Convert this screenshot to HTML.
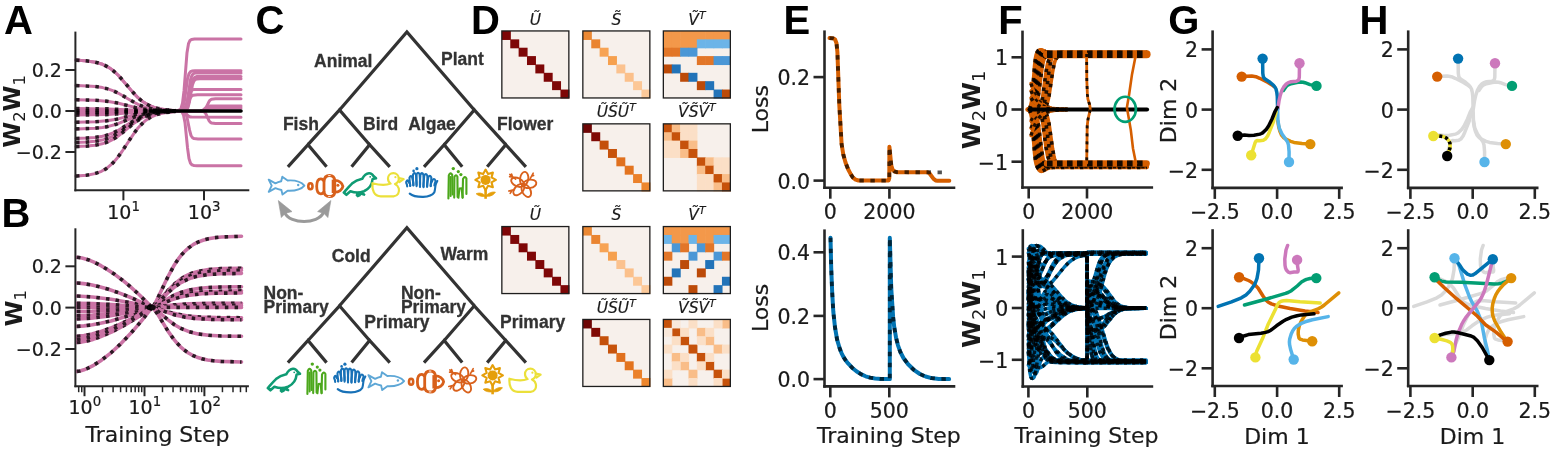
<!DOCTYPE html>
<html><head><meta charset="utf-8"><title>Figure</title>
<style>html,body{margin:0;padding:0;background:#fff;} svg{display:block;}</style></head>
<body><svg width="1551" height="451" viewBox="0 0 1551 451">
<rect width="1551" height="451" fill="#fff"/>
<path d="M76.0,60.1 87.0,60.9 95.5,62.2 102.5,64.3 108.5,67.3 113.5,70.8 118.5,75.5 132.5,91.9 138.0,97.7 143.0,101.8 148.5,105.1 154.5,107.5 161.0,109.1 170.0,110.2 178.0,110.4 180.0,109.6 181.0,108.3 182.5,103.3 184.0,90.9 187.0,52.7 188.5,43.7 190.0,40.4 191.5,39.4 194.5,39.0 241.0,39.0" fill="none" stroke="#ca73a5" stroke-width="3.0" stroke-linecap="round" stroke-linejoin="round" />
<path d="M76.0,85.6 87.0,85.9 95.5,86.6 102.5,87.6 108.5,89.1 113.5,90.9 118.5,93.3 132.5,101.5 138.0,104.3 143.0,106.4 148.5,108.1 154.5,109.3 161.0,110.0 170.5,110.6 178.5,110.7 180.5,110.3 181.5,109.6 183.0,107.0 184.5,100.4 187.5,78.9 189.0,73.6 190.5,71.7 192.0,71.0 195.0,70.8 241.0,70.8" fill="none" stroke="#ca73a5" stroke-width="3.0" stroke-linecap="round" stroke-linejoin="round" />
<path d="M76.0,99.8 95.5,100.3 108.5,101.4 118.5,103.2 138.0,108.1 149.0,109.8 164.0,110.7 182.0,110.7 183.5,110.3 184.5,109.6 186.0,106.7 187.5,99.8 190.5,79.7 192.0,75.2 193.5,73.6 195.0,73.1 198.0,72.9 241.0,72.9" fill="none" stroke="#ca73a5" stroke-width="3.0" stroke-linecap="round" stroke-linejoin="round" />
<path d="M76.0,108.6 108.5,108.9 150.5,110.8 178.5,111.0 184.0,110.7 185.5,110.2 186.5,109.3 188.0,105.9 189.0,101.4 192.0,83.0 193.5,78.7 195.0,77.1 196.5,76.6 199.5,76.4 241.0,76.4" fill="none" stroke="#ca73a5" stroke-width="3.0" stroke-linecap="round" stroke-linejoin="round" />
<path d="M76.0,111.0 179.0,111.0 184.5,110.8 186.5,109.8 188.0,107.4 189.5,101.6 192.5,84.6 194.0,80.8 195.5,79.4 197.0,79.0 200.0,78.8 241.0,78.8" fill="none" stroke="#ca73a5" stroke-width="3.0" stroke-linecap="round" stroke-linejoin="round" />
<path d="M76.0,112.6 106.5,112.4 144.0,111.3 181.5,110.8 183.5,110.1 185.0,108.3 186.5,104.0 189.0,94.2 190.5,91.1 192.0,90.0 193.5,89.6 196.5,89.5 241.0,89.5" fill="none" stroke="#ca73a5" stroke-width="3.0" stroke-linecap="round" stroke-linejoin="round" />
<path d="M76.0,115.1 108.5,114.5 138.0,112.1 148.5,111.5 182.5,110.9 184.5,110.3 186.0,108.9 187.5,105.7 190.0,98.3 191.5,96.1 193.0,95.2 197.5,94.8 241.0,94.8" fill="none" stroke="#ca73a5" stroke-width="3.0" stroke-linecap="round" stroke-linejoin="round" />
<path d="M76.0,122.2 95.5,121.7 108.5,120.6 118.0,118.9 138.5,113.8 151.0,112.0 167.0,111.2 202.0,110.9 204.0,110.3 205.5,108.9 209.0,101.6 210.0,100.2 211.5,99.2 215.5,98.7 241.0,98.7" fill="none" stroke="#ca73a5" stroke-width="3.0" stroke-linecap="round" stroke-linejoin="round" />
<path d="M76.0,128.9 95.5,128.2 102.5,127.4 108.5,126.4 118.0,123.7 133.0,117.5 138.5,115.5 145.0,113.8 151.5,112.6 158.5,111.9 167.5,111.4 200.5,110.9 203.0,110.2 207.0,106.7 210.0,106.0 241.0,105.9" fill="none" stroke="#ca73a5" stroke-width="3.0" stroke-linecap="round" stroke-linejoin="round" />
<path d="M76.0,138.5 87.0,138.1 95.5,137.4 102.5,136.2 108.5,134.6 113.0,132.9 118.0,130.4 133.0,121.0 139.0,117.7 145.5,115.1 153.0,113.1 160.0,112.1 169.0,111.5 202.0,110.9 204.5,110.3 208.0,108.5 210.5,108.0 241.0,107.9" fill="none" stroke="#ca73a5" stroke-width="3.0" stroke-linecap="round" stroke-linejoin="round" />
<path d="M76.0,142.5 87.0,142.1 95.0,141.3 102.0,140.1 108.0,138.3 113.0,136.1 118.0,133.3 133.5,122.1 140.0,118.1 144.0,116.3 148.0,114.8 157.0,112.7 167.5,111.7 181.0,111.3 184.0,111.9 185.5,113.0 188.5,116.2 190.0,116.9 191.5,117.1 241.0,117.2" fill="none" stroke="#ca73a5" stroke-width="3.0" stroke-linecap="round" stroke-linejoin="round" />
<path d="M76.0,146.6 87.0,146.1 95.0,145.2 102.0,143.8 108.0,141.8 113.0,139.4 117.5,136.5 122.0,133.1 134.0,123.2 141.0,118.5 145.0,116.5 149.5,114.8 154.0,113.5 159.5,112.6 166.5,111.8 175.5,111.4 202.0,111.2 204.0,111.7 205.5,113.1 209.0,120.6 210.0,122.0 211.5,123.0 215.5,123.5 241.0,123.5" fill="none" stroke="#ca73a5" stroke-width="3.0" stroke-linecap="round" stroke-linejoin="round" />
<path d="M76.0,176.1 87.0,175.2 95.0,173.6 101.5,171.3 107.5,167.7 112.5,163.4 117.5,157.7 122.0,151.5 134.0,133.3 138.0,128.0 141.5,124.2 146.0,120.2 150.5,117.3 155.5,115.1 161.0,113.5 168.0,112.3 177.0,111.6 182.0,111.5 183.5,111.8 184.5,112.3 186.0,114.3 187.0,117.3 189.5,129.9 191.0,135.5 192.5,137.8 194.0,138.6 198.0,138.9 241.0,138.9" fill="none" stroke="#ca73a5" stroke-width="3.0" stroke-linecap="round" stroke-linejoin="round" />
<path d="M76.0,60.1 87.0,60.9 95.5,62.2 102.5,64.3 108.5,67.3 113.5,70.8 118.5,75.5 132.5,91.9 138.0,97.7 143.0,101.8 148.5,105.1 153.5,107.2 159.0,108.7 167.0,109.9 179.0,110.8 181.0,111.3 182.0,112.1 183.5,115.0 185.0,122.7 187.5,147.7 189.0,158.6 190.5,163.3 192.0,164.9 194.0,165.5 197.0,165.7 241.0,165.7" fill="none" stroke="#ca73a5" stroke-width="3.0" stroke-linecap="round" stroke-linejoin="round" />
<path d="M76.0,60.1 86.0,60.8 94.0,61.9 100.5,63.6 106.0,65.9 111.5,69.3 116.5,73.5 121.5,78.8 135.5,95.2 140.0,99.5 144.5,102.9 150.5,106.1 157.0,108.2 165.0,109.7 175.5,110.5" fill="none" stroke="#000" stroke-width="3.6" stroke-linecap="butt" stroke-linejoin="round" stroke-dasharray="3.5 6.2" stroke-opacity="0.78"/>
<path d="M76.0,85.6 94.0,86.4 100.5,87.3 106.0,88.4 111.5,90.1 116.5,92.3 121.5,94.9 135.5,103.1 140.0,105.2 144.5,106.9 150.5,108.5 157.0,109.6 165.0,110.3 175.5,110.7" fill="none" stroke="#000" stroke-width="3.6" stroke-linecap="butt" stroke-linejoin="round" stroke-dasharray="3.5 6.2" stroke-opacity="0.78"/>
<path d="M76.0,99.8 94.0,100.2 106.0,101.1 116.5,102.8 135.5,107.5 144.5,109.2 157.0,110.4 175.5,110.9" fill="none" stroke="#000" stroke-width="3.6" stroke-linecap="butt" stroke-linejoin="round" stroke-dasharray="3.5 6.2" stroke-opacity="0.78"/>
<path d="M76.0,108.6 106.0,108.8 144.5,110.6 175.5,111.0" fill="none" stroke="#000" stroke-width="3.6" stroke-linecap="butt" stroke-linejoin="round" stroke-dasharray="3.5 6.2" stroke-opacity="0.78"/>
<path d="M76.0,111.0 175.5,111.0" fill="none" stroke="#000" stroke-width="3.6" stroke-linecap="butt" stroke-linejoin="round" stroke-dasharray="3.5 6.2" stroke-opacity="0.78"/>
<path d="M76.0,112.6 106.0,112.4 144.5,111.3 175.5,111.0" fill="none" stroke="#000" stroke-width="3.6" stroke-linecap="butt" stroke-linejoin="round" stroke-dasharray="3.5 6.2" stroke-opacity="0.78"/>
<path d="M76.0,115.1 106.0,114.6 116.5,114.0 144.5,111.7 157.0,111.2 175.5,111.0" fill="none" stroke="#000" stroke-width="3.6" stroke-linecap="butt" stroke-linejoin="round" stroke-dasharray="3.5 6.2" stroke-opacity="0.78"/>
<path d="M76.0,122.2 94.0,121.8 106.0,120.9 116.5,119.2 135.5,114.5 144.5,112.8 157.0,111.6 175.5,111.1" fill="none" stroke="#000" stroke-width="3.6" stroke-linecap="butt" stroke-linejoin="round" stroke-dasharray="3.5 6.2" stroke-opacity="0.78"/>
<path d="M76.0,128.9 94.0,128.3 106.0,126.9 111.5,125.7 116.5,124.2 135.5,116.6 144.5,113.9 150.5,112.7 157.0,112.0 175.5,111.2" fill="none" stroke="#000" stroke-width="3.6" stroke-linecap="butt" stroke-linejoin="round" stroke-dasharray="3.5 6.2" stroke-opacity="0.78"/>
<path d="M76.0,138.5 86.0,138.1 94.0,137.5 100.5,136.6 106.0,135.4 111.5,133.5 116.5,131.2 121.5,128.4 135.5,119.5 140.0,117.2 144.5,115.4 150.5,113.7 157.0,112.5 165.0,111.7 175.5,111.3" fill="none" stroke="#000" stroke-width="3.6" stroke-linecap="butt" stroke-linejoin="round" stroke-dasharray="3.5 6.2" stroke-opacity="0.78"/>
<path d="M76.0,142.5 86.0,142.1 94.0,141.5 100.5,140.4 106.0,139.0 111.5,136.9 116.5,134.2 121.5,131.0 135.5,120.8 140.0,118.1 144.5,116.0 150.5,114.1 157.0,112.7 165.0,111.8 175.5,111.3" fill="none" stroke="#000" stroke-width="3.6" stroke-linecap="butt" stroke-linejoin="round" stroke-dasharray="3.5 6.2" stroke-opacity="0.78"/>
<path d="M76.0,146.6 86.0,146.2 94.0,145.4 100.5,144.2 106.0,142.6 111.5,140.2 116.5,137.2 121.5,133.5 135.5,122.0 140.0,119.1 144.5,116.7 150.5,114.5 157.0,112.9 165.0,111.9 175.5,111.4" fill="none" stroke="#000" stroke-width="3.6" stroke-linecap="butt" stroke-linejoin="round" stroke-dasharray="3.5 6.2" stroke-opacity="0.78"/>
<path d="M76.0,176.1 86.0,175.3 94.0,173.9 100.5,171.7 106.0,168.8 111.5,164.4 116.5,159.0 121.5,152.2 131.0,137.6 135.5,131.2 140.0,125.7 144.5,121.4 147.5,119.2 150.5,117.3 157.0,114.6 165.0,112.7 175.5,111.6" fill="none" stroke="#000" stroke-width="3.6" stroke-linecap="butt" stroke-linejoin="round" stroke-dasharray="3.5 6.2" stroke-opacity="0.78"/>
<path d="M150.0,111.0 241.0,111.0" fill="none" stroke="#000" stroke-width="3.6" stroke-linecap="round" stroke-linejoin="round" />
<path d="M77.0,315.7 92.5,315.0 111.0,313.3 131.0,310.7 152.0,307.4 153.5,305.9 156.0,301.8 168.0,276.6 174.5,264.7 178.0,259.4 181.5,254.9 185.0,251.1 189.0,247.6 193.5,244.4 198.0,242.1 203.0,240.2 208.5,238.7 214.5,237.7 221.5,237.0 241.5,236.3" fill="none" stroke="#ca73a5" stroke-width="3.6" stroke-linecap="round" stroke-linejoin="round" />
<path d="M77.0,315.7 92.5,315.0 111.0,313.3 131.0,310.7 152.0,307.4 153.5,305.9 156.0,301.8 168.0,276.6 174.5,264.7 178.0,259.4 181.5,254.9 185.0,251.1 189.0,247.6 193.5,244.4 198.0,242.1 203.0,240.2 208.5,238.7 214.5,237.7 221.5,237.0 241.5,236.3" fill="none" stroke="#000" stroke-width="3.6" stroke-linecap="butt" stroke-linejoin="round" stroke-dasharray="3.5 6.2" stroke-opacity="0.78"/>
<path d="M77.0,307.4 152.0,307.4 153.5,306.6 156.0,304.3 168.0,290.4 174.5,283.9 181.5,278.5 185.0,276.4 189.0,274.4 193.5,272.7 198.0,271.4 208.5,269.6 221.5,268.6 241.5,268.2" fill="none" stroke="#ca73a5" stroke-width="3.6" stroke-linecap="round" stroke-linejoin="round" />
<path d="M77.0,307.4 152.0,307.4 153.5,306.6 156.0,304.3 168.0,290.4 174.5,283.9 181.5,278.5 185.0,276.4 189.0,274.4 193.5,272.7 198.0,271.4 208.5,269.6 221.5,268.6 241.5,268.2" fill="none" stroke="#000" stroke-width="3.6" stroke-linecap="butt" stroke-linejoin="round" stroke-dasharray="3.5 6.2" stroke-opacity="0.78"/>
<path d="M77.0,326.4 84.0,325.9 92.5,324.8 101.5,323.1 111.0,320.9 131.0,315.0 152.5,307.2 154.0,306.3 156.5,304.0 168.5,290.8 175.5,284.3 179.5,281.3 183.5,278.8 187.5,276.8 192.0,275.0 200.5,272.8 210.5,271.4 223.0,270.6 241.5,270.3" fill="none" stroke="#ca73a5" stroke-width="3.6" stroke-linecap="round" stroke-linejoin="round" />
<path d="M77.0,326.4 84.0,325.9 92.5,324.8 101.5,323.1 111.0,320.9 131.0,315.0 152.5,307.2 154.0,306.3 156.5,304.0 168.5,290.8 175.5,284.3 179.5,281.3 183.5,278.8 187.5,276.8 192.0,275.0 200.5,272.8 210.5,271.4 223.0,270.6 241.5,270.3" fill="none" stroke="#000" stroke-width="3.6" stroke-linecap="butt" stroke-linejoin="round" stroke-dasharray="3.5 6.2" stroke-opacity="0.78"/>
<path d="M77.0,342.5 81.5,342.1 87.0,341.0 93.0,339.4 99.0,337.3 112.0,331.8 125.5,324.7 137.0,317.7 152.0,307.4 154.0,306.4 157.5,303.3 168.0,292.7 173.5,287.8 180.0,283.2 187.0,279.6 191.5,277.9 196.0,276.6 207.0,274.7 220.5,273.8 241.5,273.4" fill="none" stroke="#ca73a5" stroke-width="3.6" stroke-linecap="round" stroke-linejoin="round" />
<path d="M77.0,342.5 81.5,342.1 87.0,341.0 93.0,339.4 99.0,337.3 112.0,331.8 125.5,324.7 137.0,317.7 152.0,307.4 154.0,306.4 157.5,303.3 168.0,292.7 173.5,287.8 180.0,283.2 187.0,279.6 191.5,277.9 196.0,276.6 207.0,274.7 220.5,273.8 241.5,273.4" fill="none" stroke="#000" stroke-width="3.6" stroke-linecap="butt" stroke-linejoin="round" stroke-dasharray="3.5 6.2" stroke-opacity="0.78"/>
<path d="M77.0,305.3 111.0,305.9 152.0,307.4 156.0,305.8 168.0,298.5 174.5,295.0 181.5,292.2 189.0,290.1 198.0,288.5 208.5,287.5 221.5,287.0 241.5,286.8" fill="none" stroke="#ca73a5" stroke-width="3.6" stroke-linecap="round" stroke-linejoin="round" />
<path d="M77.0,305.3 111.0,305.9 152.0,307.4 156.0,305.8 168.0,298.5 174.5,295.0 181.5,292.2 189.0,290.1 198.0,288.5 208.5,287.5 221.5,287.0 241.5,286.8" fill="none" stroke="#000" stroke-width="3.6" stroke-linecap="butt" stroke-linejoin="round" stroke-dasharray="3.5 6.2" stroke-opacity="0.78"/>
<path d="M77.0,319.0 91.0,318.1 107.5,316.1 125.5,313.1 144.5,309.2 155.0,306.5 169.0,299.8 176.5,296.8 183.0,294.8 190.0,293.3 198.5,292.2 209.0,291.5 241.5,290.9" fill="none" stroke="#ca73a5" stroke-width="3.6" stroke-linecap="round" stroke-linejoin="round" />
<path d="M77.0,319.0 91.0,318.1 107.5,316.1 125.5,313.1 144.5,309.2 155.0,306.5 169.0,299.8 176.5,296.8 183.0,294.8 190.0,293.3 198.5,292.2 209.0,291.5 241.5,290.9" fill="none" stroke="#000" stroke-width="3.6" stroke-linecap="butt" stroke-linejoin="round" stroke-dasharray="3.5 6.2" stroke-opacity="0.78"/>
<path d="M77.0,336.3 84.0,335.6 92.0,334.0 100.5,331.6 110.0,328.3 120.0,324.2 130.5,319.2 141.0,313.7 152.0,307.4 156.5,306.1 171.5,299.8 179.5,297.3 190.0,295.1 202.0,293.8 217.5,293.2 241.5,293.0" fill="none" stroke="#ca73a5" stroke-width="3.6" stroke-linecap="round" stroke-linejoin="round" />
<path d="M77.0,336.3 84.0,335.6 92.0,334.0 100.5,331.6 110.0,328.3 120.0,324.2 130.5,319.2 141.0,313.7 152.0,307.4 156.5,306.1 171.5,299.8 179.5,297.3 190.0,295.1 202.0,293.8 217.5,293.2 241.5,293.0" fill="none" stroke="#000" stroke-width="3.6" stroke-linecap="butt" stroke-linejoin="round" stroke-dasharray="3.5 6.2" stroke-opacity="0.78"/>
<path d="M77.0,296.0 92.5,297.0 111.0,299.3 131.0,302.8 152.0,307.4 174.5,304.9 189.0,303.9 208.5,303.4 241.5,303.3" fill="none" stroke="#ca73a5" stroke-width="3.6" stroke-linecap="round" stroke-linejoin="round" />
<path d="M77.0,296.0 92.5,297.0 111.0,299.3 131.0,302.8 152.0,307.4 174.5,304.9 189.0,303.9 208.5,303.4 241.5,303.3" fill="none" stroke="#000" stroke-width="3.6" stroke-linecap="butt" stroke-linejoin="round" stroke-dasharray="3.5 6.2" stroke-opacity="0.78"/>
<path d="M77.0,311.5 92.0,311.2 110.0,310.4 152.0,307.4 179.5,306.0 202.0,305.5 241.5,305.3" fill="none" stroke="#ca73a5" stroke-width="3.6" stroke-linecap="round" stroke-linejoin="round" />
<path d="M77.0,311.5 92.0,311.2 110.0,310.4 152.0,307.4 179.5,306.0 202.0,305.5 241.5,305.3" fill="none" stroke="#000" stroke-width="3.6" stroke-linecap="butt" stroke-linejoin="round" stroke-dasharray="3.5 6.2" stroke-opacity="0.78"/>
<path d="M77.0,339.4 84.0,338.6 92.5,336.7 101.5,333.8 111.0,330.1 121.0,325.5 131.0,320.2 141.5,314.1 152.0,307.4 241.5,307.4" fill="none" stroke="#ca73a5" stroke-width="3.6" stroke-linecap="round" stroke-linejoin="round" />
<path d="M77.0,339.4 84.0,338.6 92.5,336.7 101.5,333.8 111.0,330.1 121.0,325.5 131.0,320.2 141.5,314.1 152.0,307.4 241.5,307.4" fill="none" stroke="#000" stroke-width="3.6" stroke-linecap="butt" stroke-linejoin="round" stroke-dasharray="3.5 6.2" stroke-opacity="0.78"/>
<path d="M77.0,283.0 83.5,283.6 91.0,284.8 99.5,286.8 108.5,289.3 119.0,292.9 129.5,297.0 140.5,301.8 152.0,307.4 156.0,308.2 169.0,312.2 177.0,314.1 188.0,316.0 200.5,317.0 216.5,317.5 241.5,317.7" fill="none" stroke="#ca73a5" stroke-width="3.6" stroke-linecap="round" stroke-linejoin="round" />
<path d="M77.0,283.0 83.5,283.6 91.0,284.8 99.5,286.8 108.5,289.3 119.0,292.9 129.5,297.0 140.5,301.8 152.0,307.4 156.0,308.2 169.0,312.2 177.0,314.1 188.0,316.0 200.5,317.0 216.5,317.5 241.5,317.7" fill="none" stroke="#000" stroke-width="3.6" stroke-linecap="butt" stroke-linejoin="round" stroke-dasharray="3.5 6.2" stroke-opacity="0.78"/>
<path d="M77.0,303.3 92.5,303.6 111.5,304.5 152.5,307.5 156.5,308.5 168.5,312.9 176.0,315.2 184.5,317.1 194.0,318.4 212.0,319.5 241.5,319.8" fill="none" stroke="#ca73a5" stroke-width="3.6" stroke-linecap="round" stroke-linejoin="round" />
<path d="M77.0,303.3 92.5,303.6 111.5,304.5 152.5,307.5 156.5,308.5 168.5,312.9 176.0,315.2 184.5,317.1 194.0,318.4 212.0,319.5 241.5,319.8" fill="none" stroke="#000" stroke-width="3.6" stroke-linecap="butt" stroke-linejoin="round" stroke-dasharray="3.5 6.2" stroke-opacity="0.78"/>
<path d="M77.0,371.4 80.0,371.0 84.0,369.8 88.0,368.2 92.5,365.9 101.5,360.2 111.0,352.8 121.0,343.6 131.0,333.1 141.5,320.8 152.0,307.4 153.5,308.0 156.0,309.7 168.0,319.9 174.5,324.7 181.5,328.7 189.0,331.7 198.0,333.9 208.5,335.3 221.5,336.0 241.5,336.3" fill="none" stroke="#ca73a5" stroke-width="3.6" stroke-linecap="round" stroke-linejoin="round" />
<path d="M77.0,371.4 80.0,371.0 84.0,369.8 88.0,368.2 92.5,365.9 101.5,360.2 111.0,352.8 121.0,343.6 131.0,333.1 141.5,320.8 152.0,307.4 153.5,308.0 156.0,309.7 168.0,319.9 174.5,324.7 181.5,328.7 189.0,331.7 198.0,333.9 208.5,335.3 221.5,336.0 241.5,336.3" fill="none" stroke="#000" stroke-width="3.6" stroke-linecap="butt" stroke-linejoin="round" stroke-dasharray="3.5 6.2" stroke-opacity="0.78"/>
<path d="M77.0,257.2 82.0,258.0 88.0,259.7 94.5,262.4 101.0,265.7 108.0,269.9 115.0,274.6 122.5,280.2 130.0,286.4 139.5,295.0 152.0,307.4 154.0,309.1 157.5,313.9 168.0,331.1 173.5,338.9 177.0,343.1 180.5,346.8 184.0,349.9 188.0,352.7 192.5,355.3 197.0,357.2 202.0,358.8 207.5,360.0 213.5,360.8 221.0,361.4 241.5,362.0" fill="none" stroke="#ca73a5" stroke-width="3.6" stroke-linecap="round" stroke-linejoin="round" />
<path d="M77.0,257.2 82.0,258.0 88.0,259.7 94.5,262.4 101.0,265.7 108.0,269.9 115.0,274.6 122.5,280.2 130.0,286.4 139.5,295.0 152.0,307.4 154.0,309.1 157.5,313.9 168.0,331.1 173.5,338.9 177.0,343.1 180.5,346.8 184.0,349.9 188.0,352.7 192.5,355.3 197.0,357.2 202.0,358.8 207.5,360.0 213.5,360.8 221.0,361.4 241.5,362.0" fill="none" stroke="#000" stroke-width="3.6" stroke-linecap="butt" stroke-linejoin="round" stroke-dasharray="3.5 6.2" stroke-opacity="0.78"/>
<ellipse cx="151.2" cy="307.4" rx="4.6" ry="3.0" fill="#000" fill-opacity="0.9"/>
<path d="M829.5,38.1 833.0,38.3 835.0,39.2 836.5,43.2 837.4,52.0 839.3,105.0 841.6,144.0 843.3,154.5 845.5,162.5 848.0,169.0 850.7,174.2 853.0,177.6 855.6,179.6 858.5,180.5 888.6,180.6 889.3,178.0 889.4,146.8 891.3,165.6 892.6,169.6 894.5,171.5 897.0,172.2 927.6,172.3 929.2,173.0 933.6,178.9 935.6,180.4 937.5,180.7 949.3,180.7" fill="none" stroke="#d55e00" stroke-width="4.0" stroke-linecap="round" stroke-linejoin="round" />
<path d="M829.5,38.1 833.0,38.3 835.0,39.2 836.5,43.2 837.4,52.0 839.3,105.0 841.6,144.0 843.3,154.5 845.5,162.5 848.0,169.0 850.7,174.2 853.0,177.6 855.6,179.6 858.5,180.5 888.6,180.6 889.3,178.0 889.4,146.8 891.3,165.6 892.6,169.6 894.5,171.5 897.0,172.2 944.5,172.3" fill="none" stroke="#000" stroke-width="3.8" stroke-linecap="butt" stroke-linejoin="round" stroke-dasharray="4.4 6.6" stroke-opacity="0.68"/>
<path d="M830.5,237.7 831.2,268.0 832.2,292.7 833.3,311.5 835.0,327.4 837.1,339.6 839.8,348.7 841.4,352.8 843.3,356.6 845.4,360.0 848.1,363.4 852.1,367.7 856.4,371.2 860.9,374.1 865.6,376.3 870.1,377.6 875.1,378.5 881.0,378.9 889.8,379.1 889.8,237.7 891.2,287.6 893.1,317.0 894.3,327.4 896.0,337.4 897.9,345.1 900.2,351.7 903.6,358.2 908.1,364.3 913.8,369.8 919.9,374.0 925.6,376.5 931.5,378.1 938.7,378.9 949.1,379.1" fill="none" stroke="#0173b2" stroke-width="4.0" stroke-linecap="round" stroke-linejoin="round" />
<path d="M830.5,237.7 831.2,268.0 832.2,292.7 833.3,311.5 835.0,327.4 837.1,339.6 839.8,348.7 841.4,352.8 843.3,356.6 845.4,360.0 848.1,363.4 852.1,367.7 856.4,371.2 860.9,374.1 865.6,376.3 870.1,377.6 875.1,378.5 881.0,378.9 889.8,379.1 889.8,237.7 891.2,287.6 893.1,317.0 894.3,327.4 896.0,337.4 897.9,345.1 900.2,351.7 903.6,358.2 908.1,364.3 913.8,369.8 919.9,374.0 925.6,376.5 931.5,378.1 938.7,378.9 949.1,379.1" fill="none" stroke="#000" stroke-width="3.8" stroke-linecap="butt" stroke-linejoin="round" stroke-dasharray="4.4 6.6" stroke-opacity="0.68"/>
<path d="M1028.5,108.9 1029.5,108.1 1030.5,106.2 1031.5,101.7 1032.5,92.7 1034.5,66.3 1035.5,57.8 1036.0,55.3 1037.0,52.2 1038.0,50.8 1039.0,50.2 1040.0,50.0 1041.5,50.5 1045.5,53.2 1047.5,54.3 1049.5,54.8 1052.0,55.1 1147.0,55.1" fill="none" stroke="#d55e00" stroke-width="3.6" stroke-linecap="round" stroke-linejoin="round" />
<path d="M1028.5,109.2 1030.0,108.4 1031.0,107.1 1032.0,104.1 1032.5,101.7 1033.5,93.8 1036.5,60.1 1038.0,52.9 1039.0,50.9 1040.0,50.0 1041.0,49.8 1042.0,49.9 1048.0,52.8 1050.0,53.4 1053.0,53.6 1147.0,53.7" fill="none" stroke="#d55e00" stroke-width="3.6" stroke-linecap="round" stroke-linejoin="round" />
<path d="M1028.5,109.3 1030.5,108.7 1031.5,107.7 1033.0,104.2 1034.5,95.2 1037.0,68.9 1038.0,60.9 1039.5,54.6 1040.5,52.8 1041.5,52.0 1043.5,51.8 1049.5,54.0 1054.5,54.5 1147.0,54.5" fill="none" stroke="#d55e00" stroke-width="3.6" stroke-linecap="round" stroke-linejoin="round" />
<path d="M1028.5,109.4 1030.5,109.0 1032.0,108.1 1033.0,106.7 1034.0,104.0 1035.5,95.8 1038.5,66.9 1039.5,59.9 1041.0,54.2 1042.0,52.4 1043.0,51.6 1045.0,51.4 1050.5,53.0 1055.5,53.4 1147.0,53.4" fill="none" stroke="#d55e00" stroke-width="3.6" stroke-linecap="round" stroke-linejoin="round" />
<path d="M1028.5,109.4 1031.0,109.1 1032.5,108.4 1034.0,106.7 1035.0,104.3 1036.0,100.2 1037.0,93.8 1039.5,71.2 1041.0,60.8 1042.5,55.4 1043.5,53.7 1044.5,52.8 1046.5,52.3 1052.5,53.1 1057.5,53.3 1147.0,53.3" fill="none" stroke="#d55e00" stroke-width="3.6" stroke-linecap="round" stroke-linejoin="round" />
<path d="M1028.5,109.5 1032.0,109.1 1034.0,108.3 1035.5,106.5 1036.5,104.1 1037.5,100.4 1038.5,94.7 1042.5,65.1 1044.0,59.4 1045.0,57.4 1046.5,56.0 1049.0,55.5 1058.5,55.9 1147.0,55.9" fill="none" stroke="#d55e00" stroke-width="3.6" stroke-linecap="round" stroke-linejoin="round" />
<path d="M1028.5,109.5 1034.5,109.4 1037.0,109.0 1039.0,107.9 1040.5,105.6 1041.5,102.7 1042.5,98.1 1046.0,72.2 1047.5,63.9 1049.0,59.6 1050.0,58.1 1051.5,57.0 1054.0,56.4 1058.0,56.2 1147.0,56.2" fill="none" stroke="#d55e00" stroke-width="3.6" stroke-linecap="round" stroke-linejoin="round" />
<path d="M1028.5,109.5 1036.5,109.4 1039.5,109.0 1041.0,108.4 1042.0,107.6 1043.5,105.1 1045.0,100.2 1046.0,94.8 1049.0,71.9 1050.5,62.7 1051.5,58.7 1052.5,56.1 1053.5,54.5 1055.0,53.3 1057.5,52.6 1062.0,52.3 1147.0,52.3" fill="none" stroke="#d55e00" stroke-width="3.6" stroke-linecap="round" stroke-linejoin="round" />
<path d="M1028.5,109.5 1038.0,109.4 1041.5,109.2 1044.0,108.3 1046.0,106.1 1047.5,102.5 1049.0,96.1 1052.5,72.5 1054.0,64.6 1055.0,61.1 1056.0,58.8 1057.5,56.8 1059.0,55.8 1061.5,55.2 1066.0,55.1 1147.0,55.0" fill="none" stroke="#d55e00" stroke-width="3.6" stroke-linecap="round" stroke-linejoin="round" />
<path d="M1028.5,110.1 1029.5,110.9 1030.5,112.8 1031.5,117.3 1032.5,126.3 1034.5,152.7 1035.5,161.2 1036.0,163.7 1037.0,166.8 1038.0,168.2 1039.0,168.8 1040.0,169.0 1041.5,168.5 1045.5,165.8 1047.5,164.7 1049.5,164.2 1052.0,163.9 1147.0,163.8" fill="none" stroke="#d55e00" stroke-width="3.6" stroke-linecap="round" stroke-linejoin="round" />
<path d="M1028.5,109.8 1030.0,110.6 1031.0,112.0 1032.0,115.0 1032.5,117.6 1033.5,125.8 1036.5,160.7 1038.0,168.1 1039.0,170.1 1040.0,171.1 1041.0,171.4 1042.0,171.3 1048.0,168.3 1050.0,167.8 1053.0,167.5 1147.0,167.4" fill="none" stroke="#d55e00" stroke-width="3.6" stroke-linecap="round" stroke-linejoin="round" />
<path d="M1028.5,109.7 1030.5,110.3 1031.5,111.3 1033.0,114.9 1034.5,123.9 1037.0,150.5 1038.0,158.5 1039.5,164.8 1040.5,166.6 1041.5,167.5 1043.5,167.6 1049.5,165.5 1054.5,165.0 1147.0,165.0" fill="none" stroke="#d55e00" stroke-width="3.6" stroke-linecap="round" stroke-linejoin="round" />
<path d="M1028.5,109.6 1030.5,110.0 1032.0,111.0 1033.0,112.4 1034.0,115.1 1035.5,123.5 1038.5,152.8 1039.5,160.0 1041.0,165.9 1042.0,167.6 1043.0,168.5 1045.0,168.7 1050.5,167.1 1055.5,166.7 1147.0,166.7" fill="none" stroke="#d55e00" stroke-width="3.6" stroke-linecap="round" stroke-linejoin="round" />
<path d="M1028.5,109.6 1031.0,109.9 1032.5,110.6 1034.0,112.3 1035.0,114.7 1036.0,118.7 1037.0,125.0 1039.5,147.3 1041.0,157.6 1042.5,162.9 1043.5,164.7 1044.5,165.5 1046.5,166.0 1052.5,165.2 1057.5,165.0 1147.0,165.0" fill="none" stroke="#d55e00" stroke-width="3.6" stroke-linecap="round" stroke-linejoin="round" />
<path d="M1028.5,109.5 1032.0,109.9 1034.0,110.8 1035.5,112.7 1036.5,115.1 1037.5,119.1 1038.5,125.0 1041.5,149.6 1043.0,158.5 1044.5,163.2 1045.5,164.8 1047.0,165.9 1049.0,166.2 1058.5,165.8 1147.0,165.7" fill="none" stroke="#d55e00" stroke-width="3.6" stroke-linecap="round" stroke-linejoin="round" />
<path d="M1028.5,109.5 1034.5,109.6 1037.0,110.0 1039.0,111.1 1040.5,113.5 1041.5,116.4 1042.5,121.0 1046.0,147.3 1047.5,155.6 1049.0,160.0 1050.0,161.6 1051.5,162.7 1054.0,163.3 1058.0,163.4 1147.0,163.5" fill="none" stroke="#d55e00" stroke-width="3.6" stroke-linecap="round" stroke-linejoin="round" />
<path d="M1028.5,109.5 1036.5,109.6 1039.5,110.0 1041.0,110.6 1042.0,111.4 1043.5,113.8 1045.0,118.7 1046.0,123.9 1049.0,146.5 1050.5,155.5 1051.5,159.5 1052.5,162.0 1053.5,163.6 1055.0,164.8 1057.5,165.5 1062.0,165.7 1147.0,165.7" fill="none" stroke="#d55e00" stroke-width="3.6" stroke-linecap="round" stroke-linejoin="round" />
<path d="M1028.5,109.5 1038.0,109.6 1041.5,109.8 1044.0,110.8 1045.0,111.6 1046.0,113.0 1047.5,116.8 1049.0,123.6 1052.5,148.4 1054.0,156.8 1055.0,160.5 1056.0,162.9 1057.5,165.0 1059.0,166.0 1061.5,166.6 1066.0,166.8 1147.0,166.8" fill="none" stroke="#d55e00" stroke-width="3.6" stroke-linecap="round" stroke-linejoin="round" />
<path d="M1028.5,108.9 1029.5,108.1 1030.5,106.2 1031.5,101.7 1032.5,92.7 1034.5,66.3 1035.5,57.8 1036.0,55.3 1037.0,52.2 1038.0,50.8 1039.0,50.2 1040.0,50.0 1041.5,50.5 1045.5,53.2 1047.5,54.3 1049.5,54.8 1052.0,55.1 1147.0,55.1" fill="none" stroke="#000" stroke-width="3.6" stroke-linecap="butt" stroke-linejoin="round" stroke-dasharray="3.5 6" stroke-opacity="0.85"/>
<path d="M1028.5,109.2 1030.0,108.4 1031.0,107.1 1032.0,104.1 1032.5,101.7 1033.5,93.8 1036.5,60.1 1038.0,52.9 1039.0,50.9 1040.0,50.0 1041.0,49.8 1042.0,49.9 1048.0,52.8 1050.0,53.4 1053.0,53.6 1147.0,53.7" fill="none" stroke="#000" stroke-width="3.6" stroke-linecap="butt" stroke-linejoin="round" stroke-dasharray="3.5 6" stroke-opacity="0.85"/>
<path d="M1028.5,109.3 1030.5,108.7 1031.5,107.7 1033.0,104.2 1034.5,95.2 1037.0,68.9 1038.0,60.9 1039.5,54.6 1040.5,52.8 1041.5,52.0 1043.5,51.8 1049.5,54.0 1054.5,54.5 1147.0,54.5" fill="none" stroke="#000" stroke-width="3.6" stroke-linecap="butt" stroke-linejoin="round" stroke-dasharray="3.5 6" stroke-opacity="0.85"/>
<path d="M1028.5,109.4 1030.5,109.0 1032.0,108.1 1033.0,106.7 1034.0,104.0 1035.5,95.8 1038.5,66.9 1039.5,59.9 1041.0,54.2 1042.0,52.4 1043.0,51.6 1045.0,51.4 1050.5,53.0 1055.5,53.4 1147.0,53.4" fill="none" stroke="#000" stroke-width="3.6" stroke-linecap="butt" stroke-linejoin="round" stroke-dasharray="3.5 6" stroke-opacity="0.85"/>
<path d="M1028.5,109.4 1031.0,109.1 1032.5,108.4 1034.0,106.7 1035.0,104.3 1036.0,100.2 1037.0,93.8 1039.5,71.2 1041.0,60.8 1042.5,55.4 1043.5,53.7 1044.5,52.8 1046.5,52.3 1052.5,53.1 1057.5,53.3 1147.0,53.3" fill="none" stroke="#000" stroke-width="3.6" stroke-linecap="butt" stroke-linejoin="round" stroke-dasharray="3.5 6" stroke-opacity="0.85"/>
<path d="M1028.5,109.5 1032.0,109.1 1034.0,108.3 1035.5,106.5 1036.5,104.1 1037.5,100.4 1038.5,94.7 1042.5,65.1 1044.0,59.4 1045.0,57.4 1046.5,56.0 1049.0,55.5 1058.5,55.9 1147.0,55.9" fill="none" stroke="#000" stroke-width="3.6" stroke-linecap="butt" stroke-linejoin="round" stroke-dasharray="3.5 6" stroke-opacity="0.85"/>
<path d="M1028.5,109.5 1034.5,109.4 1037.0,109.0 1039.0,107.9 1040.5,105.6 1041.5,102.7 1042.5,98.1 1046.0,72.2 1047.5,63.9 1049.0,59.6 1050.0,58.1 1051.5,57.0 1054.0,56.4 1058.0,56.2 1147.0,56.2" fill="none" stroke="#000" stroke-width="3.6" stroke-linecap="butt" stroke-linejoin="round" stroke-dasharray="3.5 6" stroke-opacity="0.85"/>
<path d="M1028.5,109.5 1036.5,109.4 1039.5,109.0 1041.0,108.4 1042.0,107.6 1043.5,105.1 1045.0,100.2 1046.0,94.8 1049.0,71.9 1050.5,62.7 1051.5,58.7 1052.5,56.1 1053.5,54.5 1055.0,53.3 1057.5,52.6 1062.0,52.3 1147.0,52.3" fill="none" stroke="#000" stroke-width="3.6" stroke-linecap="butt" stroke-linejoin="round" stroke-dasharray="3.5 6" stroke-opacity="0.85"/>
<path d="M1028.5,109.5 1038.0,109.4 1041.5,109.2 1044.0,108.3 1046.0,106.1 1047.5,102.5 1049.0,96.1 1052.5,72.5 1054.0,64.6 1055.0,61.1 1056.0,58.8 1057.5,56.8 1059.0,55.8 1061.5,55.2 1066.0,55.1 1147.0,55.0" fill="none" stroke="#000" stroke-width="3.6" stroke-linecap="butt" stroke-linejoin="round" stroke-dasharray="3.5 6" stroke-opacity="0.85"/>
<path d="M1028.5,110.1 1029.5,110.9 1030.5,112.8 1031.5,117.3 1032.5,126.3 1034.5,152.7 1035.5,161.2 1036.0,163.7 1037.0,166.8 1038.0,168.2 1039.0,168.8 1040.0,169.0 1041.5,168.5 1045.5,165.8 1047.5,164.7 1049.5,164.2 1052.0,163.9 1147.0,163.8" fill="none" stroke="#000" stroke-width="3.6" stroke-linecap="butt" stroke-linejoin="round" stroke-dasharray="3.5 6" stroke-opacity="0.85"/>
<path d="M1028.5,109.8 1030.0,110.6 1031.0,112.0 1032.0,115.0 1032.5,117.6 1033.5,125.8 1036.5,160.7 1038.0,168.1 1039.0,170.1 1040.0,171.1 1041.0,171.4 1042.0,171.3 1048.0,168.3 1050.0,167.8 1053.0,167.5 1147.0,167.4" fill="none" stroke="#000" stroke-width="3.6" stroke-linecap="butt" stroke-linejoin="round" stroke-dasharray="3.5 6" stroke-opacity="0.85"/>
<path d="M1028.5,109.7 1030.5,110.3 1031.5,111.3 1033.0,114.9 1034.5,123.9 1037.0,150.5 1038.0,158.5 1039.5,164.8 1040.5,166.6 1041.5,167.5 1043.5,167.6 1049.5,165.5 1054.5,165.0 1147.0,165.0" fill="none" stroke="#000" stroke-width="3.6" stroke-linecap="butt" stroke-linejoin="round" stroke-dasharray="3.5 6" stroke-opacity="0.85"/>
<path d="M1028.5,109.6 1030.5,110.0 1032.0,111.0 1033.0,112.4 1034.0,115.1 1035.5,123.5 1038.5,152.8 1039.5,160.0 1041.0,165.9 1042.0,167.6 1043.0,168.5 1045.0,168.7 1050.5,167.1 1055.5,166.7 1147.0,166.7" fill="none" stroke="#000" stroke-width="3.6" stroke-linecap="butt" stroke-linejoin="round" stroke-dasharray="3.5 6" stroke-opacity="0.85"/>
<path d="M1028.5,109.6 1031.0,109.9 1032.5,110.6 1034.0,112.3 1035.0,114.7 1036.0,118.7 1037.0,125.0 1039.5,147.3 1041.0,157.6 1042.5,162.9 1043.5,164.7 1044.5,165.5 1046.5,166.0 1052.5,165.2 1057.5,165.0 1147.0,165.0" fill="none" stroke="#000" stroke-width="3.6" stroke-linecap="butt" stroke-linejoin="round" stroke-dasharray="3.5 6" stroke-opacity="0.85"/>
<path d="M1028.5,109.5 1032.0,109.9 1034.0,110.8 1035.5,112.7 1036.5,115.1 1037.5,119.1 1038.5,125.0 1041.5,149.6 1043.0,158.5 1044.5,163.2 1045.5,164.8 1047.0,165.9 1049.0,166.2 1058.5,165.8 1147.0,165.7" fill="none" stroke="#000" stroke-width="3.6" stroke-linecap="butt" stroke-linejoin="round" stroke-dasharray="3.5 6" stroke-opacity="0.85"/>
<path d="M1028.5,109.5 1034.5,109.6 1037.0,110.0 1039.0,111.1 1040.5,113.5 1041.5,116.4 1042.5,121.0 1046.0,147.3 1047.5,155.6 1049.0,160.0 1050.0,161.6 1051.5,162.7 1054.0,163.3 1058.0,163.4 1147.0,163.5" fill="none" stroke="#000" stroke-width="3.6" stroke-linecap="butt" stroke-linejoin="round" stroke-dasharray="3.5 6" stroke-opacity="0.85"/>
<path d="M1028.5,109.5 1036.5,109.6 1039.5,110.0 1041.0,110.6 1042.0,111.4 1043.5,113.8 1045.0,118.7 1046.0,123.9 1049.0,146.5 1050.5,155.5 1051.5,159.5 1052.5,162.0 1053.5,163.6 1055.0,164.8 1057.5,165.5 1062.0,165.7 1147.0,165.7" fill="none" stroke="#000" stroke-width="3.6" stroke-linecap="butt" stroke-linejoin="round" stroke-dasharray="3.5 6" stroke-opacity="0.85"/>
<path d="M1028.5,109.5 1038.0,109.6 1041.5,109.8 1044.0,110.8 1045.0,111.6 1046.0,113.0 1047.5,116.8 1049.0,123.6 1052.5,148.4 1054.0,156.8 1055.0,160.5 1056.0,162.9 1057.5,165.0 1059.0,166.0 1061.5,166.6 1066.0,166.8 1147.0,166.8" fill="none" stroke="#000" stroke-width="3.6" stroke-linecap="butt" stroke-linejoin="round" stroke-dasharray="3.5 6" stroke-opacity="0.85"/>
<path d="M1047.0,54.3 1146.6,54.3" fill="none" stroke="#d55e00" stroke-width="8.0" stroke-linecap="round" stroke-linejoin="round" />
<path d="M1047.0,54.3 1146.6,54.3" fill="none" stroke="#000" stroke-width="7.6" stroke-linecap="butt" stroke-linejoin="round" stroke-dasharray="5.6 4.4" stroke-opacity="0.9"/>
<path d="M1047.0,163.5 1146.6,163.5" fill="none" stroke="#d55e00" stroke-width="6.4" stroke-linecap="round" stroke-linejoin="round" />
<path d="M1047.0,163.5 1146.6,163.5" fill="none" stroke="#000" stroke-width="6.0" stroke-linecap="butt" stroke-linejoin="round" stroke-dasharray="5.6 4.4" stroke-opacity="0.9"/>
<path d="M1031.0,83.4 1033.5,91.2 1036.0,96.7 1039.0,101.2 1042.5,104.5 1046.5,106.6 1051.5,108.1 1058.0,108.9 1067.5,109.4" fill="none" stroke="#d55e00" stroke-width="3.4" stroke-linecap="round" stroke-linejoin="round" />
<path d="M1031.0,83.4 1033.5,91.2 1036.0,96.7 1039.0,101.2 1042.5,104.5 1046.5,106.6 1051.5,108.1 1058.0,108.9 1067.5,109.4" fill="none" stroke="#000" stroke-width="3.4" stroke-linecap="butt" stroke-linejoin="round" stroke-dasharray="3.5 6" stroke-opacity="0.85"/>
<path d="M1031.0,90.7 1033.5,96.4 1036.0,100.3 1039.0,103.5 1042.5,105.9 1046.5,107.4 1051.5,108.5 1058.0,109.1 1067.5,109.4" fill="none" stroke="#d55e00" stroke-width="3.4" stroke-linecap="round" stroke-linejoin="round" />
<path d="M1031.0,90.7 1033.5,96.4 1036.0,100.3 1039.0,103.5 1042.5,105.9 1046.5,107.4 1051.5,108.5 1058.0,109.1 1067.5,109.4" fill="none" stroke="#000" stroke-width="3.4" stroke-linecap="butt" stroke-linejoin="round" stroke-dasharray="3.5 6" stroke-opacity="0.85"/>
<path d="M1031.0,98.0 1033.5,101.5 1036.0,103.9 1039.0,105.8 1042.5,107.3 1046.5,108.2 1051.5,108.9 1067.5,109.4" fill="none" stroke="#d55e00" stroke-width="3.4" stroke-linecap="round" stroke-linejoin="round" />
<path d="M1031.0,98.0 1033.5,101.5 1036.0,103.9 1039.0,105.8 1042.5,107.3 1046.5,108.2 1051.5,108.9 1067.5,109.4" fill="none" stroke="#000" stroke-width="3.4" stroke-linecap="butt" stroke-linejoin="round" stroke-dasharray="3.5 6" stroke-opacity="0.85"/>
<path d="M1031.0,121.0 1033.5,117.5 1036.0,115.1 1039.0,113.2 1042.5,111.7 1046.5,110.8 1051.5,110.1 1067.5,109.6" fill="none" stroke="#d55e00" stroke-width="3.4" stroke-linecap="round" stroke-linejoin="round" />
<path d="M1031.0,121.0 1033.5,117.5 1036.0,115.1 1039.0,113.2 1042.5,111.7 1046.5,110.8 1051.5,110.1 1067.5,109.6" fill="none" stroke="#000" stroke-width="3.4" stroke-linecap="butt" stroke-linejoin="round" stroke-dasharray="3.5 6" stroke-opacity="0.85"/>
<path d="M1031.0,128.3 1033.5,122.6 1036.0,118.7 1039.0,115.5 1042.5,113.1 1046.5,111.6 1051.5,110.5 1058.0,109.9 1067.5,109.6" fill="none" stroke="#d55e00" stroke-width="3.4" stroke-linecap="round" stroke-linejoin="round" />
<path d="M1031.0,128.3 1033.5,122.6 1036.0,118.7 1039.0,115.5 1042.5,113.1 1046.5,111.6 1051.5,110.5 1058.0,109.9 1067.5,109.6" fill="none" stroke="#000" stroke-width="3.4" stroke-linecap="butt" stroke-linejoin="round" stroke-dasharray="3.5 6" stroke-opacity="0.85"/>
<path d="M1031.0,135.6 1033.5,127.8 1036.0,122.3 1039.0,117.8 1042.5,114.5 1046.5,112.4 1051.5,110.9 1058.0,110.1 1067.5,109.6" fill="none" stroke="#d55e00" stroke-width="3.4" stroke-linecap="round" stroke-linejoin="round" />
<path d="M1031.0,135.6 1033.5,127.8 1036.0,122.3 1039.0,117.8 1042.5,114.5 1046.5,112.4 1051.5,110.9 1058.0,110.1 1067.5,109.6" fill="none" stroke="#000" stroke-width="3.4" stroke-linecap="butt" stroke-linejoin="round" stroke-dasharray="3.5 6" stroke-opacity="0.85"/>
<circle cx="1027.6" cy="109.5" r="2.3" fill="#d55e00"/>
<path d="M1029.5,109.5 1147.0,109.5" fill="none" stroke="#000" stroke-width="4.2" stroke-linecap="round" stroke-linejoin="round" />
<path d="M1086.6,54.0 1086.8,80.0 1087.4,94.4 1087.9,99.1 1089.6,104.5 1090.2,108.4 1090.0,110.6 1088.0,119.3 1087.2,126.0 1086.7,163.0" fill="none" stroke="#d55e00" stroke-width="2.8" stroke-linecap="round" stroke-linejoin="round" />
<path d="M1086.6,54.0 1086.8,80.0 1087.4,94.4 1087.9,99.1 1089.6,104.5 1090.2,108.4 1090.0,110.6 1088.0,119.3 1087.2,126.0 1086.7,163.0" fill="none" stroke="#000" stroke-width="2.8" stroke-linecap="butt" stroke-linejoin="round" stroke-dasharray="3 5" stroke-opacity="0.85"/>
<path d="M1135.6,56.0 1132.0,74.4 1129.0,95.3 1126.9,107.5 1130.8,129.9 1133.0,148.5 1136.0,163.5" fill="none" stroke="#d55e00" stroke-width="2.6" stroke-linecap="round" stroke-linejoin="round" />
<ellipse cx="1125.2" cy="109.3" rx="10.7" ry="12.6" fill="none" stroke="#029e73" stroke-width="2.6"/>
<path d="M1028.4,283.2 1029.8,281.2 1030.9,277.8 1034.4,258.3 1035.5,254.1 1036.9,251.3 1038.3,250.4 1040.1,250.5 1045.0,252.6 1048.9,252.9 1087.1,253.0 1087.4,252.5 1146.1,252.5" fill="none" stroke="#0173b2" stroke-width="3.5" stroke-linecap="round" stroke-linejoin="round" />
<path d="M1028.4,279.0 1029.8,281.4 1030.9,282.4 1031.9,282.3 1032.6,281.6 1034.4,277.5 1037.9,263.9 1039.7,258.5 1040.8,256.3 1041.8,254.9 1043.2,253.8 1044.7,253.2 1048.9,252.9 1087.1,253.0 1087.4,252.5 1146.1,252.5" fill="none" stroke="#0173b2" stroke-width="3.5" stroke-linecap="round" stroke-linejoin="round" />
<path d="M1028.4,267.5 1032.3,280.2 1033.7,282.9 1034.4,283.6 1035.1,283.7 1036.5,282.8 1037.9,280.4 1043.2,266.7 1045.4,262.2 1047.8,258.8 1050.3,256.9 1053.5,255.8 1058.4,255.2 1087.1,255.1 1087.4,317.1 1089.9,315.5 1092.0,313.2 1093.8,310.5 1095.5,306.8 1098.7,297.3 1103.7,278.4 1106.1,270.0 1109.0,263.1 1110.4,260.6 1112.2,258.3 1113.9,256.8 1116.0,255.5 1118.2,254.7 1121.0,254.1 1128.4,253.6 1146.1,253.5" fill="none" stroke="#0173b2" stroke-width="3.5" stroke-linecap="round" stroke-linejoin="round" />
<path d="M1028.4,300.1 1032.3,251.7 1033.0,248.1 1033.7,246.6 1034.4,246.1 1036.5,245.8 1038.6,246.5 1040.4,248.2 1044.3,253.4 1045.7,254.2 1047.1,254.5 1057.4,253.7 1087.1,253.7 1087.4,253.4 1146.1,253.4" fill="none" stroke="#0173b2" stroke-width="3.5" stroke-linecap="round" stroke-linejoin="round" />
<path d="M1028.4,253.0 1029.5,256.0 1032.3,272.6 1033.3,276.2 1034.1,277.0 1034.8,276.5 1035.8,273.9 1040.1,257.7 1041.5,254.7 1042.9,253.4 1045.0,253.2 1050.3,254.6 1054.6,255.1 1087.1,255.1 1087.4,332.0 1091.3,331.5 1094.5,330.8 1097.0,329.9 1099.4,328.4 1103.3,324.9 1112.2,314.4 1115.0,312.0 1118.2,310.3 1122.1,309.2 1127.0,308.6 1146.1,308.2" fill="none" stroke="#0173b2" stroke-width="3.5" stroke-linecap="round" stroke-linejoin="round" />
<path d="M1028.4,310.3 1032.3,256.1 1033.3,248.2 1034.4,246.2 1035.5,245.7 1036.9,245.6 1040.1,246.2 1041.8,247.4 1046.8,252.4 1048.5,253.4 1050.3,253.8 1053.5,254.0 1087.1,253.9 1087.4,302.2 1089.9,303.5 1092.4,305.8 1094.5,308.7 1096.3,312.1 1099.4,320.5 1106.5,343.8 1108.3,348.4 1110.0,352.0 1112.2,355.2 1114.3,357.4 1116.8,359.0 1119.9,360.2 1123.1,360.8 1127.7,361.2 1146.1,361.3" fill="none" stroke="#0173b2" stroke-width="3.5" stroke-linecap="round" stroke-linejoin="round" />
<path d="M1028.4,292.8 1033.3,271.8 1036.2,261.3 1038.3,255.9 1039.4,254.4 1040.8,253.4 1042.5,253.2 1046.8,254.1 1049.3,254.3 1087.1,254.2 1087.4,296.9 1089.5,295.9 1091.3,294.5 1093.1,292.4 1094.5,290.2 1097.3,284.0 1102.3,269.8 1104.4,264.6 1107.2,259.5 1110.0,256.6 1113.6,254.8 1118.9,253.8 1126.3,253.5 1146.1,253.5" fill="none" stroke="#0173b2" stroke-width="3.5" stroke-linecap="round" stroke-linejoin="round" />
<path d="M1028.4,327.4 1032.3,286.8 1033.3,278.8 1034.4,273.8 1035.1,272.0 1036.2,270.9 1039.4,272.1 1040.4,271.8 1041.1,271.1 1042.5,268.8 1047.5,258.2 1048.9,256.1 1050.7,254.5 1053.8,253.3 1059.9,252.8 1087.1,252.7 1087.4,252.2 1146.1,252.2" fill="none" stroke="#0173b2" stroke-width="3.5" stroke-linecap="round" stroke-linejoin="round" />
<path d="M1028.4,340.4 1029.5,334.9 1030.5,326.4 1036.5,269.8 1038.6,257.3 1039.4,254.8 1040.4,252.5 1041.5,251.5 1042.9,251.2 1048.9,253.5 1052.8,254.2 1087.1,254.3 1087.4,327.0 1088.8,334.2 1091.3,352.3 1092.0,355.7 1093.1,358.8 1093.8,359.9 1094.8,360.7 1097.7,361.3 1146.1,361.3" fill="none" stroke="#0173b2" stroke-width="3.5" stroke-linecap="round" stroke-linejoin="round" />
<path d="M1028.4,298.9 1029.8,274.1 1031.2,256.0 1032.3,249.9 1033.3,248.4 1034.4,248.7 1035.5,250.2 1039.0,261.7 1040.1,264.0 1040.8,264.8 1041.5,265.1 1042.5,264.9 1043.6,264.0 1047.8,258.7 1050.0,256.7 1052.4,255.3 1055.6,254.6 1087.1,254.4 1087.4,254.2 1146.1,254.2" fill="none" stroke="#0173b2" stroke-width="3.5" stroke-linecap="round" stroke-linejoin="round" />
<path d="M1028.4,287.7 1030.5,267.3 1031.6,262.1 1031.9,261.2 1032.6,260.6 1033.3,261.2 1034.4,264.0 1037.6,277.3 1039.0,281.9 1040.4,284.6 1041.1,285.2 1041.8,285.3 1043.2,284.2 1044.7,282.0 1050.3,269.3 1053.1,263.9 1056.0,259.9 1059.1,256.9 1063.0,254.9 1068.0,253.8 1074.7,253.3 1087.1,253.2 1087.4,296.2 1089.9,295.3 1092.4,293.8 1094.5,291.9 1096.6,289.2 1099.8,283.4 1105.8,269.5 1108.3,264.4 1111.1,260.2 1114.3,257.1 1118.2,255.1 1123.5,254.0 1130.9,253.6 1146.1,253.5" fill="none" stroke="#0173b2" stroke-width="3.5" stroke-linecap="round" stroke-linejoin="round" />
<path d="M1028.4,276.5 1029.5,269.6 1030.5,264.7 1031.6,261.9 1032.3,261.2 1033.0,261.3 1033.7,262.0 1034.8,264.0 1039.4,277.1 1041.5,281.7 1042.9,283.7 1044.3,284.9 1045.7,285.3 1047.5,285.1 1050.0,283.7 1052.8,281.1 1064.8,266.5 1068.0,263.2 1070.8,260.8 1074.3,258.5 1077.9,256.9 1082.1,255.7 1087.1,254.9 1087.4,319.3 1096.3,318.9 1102.3,317.8 1106.5,316.1 1115.7,311.0 1118.5,309.9 1121.7,309.2 1129.8,308.4 1146.1,308.2" fill="none" stroke="#0173b2" stroke-width="3.5" stroke-linecap="round" stroke-linejoin="round" />
<path d="M1028.4,290.1 1030.5,283.1 1031.6,281.2 1032.6,280.4 1033.3,280.4 1034.4,280.9 1037.9,284.3 1039.7,285.5 1041.5,285.6 1043.6,284.2 1045.0,282.4 1046.8,279.5 1052.4,267.9 1055.3,262.9 1058.4,258.7 1061.6,256.0 1065.2,254.4 1070.1,253.4 1076.5,252.9 1087.1,252.7 1087.4,305.6 1089.9,302.8 1092.0,298.2 1094.1,291.0 1098.4,271.8 1100.1,265.2 1102.3,259.8 1103.7,257.5 1105.1,256.0 1106.5,255.1 1108.3,254.4 1112.9,253.7 1146.1,253.5" fill="none" stroke="#0173b2" stroke-width="3.5" stroke-linecap="round" stroke-linejoin="round" />
<path d="M1028.4,295.4 1029.5,300.2 1030.5,303.4 1031.6,304.6 1032.6,304.1 1034.4,300.4 1038.3,289.1 1040.8,284.1 1047.5,275.5 1055.6,263.2 1058.1,260.4 1060.6,258.2 1064.4,256.1 1069.4,254.9 1076.1,254.3 1087.1,254.1 1087.4,302.0 1089.2,312.3 1092.7,347.3 1094.1,355.2 1095.5,358.8 1096.6,360.1 1097.7,360.7 1100.8,361.3 1146.1,361.3" fill="none" stroke="#0173b2" stroke-width="3.5" stroke-linecap="round" stroke-linejoin="round" />
<path d="M1028.4,365.1 1029.1,363.5 1029.8,360.1 1033.7,335.0 1035.1,330.1 1035.5,329.5 1036.2,329.1 1037.2,330.2 1038.3,333.0 1042.5,349.6 1044.7,355.8 1045.7,357.9 1047.1,359.9 1048.5,361.1 1050.3,361.9 1052.4,362.3 1055.6,362.4 1146.1,362.5" fill="none" stroke="#0173b2" stroke-width="3.5" stroke-linecap="round" stroke-linejoin="round" />
<path d="M1028.4,321.0 1029.8,335.8 1031.2,346.8 1032.6,353.1 1033.3,354.6 1034.1,355.2 1034.8,355.0 1035.5,354.2 1039.7,346.5 1040.8,345.5 1041.8,345.2 1042.9,345.6 1044.3,347.0 1049.3,354.3 1052.1,357.4 1055.3,359.5 1059.5,360.7 1064.1,361.1 1071.2,361.3 1146.1,361.3" fill="none" stroke="#0173b2" stroke-width="3.5" stroke-linecap="round" stroke-linejoin="round" />
<path d="M1028.4,280.7 1029.1,282.5 1030.2,288.0 1034.8,321.9 1036.2,330.4 1037.9,338.5 1040.1,345.3 1042.5,350.8 1045.7,355.6 1048.9,358.6 1051.4,360.0 1054.2,360.9 1057.7,361.6 1062.3,361.9 1146.1,362.1" fill="none" stroke="#0173b2" stroke-width="3.5" stroke-linecap="round" stroke-linejoin="round" />
<path d="M1028.4,248.6 1029.1,250.8 1029.8,257.4 1033.3,314.4 1035.1,336.7 1036.9,349.3 1037.6,351.8 1038.6,353.7 1039.4,354.0 1040.1,353.7 1043.6,350.7 1045.4,350.6 1047.1,351.8 1052.1,357.5 1054.9,359.9 1058.4,361.5 1063.4,362.3 1087.4,362.8 1146.1,362.8" fill="none" stroke="#0173b2" stroke-width="3.5" stroke-linecap="round" stroke-linejoin="round" />
<path d="M1028.4,334.3 1030.2,361.9 1030.9,366.8 1031.6,368.3 1032.3,367.4 1033.3,361.9 1036.9,332.4 1037.9,327.7 1038.3,326.8 1039.0,326.1 1039.4,326.2 1040.1,327.2 1041.1,330.4 1044.7,346.3 1046.4,352.7 1048.5,357.5 1050.7,360.0 1052.1,360.8 1054.2,361.5 1060.2,362.4 1087.1,362.7 1087.4,294.0 1095.9,294.6 1099.1,295.2 1101.9,296.1 1106.1,298.3 1115.0,304.5 1117.8,305.9 1121.0,306.9 1124.5,307.6 1129.1,308.0 1146.1,308.2" fill="none" stroke="#0173b2" stroke-width="3.5" stroke-linecap="round" stroke-linejoin="round" />
<path d="M1028.4,343.0 1030.5,356.6 1032.3,363.0 1033.3,365.0 1034.4,366.1 1036.2,367.1 1038.3,367.7 1039.7,367.8 1041.1,367.3 1042.9,366.2 1047.8,361.9 1049.6,361.1 1052.1,360.7 1146.1,360.8" fill="none" stroke="#0173b2" stroke-width="3.5" stroke-linecap="round" stroke-linejoin="round" />
<path d="M1028.4,344.3 1030.2,366.1 1030.9,369.9 1031.2,371.0 1031.9,371.8 1032.6,371.5 1033.7,369.0 1036.5,356.4 1037.6,352.9 1038.6,350.9 1039.7,350.4 1041.1,351.2 1044.7,356.0 1046.8,358.2 1048.9,359.5 1051.7,360.1 1146.1,360.1" fill="none" stroke="#0173b2" stroke-width="3.5" stroke-linecap="round" stroke-linejoin="round" />
<path d="M1028.4,328.3 1030.5,344.5 1031.2,347.4 1032.3,349.2 1033.0,348.9 1033.7,347.8 1037.2,338.8 1038.3,337.5 1039.0,337.4 1040.1,338.2 1041.1,340.0 1045.4,350.9 1047.1,354.7 1049.3,357.7 1051.7,359.5 1054.9,360.5 1059.5,360.9 1087.1,361.1 1087.4,333.8 1090.6,333.2 1093.1,332.4 1095.5,331.2 1097.7,329.7 1101.2,326.0 1109.7,315.0 1112.5,312.4 1115.7,310.5 1119.6,309.3 1124.9,308.6 1146.1,308.2" fill="none" stroke="#0173b2" stroke-width="3.5" stroke-linecap="round" stroke-linejoin="round" />
<path d="M1028.4,290.2 1032.3,359.9 1033.3,369.5 1034.1,372.4 1034.8,373.6 1035.1,373.8 1035.8,373.6 1036.9,372.1 1040.8,360.4 1041.8,358.4 1043.2,357.4 1044.7,357.8 1049.3,361.2 1051.0,361.9 1052.8,362.1 1146.1,362.0" fill="none" stroke="#0173b2" stroke-width="3.5" stroke-linecap="round" stroke-linejoin="round" />
<path d="M1028.4,306.0 1032.6,330.4 1033.7,334.9 1035.1,339.0 1036.9,341.6 1040.8,344.2 1042.5,346.0 1047.8,354.0 1050.0,356.7 1052.1,358.7 1054.2,360.0 1057.7,361.1 1062.3,361.7 1087.1,361.9 1087.4,310.8 1088.8,314.5 1090.2,320.9 1093.4,343.1 1094.8,351.1 1096.6,357.0 1098.4,359.6 1100.5,360.8 1104.4,361.3 1146.1,361.3" fill="none" stroke="#0173b2" stroke-width="3.5" stroke-linecap="round" stroke-linejoin="round" />
<path d="M1028.4,262.1 1034.1,318.6 1035.8,330.0 1036.9,334.4 1037.9,337.2 1039.0,338.8 1040.4,339.5 1041.8,339.3 1045.4,337.4 1047.1,336.9 1049.3,337.0 1051.4,337.8 1055.6,341.0 1064.4,349.9 1068.3,353.4 1072.6,356.3 1076.8,358.4 1081.4,359.8 1087.1,360.7 1087.4,301.4 1095.2,301.7 1100.5,302.4 1104.7,303.4 1113.6,306.4 1119.6,307.6 1128.1,308.1 1146.1,308.2" fill="none" stroke="#0173b2" stroke-width="3.5" stroke-linecap="round" stroke-linejoin="round" />
<path d="M1028.4,293.8 1029.1,295.0 1030.2,298.5 1033.3,313.3 1035.1,320.2 1036.5,324.0 1038.3,326.8 1039.4,327.7 1040.4,328.1 1044.3,328.5 1046.1,328.9 1047.8,329.8 1049.6,331.1 1053.8,335.7 1064.4,349.8 1067.6,353.1 1070.8,355.7 1074.3,357.7 1077.9,359.1 1082.1,360.1 1087.1,360.8 1087.4,321.1 1088.8,319.2 1089.9,317.1 1092.0,310.3 1093.8,301.7 1098.7,271.9 1100.5,264.5 1102.6,259.0 1104.0,256.9 1105.8,255.3 1107.9,254.4 1110.4,253.8 1117.5,253.5 1146.1,253.5" fill="none" stroke="#0173b2" stroke-width="3.5" stroke-linecap="round" stroke-linejoin="round" />
<path d="M1028.4,352.4 1029.8,372.1 1030.9,377.1 1031.6,378.2 1032.3,378.5 1033.3,378.1 1034.1,377.1 1035.5,372.8 1039.0,350.2 1040.8,342.2 1042.2,338.7 1042.9,337.8 1043.9,337.3 1045.0,337.6 1046.4,338.8 1054.6,348.9 1060.6,354.9 1065.9,358.5 1068.7,359.8 1071.9,360.8 1077.2,361.7 1087.1,362.3 1087.4,362.5 1146.1,362.5" fill="none" stroke="#0173b2" stroke-width="3.5" stroke-linecap="round" stroke-linejoin="round" />
<path d="M1028.4,352.9 1032.6,319.6 1034.4,312.0 1035.1,310.5 1036.2,309.7 1036.9,309.9 1037.6,310.7 1039.0,313.4 1046.8,333.9 1050.3,341.9 1053.5,348.1 1056.0,352.0 1058.4,355.2 1061.3,357.7 1064.1,359.4 1066.9,360.5 1070.1,361.2 1078.9,362.0 1087.4,362.2 1146.1,362.2" fill="none" stroke="#0173b2" stroke-width="3.5" stroke-linecap="round" stroke-linejoin="round" />
<path d="M1028.4,323.3 1030.5,326.1 1031.9,327.3 1033.3,327.9 1035.1,327.8 1037.6,326.5 1055.3,314.5 1058.8,312.5 1062.0,311.1 1066.6,309.8 1071.5,309.0 1077.9,308.5 1087.1,308.3 1087.4,281.3 1092.4,281.7 1095.9,282.4 1098.7,283.5 1101.6,285.2 1103.7,287.0 1105.8,289.4 1114.6,301.2 1117.5,303.9 1120.6,305.8 1124.2,307.0 1128.8,307.7 1146.1,308.2" fill="none" stroke="#0173b2" stroke-width="3.5" stroke-linecap="round" stroke-linejoin="round" />
<path d="M1028.4,278.6 1031.2,295.6 1032.6,302.3 1034.4,307.6 1035.1,308.8 1036.2,309.8 1037.2,309.9 1038.3,309.5 1044.3,304.7 1046.1,304.0 1047.8,303.7 1050.7,304.0 1059.5,306.3 1065.9,307.4 1074.0,308.0 1087.1,308.2 1087.4,323.3 1088.8,324.3 1090.2,325.7 1092.4,329.3 1094.5,334.7 1098.4,347.5 1100.1,352.4 1102.3,356.5 1104.7,359.1 1107.9,360.6 1112.5,361.2 1146.1,361.3" fill="none" stroke="#0173b2" stroke-width="3.5" stroke-linecap="round" stroke-linejoin="round" />
<path d="M1028.4,273.4 1029.1,256.7 1029.8,247.8 1030.2,246.5 1030.9,245.7 1031.9,245.6 1033.0,246.0 1033.7,247.4 1034.4,251.8 1036.5,278.0 1037.6,287.9 1038.6,294.4 1039.7,297.5 1040.4,298.1 1041.1,297.8 1045.0,291.6 1046.1,290.8 1047.1,290.7 1048.2,291.1 1049.3,292.0 1054.2,297.7 1057.4,300.7 1060.6,303.0 1064.1,304.9 1068.3,306.4 1072.9,307.3 1078.9,307.8 1087.1,308.1 1087.4,319.8 1095.2,319.3 1100.5,318.1 1104.7,316.3 1113.6,311.2 1116.4,310.1 1119.6,309.2 1128.1,308.4 1146.1,308.2" fill="none" stroke="#0173b2" stroke-width="3.5" stroke-linecap="round" stroke-linejoin="round" />
<path d="M1028.4,316.1 1030.5,297.5 1031.6,292.6 1032.6,290.7 1033.0,290.7 1033.7,291.5 1034.8,294.2 1038.6,309.4 1040.4,314.7 1042.2,317.9 1043.9,319.3 1045.4,319.4 1046.8,318.9 1056.7,313.0 1060.6,311.3 1064.4,310.1 1068.7,309.3 1073.3,308.8 1087.1,308.3 1087.4,308.9 1089.9,310.1 1092.4,312.1 1094.1,314.2 1095.9,317.0 1099.4,325.1 1104.7,340.9 1107.2,347.4 1110.0,353.0 1113.2,357.0 1115.0,358.3 1117.1,359.4 1119.6,360.2 1122.4,360.8 1129.8,361.2 1146.1,361.3" fill="none" stroke="#0173b2" stroke-width="3.5" stroke-linecap="round" stroke-linejoin="round" />
<path d="M1028.4,326.0 1030.5,329.8 1031.6,330.6 1032.6,330.7 1034.4,329.6 1039.4,323.9 1042.5,321.2 1061.6,311.7 1066.2,310.2 1071.5,309.1 1077.9,308.6 1087.1,308.3 1087.4,295.0 1093.4,295.7 1098.0,297.1 1101.9,299.1 1110.4,304.7 1113.2,306.1 1116.4,307.0 1120.3,307.7 1125.2,308.0 1146.1,308.2" fill="none" stroke="#0173b2" stroke-width="3.5" stroke-linecap="round" stroke-linejoin="round" />
<path d="M1028.4,300.4 1030.5,253.7 1031.2,248.1 1031.9,246.7 1033.0,246.7 1034.1,248.7 1034.8,253.0 1036.9,276.7 1038.3,289.4 1039.4,295.4 1040.1,297.8 1040.8,299.1 1041.5,299.5 1042.2,299.2 1045.7,295.2 1046.8,294.6 1047.8,294.6 1050.0,295.7 1054.6,300.2 1057.4,302.4 1060.6,304.3 1063.7,305.6 1068.0,306.8 1072.6,307.5 1087.1,308.1 1087.4,324.6 1088.5,330.9 1091.3,353.8 1092.4,358.0 1093.8,360.3 1095.5,361.1 1098.4,361.3 1146.1,361.3" fill="none" stroke="#0173b2" stroke-width="3.5" stroke-linecap="round" stroke-linejoin="round" />
<path d="M1028.4,279.7 1030.2,270.0 1030.9,267.9 1031.2,267.4 1031.9,267.1 1032.6,267.8 1033.3,269.4 1037.2,282.0 1038.3,284.3 1039.7,286.0 1041.1,286.4 1045.7,285.9 1048.5,287.0 1052.1,289.9 1062.7,300.4 1065.9,302.8 1069.4,304.8 1072.9,306.1 1076.8,307.0 1087.1,307.9 1089.2,306.8 1091.0,305.2 1092.7,302.7 1094.5,299.3 1097.3,291.5 1102.3,273.8 1104.4,267.2 1107.2,260.9 1110.0,257.3 1111.8,255.9 1113.6,255.1 1116.0,254.3 1118.9,253.9 1126.3,253.6 1146.1,253.5" fill="none" stroke="#0173b2" stroke-width="3.5" stroke-linecap="round" stroke-linejoin="round" />
<path d="M1028.4,318.3 1030.5,322.8 1031.9,325.2 1033.3,326.5 1034.8,326.7 1036.5,325.9 1042.2,321.9 1051.0,318.5 1060.9,313.1 1065.9,311.0 1069.7,309.8 1074.3,309.1 1087.1,308.3 1087.4,304.7 1099.4,305.3 1112.2,307.3 1118.2,307.9 1146.1,308.2" fill="none" stroke="#0173b2" stroke-width="3.5" stroke-linecap="round" stroke-linejoin="round" />
<path d="M1028.4,290.4 1033.3,328.9 1035.1,337.0 1036.2,339.7 1037.2,341.0 1038.3,341.3 1039.7,340.5 1045.4,332.9 1048.2,329.6 1060.9,317.5 1065.9,313.6 1070.1,311.3 1074.7,309.8 1080.0,309.0 1087.1,308.5 1087.4,300.8 1089.2,302.3 1090.6,304.3 1093.1,309.7 1095.5,318.4 1099.8,338.0 1101.9,346.5 1104.4,353.4 1105.8,355.9 1107.2,357.7 1108.6,358.9 1110.4,359.9 1112.5,360.6 1115.3,361.0 1122.8,361.3 1146.1,361.3" fill="none" stroke="#0173b2" stroke-width="3.5" stroke-linecap="round" stroke-linejoin="round" />
<path d="M1028.4,325.3 1030.2,315.6 1030.9,313.3 1031.9,311.9 1032.6,312.2 1033.7,314.0 1036.5,321.8 1037.9,324.8 1039.0,326.1 1040.4,326.6 1042.2,325.7 1047.1,320.8 1051.0,317.7 1057.0,313.7 1062.0,311.3 1066.2,309.9 1071.5,309.0 1077.9,308.5 1087.1,308.3 1087.4,290.6 1088.8,289.5 1090.2,287.9 1092.4,283.9 1094.1,278.9 1098.0,265.7 1100.1,260.3 1102.3,257.0 1104.4,255.2 1107.2,254.1 1111.8,253.6 1146.1,253.5" fill="none" stroke="#0173b2" stroke-width="3.5" stroke-linecap="round" stroke-linejoin="round" />
<path d="M1028.4,315.5 1030.5,302.9 1031.6,299.7 1031.9,299.1 1032.6,298.8 1033.3,299.4 1034.1,300.7 1038.6,313.1 1040.1,315.1 1041.8,316.0 1043.6,315.6 1047.5,313.6 1050.3,312.5 1063.0,309.6 1072.6,308.6 1087.1,308.2 1087.4,298.7 1091.7,299.2 1095.5,300.2 1099.1,301.6 1107.2,305.6 1110.4,306.7 1113.6,307.4 1123.1,308.1 1146.1,308.2" fill="none" stroke="#0173b2" stroke-width="3.5" stroke-linecap="round" stroke-linejoin="round" />
<path d="M1028.4,336.7 1030.9,321.5 1031.9,317.7 1032.6,316.2 1033.3,315.4 1034.4,315.5 1035.5,316.7 1039.4,324.4 1041.1,327.2 1042.9,328.8 1045.0,329.2 1046.8,328.6 1048.9,327.2 1060.2,316.4 1063.4,313.9 1066.6,312.0 1070.5,310.5 1074.7,309.4 1080.0,308.8 1087.1,308.4 1087.4,285.4 1091.7,286.7 1095.5,289.1 1099.1,292.5 1107.2,302.0 1110.4,304.6 1113.6,306.2 1117.8,307.4 1123.1,307.9 1146.1,308.2" fill="none" stroke="#0173b2" stroke-width="3.5" stroke-linecap="round" stroke-linejoin="round" />
<path d="M1028.4,293.2 1032.6,309.5 1034.1,312.8 1034.8,313.8 1035.8,314.6 1036.9,314.6 1037.9,314.0 1041.8,310.6 1043.6,309.5 1047.1,308.4 1087.1,308.2 1087.4,314.7 1089.2,315.9 1091.0,317.8 1092.4,320.0 1093.8,323.1 1095.9,329.2 1100.5,345.4 1102.6,351.4 1104.0,354.4 1105.4,356.6 1106.9,358.1 1108.6,359.4 1111.8,360.6 1116.8,361.2 1146.1,361.3" fill="none" stroke="#0173b2" stroke-width="3.5" stroke-linecap="round" stroke-linejoin="round" />
<path d="M1028.4,304.5 1029.5,297.2 1030.5,292.3 1031.2,290.4 1031.6,289.8 1032.3,289.5 1033.0,290.1 1034.1,292.4 1037.6,304.2 1039.4,309.1 1041.1,312.2 1042.2,313.2 1043.2,313.7 1045.4,313.7 1053.8,310.7 1062.3,309.2 1071.9,308.5 1087.1,308.2 1087.4,330.8 1092.0,330.5 1095.5,329.8 1098.4,328.9 1101.2,327.5 1105.4,323.9 1114.3,314.0 1117.1,311.8 1120.3,310.2 1124.2,309.1 1128.8,308.6 1146.1,308.2" fill="none" stroke="#0173b2" stroke-width="3.5" stroke-linecap="round" stroke-linejoin="round" />
<path d="M1028.4,270.3 1029.5,280.6 1033.3,330.1 1034.8,339.5 1035.5,341.7 1036.2,342.4 1036.9,342.0 1037.9,339.6 1041.1,328.6 1042.5,324.6 1043.9,322.0 1045.4,320.5 1046.8,319.8 1051.0,319.0 1053.1,318.3 1063.0,312.7 1068.7,310.4 1076.1,309.0 1087.1,308.4 1087.4,285.9 1092.4,287.1 1096.6,289.4 1100.1,292.6 1108.6,302.3 1111.8,304.7 1115.0,306.3 1118.9,307.3 1124.2,307.9 1146.1,308.2" fill="none" stroke="#0173b2" stroke-width="3.5" stroke-linecap="round" stroke-linejoin="round" />
<path d="M1028.4,308.6 1029.5,314.6 1033.0,340.7 1034.1,345.1 1034.8,346.7 1035.5,347.2 1036.2,346.9 1036.9,345.9 1040.8,336.3 1043.2,332.2 1044.7,330.8 1048.9,328.3 1051.0,326.6 1059.1,318.0 1063.4,314.3 1067.6,311.7 1072.6,309.9 1078.6,308.9 1087.1,308.4 1087.4,290.7 1092.4,291.7 1096.3,293.5 1099.8,296.1 1108.3,303.7 1111.1,305.4 1114.3,306.7 1118.2,307.5 1123.5,308.0 1146.1,308.2" fill="none" stroke="#0173b2" stroke-width="3.5" stroke-linecap="round" stroke-linejoin="round" />
<path d="M1028.4,299.0 1038.6,299.4 1046.8,300.3 1052.4,301.7 1065.9,306.1 1070.8,307.1 1076.1,307.7 1087.1,308.1 1087.4,305.3 1099.4,305.7 1112.5,307.5 1118.5,308.0 1146.1,308.2" fill="none" stroke="#0173b2" stroke-width="3.5" stroke-linecap="round" stroke-linejoin="round" />
<path d="M1028.4,325.3 1031.9,265.4 1033.0,254.7 1033.7,251.5 1034.4,250.5 1035.1,250.9 1035.5,251.5 1036.2,253.8 1040.1,276.7 1041.1,281.1 1042.5,284.8 1043.2,285.9 1044.3,286.8 1048.2,287.7 1050.3,289.0 1052.4,291.1 1059.9,299.6 1063.0,302.3 1066.2,304.3 1069.7,305.8 1073.6,306.8 1079.3,307.6 1087.1,308.0 1087.4,308.4 1146.1,308.2" fill="none" stroke="#0173b2" stroke-width="3.5" stroke-linecap="round" stroke-linejoin="round" />
<path d="M1028.4,313.2 1030.5,322.8 1031.9,327.6 1033.3,330.2 1034.1,330.8 1035.1,330.7 1036.5,329.4 1041.1,323.1 1043.6,321.0 1045.7,320.0 1052.8,317.5 1063.7,312.0 1068.3,310.4 1073.3,309.3 1079.3,308.7 1087.1,308.3 1087.4,289.8 1093.1,290.8 1097.7,292.7 1101.2,295.3 1110.0,303.5 1112.9,305.3 1116.0,306.6 1119.9,307.5 1125.2,308.0 1146.1,308.2" fill="none" stroke="#0173b2" stroke-width="3.5" stroke-linecap="round" stroke-linejoin="round" />
<path d="M1028.4,273.6 1031.9,299.5 1033.3,305.7 1034.8,308.7 1035.8,309.3 1036.9,308.8 1042.9,299.9 1045.0,298.2 1047.5,297.6 1049.3,297.8 1051.4,298.6 1062.3,304.0 1068.3,306.1 1076.1,307.5 1087.1,308.1 1087.4,333.3 1091.7,332.9 1095.2,332.2 1098.0,331.2 1100.8,329.6 1105.1,325.7 1113.9,314.7 1116.8,312.2 1119.9,310.4 1123.8,309.2 1128.4,308.6 1146.1,308.2" fill="none" stroke="#0173b2" stroke-width="3.5" stroke-linecap="round" stroke-linejoin="round" />
<path d="M1028.4,349.0 1029.8,343.5 1034.8,311.2 1036.5,304.2 1038.3,300.7 1039.4,299.9 1040.8,299.9 1047.8,304.7 1050.3,305.6 1053.5,306.2 1068.7,307.8 1087.1,308.2 1087.4,280.9 1091.3,281.4 1094.5,282.1 1097.3,283.3 1099.8,284.9 1103.7,288.9 1110.4,298.3 1112.9,301.4 1115.7,304.0 1118.9,305.9 1122.8,307.1 1127.4,307.8 1146.1,308.2" fill="none" stroke="#0173b2" stroke-width="3.5" stroke-linecap="round" stroke-linejoin="round" />
<path d="M1028.4,293.3 1029.8,291.4 1034.1,283.0 1035.8,280.5 1036.9,279.5 1038.3,278.7 1039.7,278.4 1041.5,278.6 1045.4,280.4 1050.0,284.0 1053.8,288.0 1063.0,298.6 1065.9,301.2 1068.7,303.3 1072.2,305.2 1076.5,306.5 1081.1,307.4 1087.1,307.9 1087.4,319.3 1089.2,322.8 1090.6,327.8 1095.2,351.5 1096.3,355.1 1097.3,357.5 1098.4,359.0 1099.8,360.2 1102.3,361.0 1106.1,361.3 1146.1,361.3" fill="none" stroke="#0173b2" stroke-width="3.5" stroke-linecap="round" stroke-linejoin="round" />
<path d="M1028.4,283.2 1029.8,281.2 1030.9,277.8 1034.4,258.3 1035.5,254.1 1036.9,251.3 1038.3,250.4 1040.1,250.5 1045.0,252.6 1048.9,252.9 1087.1,253.0 1087.4,252.5 1146.1,252.5" fill="none" stroke="#000" stroke-width="3.5" stroke-linecap="butt" stroke-linejoin="round" stroke-dasharray="3.2 5" stroke-opacity="0.8"/>
<path d="M1028.4,279.0 1029.8,281.4 1030.9,282.4 1031.9,282.3 1032.6,281.6 1034.4,277.5 1037.9,263.9 1039.7,258.5 1040.8,256.3 1041.8,254.9 1043.2,253.8 1044.7,253.2 1048.9,252.9 1087.1,253.0 1087.4,252.5 1146.1,252.5" fill="none" stroke="#000" stroke-width="3.5" stroke-linecap="butt" stroke-linejoin="round" stroke-dasharray="3.2 5" stroke-opacity="0.8"/>
<path d="M1028.4,267.5 1032.3,280.2 1033.7,282.9 1034.4,283.6 1035.1,283.7 1036.5,282.8 1037.9,280.4 1043.2,266.7 1045.4,262.2 1047.8,258.8 1050.3,256.9 1053.5,255.8 1058.4,255.2 1087.1,255.1 1087.4,317.1 1089.9,315.5 1092.0,313.2 1093.8,310.5 1095.5,306.8 1098.7,297.3 1103.7,278.4 1106.1,270.0 1109.0,263.1 1110.4,260.6 1112.2,258.3 1113.9,256.8 1116.0,255.5 1118.2,254.7 1121.0,254.1 1128.4,253.6 1146.1,253.5" fill="none" stroke="#000" stroke-width="3.5" stroke-linecap="butt" stroke-linejoin="round" stroke-dasharray="3.2 5" stroke-opacity="0.8"/>
<path d="M1028.4,300.1 1032.3,251.7 1033.0,248.1 1033.7,246.6 1034.4,246.1 1036.5,245.8 1038.6,246.5 1040.4,248.2 1044.3,253.4 1045.7,254.2 1047.1,254.5 1057.4,253.7 1087.1,253.7 1087.4,253.4 1146.1,253.4" fill="none" stroke="#000" stroke-width="3.5" stroke-linecap="butt" stroke-linejoin="round" stroke-dasharray="3.2 5" stroke-opacity="0.8"/>
<path d="M1028.4,253.0 1029.5,256.0 1032.3,272.6 1033.3,276.2 1034.1,277.0 1034.8,276.5 1035.8,273.9 1040.1,257.7 1041.5,254.7 1042.9,253.4 1045.0,253.2 1050.3,254.6 1054.6,255.1 1087.1,255.1 1087.4,332.0 1091.3,331.5 1094.5,330.8 1097.0,329.9 1099.4,328.4 1103.3,324.9 1112.2,314.4 1115.0,312.0 1118.2,310.3 1122.1,309.2 1127.0,308.6 1146.1,308.2" fill="none" stroke="#000" stroke-width="3.5" stroke-linecap="butt" stroke-linejoin="round" stroke-dasharray="3.2 5" stroke-opacity="0.8"/>
<path d="M1028.4,310.3 1032.3,256.1 1033.3,248.2 1034.4,246.2 1035.5,245.7 1036.9,245.6 1040.1,246.2 1041.8,247.4 1046.8,252.4 1048.5,253.4 1050.3,253.8 1053.5,254.0 1087.1,253.9 1087.4,302.2 1089.9,303.5 1092.4,305.8 1094.5,308.7 1096.3,312.1 1099.4,320.5 1106.5,343.8 1108.3,348.4 1110.0,352.0 1112.2,355.2 1114.3,357.4 1116.8,359.0 1119.9,360.2 1123.1,360.8 1127.7,361.2 1146.1,361.3" fill="none" stroke="#000" stroke-width="3.5" stroke-linecap="butt" stroke-linejoin="round" stroke-dasharray="3.2 5" stroke-opacity="0.8"/>
<path d="M1028.4,292.8 1033.3,271.8 1036.2,261.3 1038.3,255.9 1039.4,254.4 1040.8,253.4 1042.5,253.2 1046.8,254.1 1049.3,254.3 1087.1,254.2 1087.4,296.9 1089.5,295.9 1091.3,294.5 1093.1,292.4 1094.5,290.2 1097.3,284.0 1102.3,269.8 1104.4,264.6 1107.2,259.5 1110.0,256.6 1113.6,254.8 1118.9,253.8 1126.3,253.5 1146.1,253.5" fill="none" stroke="#000" stroke-width="3.5" stroke-linecap="butt" stroke-linejoin="round" stroke-dasharray="3.2 5" stroke-opacity="0.8"/>
<path d="M1028.4,327.4 1032.3,286.8 1033.3,278.8 1034.4,273.8 1035.1,272.0 1036.2,270.9 1039.4,272.1 1040.4,271.8 1041.1,271.1 1042.5,268.8 1047.5,258.2 1048.9,256.1 1050.7,254.5 1053.8,253.3 1059.9,252.8 1087.1,252.7 1087.4,252.2 1146.1,252.2" fill="none" stroke="#000" stroke-width="3.5" stroke-linecap="butt" stroke-linejoin="round" stroke-dasharray="3.2 5" stroke-opacity="0.8"/>
<path d="M1028.4,340.4 1029.5,334.9 1030.5,326.4 1036.5,269.8 1038.6,257.3 1039.4,254.8 1040.4,252.5 1041.5,251.5 1042.9,251.2 1048.9,253.5 1052.8,254.2 1087.1,254.3 1087.4,327.0 1088.8,334.2 1091.3,352.3 1092.0,355.7 1093.1,358.8 1093.8,359.9 1094.8,360.7 1097.7,361.3 1146.1,361.3" fill="none" stroke="#000" stroke-width="3.5" stroke-linecap="butt" stroke-linejoin="round" stroke-dasharray="3.2 5" stroke-opacity="0.8"/>
<path d="M1028.4,298.9 1029.8,274.1 1031.2,256.0 1032.3,249.9 1033.3,248.4 1034.4,248.7 1035.5,250.2 1039.0,261.7 1040.1,264.0 1040.8,264.8 1041.5,265.1 1042.5,264.9 1043.6,264.0 1047.8,258.7 1050.0,256.7 1052.4,255.3 1055.6,254.6 1087.1,254.4 1087.4,254.2 1146.1,254.2" fill="none" stroke="#000" stroke-width="3.5" stroke-linecap="butt" stroke-linejoin="round" stroke-dasharray="3.2 5" stroke-opacity="0.8"/>
<path d="M1028.4,287.7 1030.5,267.3 1031.6,262.1 1031.9,261.2 1032.6,260.6 1033.3,261.2 1034.4,264.0 1037.6,277.3 1039.0,281.9 1040.4,284.6 1041.1,285.2 1041.8,285.3 1043.2,284.2 1044.7,282.0 1050.3,269.3 1053.1,263.9 1056.0,259.9 1059.1,256.9 1063.0,254.9 1068.0,253.8 1074.7,253.3 1087.1,253.2 1087.4,296.2 1089.9,295.3 1092.4,293.8 1094.5,291.9 1096.6,289.2 1099.8,283.4 1105.8,269.5 1108.3,264.4 1111.1,260.2 1114.3,257.1 1118.2,255.1 1123.5,254.0 1130.9,253.6 1146.1,253.5" fill="none" stroke="#000" stroke-width="3.5" stroke-linecap="butt" stroke-linejoin="round" stroke-dasharray="3.2 5" stroke-opacity="0.8"/>
<path d="M1028.4,276.5 1029.5,269.6 1030.5,264.7 1031.6,261.9 1032.3,261.2 1033.0,261.3 1033.7,262.0 1034.8,264.0 1039.4,277.1 1041.5,281.7 1042.9,283.7 1044.3,284.9 1045.7,285.3 1047.5,285.1 1050.0,283.7 1052.8,281.1 1064.8,266.5 1068.0,263.2 1070.8,260.8 1074.3,258.5 1077.9,256.9 1082.1,255.7 1087.1,254.9 1087.4,319.3 1096.3,318.9 1102.3,317.8 1106.5,316.1 1115.7,311.0 1118.5,309.9 1121.7,309.2 1129.8,308.4 1146.1,308.2" fill="none" stroke="#000" stroke-width="3.5" stroke-linecap="butt" stroke-linejoin="round" stroke-dasharray="3.2 5" stroke-opacity="0.8"/>
<path d="M1028.4,290.1 1030.5,283.1 1031.6,281.2 1032.6,280.4 1033.3,280.4 1034.4,280.9 1037.9,284.3 1039.7,285.5 1041.5,285.6 1043.6,284.2 1045.0,282.4 1046.8,279.5 1052.4,267.9 1055.3,262.9 1058.4,258.7 1061.6,256.0 1065.2,254.4 1070.1,253.4 1076.5,252.9 1087.1,252.7 1087.4,305.6 1089.9,302.8 1092.0,298.2 1094.1,291.0 1098.4,271.8 1100.1,265.2 1102.3,259.8 1103.7,257.5 1105.1,256.0 1106.5,255.1 1108.3,254.4 1112.9,253.7 1146.1,253.5" fill="none" stroke="#000" stroke-width="3.5" stroke-linecap="butt" stroke-linejoin="round" stroke-dasharray="3.2 5" stroke-opacity="0.8"/>
<path d="M1028.4,295.4 1029.5,300.2 1030.5,303.4 1031.6,304.6 1032.6,304.1 1034.4,300.4 1038.3,289.1 1040.8,284.1 1047.5,275.5 1055.6,263.2 1058.1,260.4 1060.6,258.2 1064.4,256.1 1069.4,254.9 1076.1,254.3 1087.1,254.1 1087.4,302.0 1089.2,312.3 1092.7,347.3 1094.1,355.2 1095.5,358.8 1096.6,360.1 1097.7,360.7 1100.8,361.3 1146.1,361.3" fill="none" stroke="#000" stroke-width="3.5" stroke-linecap="butt" stroke-linejoin="round" stroke-dasharray="3.2 5" stroke-opacity="0.8"/>
<path d="M1028.4,365.1 1029.1,363.5 1029.8,360.1 1033.7,335.0 1035.1,330.1 1035.5,329.5 1036.2,329.1 1037.2,330.2 1038.3,333.0 1042.5,349.6 1044.7,355.8 1045.7,357.9 1047.1,359.9 1048.5,361.1 1050.3,361.9 1052.4,362.3 1055.6,362.4 1146.1,362.5" fill="none" stroke="#000" stroke-width="3.5" stroke-linecap="butt" stroke-linejoin="round" stroke-dasharray="3.2 5" stroke-opacity="0.8"/>
<path d="M1028.4,321.0 1029.8,335.8 1031.2,346.8 1032.6,353.1 1033.3,354.6 1034.1,355.2 1034.8,355.0 1035.5,354.2 1039.7,346.5 1040.8,345.5 1041.8,345.2 1042.9,345.6 1044.3,347.0 1049.3,354.3 1052.1,357.4 1055.3,359.5 1059.5,360.7 1064.1,361.1 1071.2,361.3 1146.1,361.3" fill="none" stroke="#000" stroke-width="3.5" stroke-linecap="butt" stroke-linejoin="round" stroke-dasharray="3.2 5" stroke-opacity="0.8"/>
<path d="M1028.4,280.7 1029.1,282.5 1030.2,288.0 1034.8,321.9 1036.2,330.4 1037.9,338.5 1040.1,345.3 1042.5,350.8 1045.7,355.6 1048.9,358.6 1051.4,360.0 1054.2,360.9 1057.7,361.6 1062.3,361.9 1146.1,362.1" fill="none" stroke="#000" stroke-width="3.5" stroke-linecap="butt" stroke-linejoin="round" stroke-dasharray="3.2 5" stroke-opacity="0.8"/>
<path d="M1028.4,248.6 1029.1,250.8 1029.8,257.4 1033.3,314.4 1035.1,336.7 1036.9,349.3 1037.6,351.8 1038.6,353.7 1039.4,354.0 1040.1,353.7 1043.6,350.7 1045.4,350.6 1047.1,351.8 1052.1,357.5 1054.9,359.9 1058.4,361.5 1063.4,362.3 1087.4,362.8 1146.1,362.8" fill="none" stroke="#000" stroke-width="3.5" stroke-linecap="butt" stroke-linejoin="round" stroke-dasharray="3.2 5" stroke-opacity="0.8"/>
<path d="M1028.4,334.3 1030.2,361.9 1030.9,366.8 1031.6,368.3 1032.3,367.4 1033.3,361.9 1036.9,332.4 1037.9,327.7 1038.3,326.8 1039.0,326.1 1039.4,326.2 1040.1,327.2 1041.1,330.4 1044.7,346.3 1046.4,352.7 1048.5,357.5 1050.7,360.0 1052.1,360.8 1054.2,361.5 1060.2,362.4 1087.1,362.7 1087.4,294.0 1095.9,294.6 1099.1,295.2 1101.9,296.1 1106.1,298.3 1115.0,304.5 1117.8,305.9 1121.0,306.9 1124.5,307.6 1129.1,308.0 1146.1,308.2" fill="none" stroke="#000" stroke-width="3.5" stroke-linecap="butt" stroke-linejoin="round" stroke-dasharray="3.2 5" stroke-opacity="0.8"/>
<path d="M1028.4,343.0 1030.5,356.6 1032.3,363.0 1033.3,365.0 1034.4,366.1 1036.2,367.1 1038.3,367.7 1039.7,367.8 1041.1,367.3 1042.9,366.2 1047.8,361.9 1049.6,361.1 1052.1,360.7 1146.1,360.8" fill="none" stroke="#000" stroke-width="3.5" stroke-linecap="butt" stroke-linejoin="round" stroke-dasharray="3.2 5" stroke-opacity="0.8"/>
<path d="M1028.4,344.3 1030.2,366.1 1030.9,369.9 1031.2,371.0 1031.9,371.8 1032.6,371.5 1033.7,369.0 1036.5,356.4 1037.6,352.9 1038.6,350.9 1039.7,350.4 1041.1,351.2 1044.7,356.0 1046.8,358.2 1048.9,359.5 1051.7,360.1 1146.1,360.1" fill="none" stroke="#000" stroke-width="3.5" stroke-linecap="butt" stroke-linejoin="round" stroke-dasharray="3.2 5" stroke-opacity="0.8"/>
<path d="M1028.4,328.3 1030.5,344.5 1031.2,347.4 1032.3,349.2 1033.0,348.9 1033.7,347.8 1037.2,338.8 1038.3,337.5 1039.0,337.4 1040.1,338.2 1041.1,340.0 1045.4,350.9 1047.1,354.7 1049.3,357.7 1051.7,359.5 1054.9,360.5 1059.5,360.9 1087.1,361.1 1087.4,333.8 1090.6,333.2 1093.1,332.4 1095.5,331.2 1097.7,329.7 1101.2,326.0 1109.7,315.0 1112.5,312.4 1115.7,310.5 1119.6,309.3 1124.9,308.6 1146.1,308.2" fill="none" stroke="#000" stroke-width="3.5" stroke-linecap="butt" stroke-linejoin="round" stroke-dasharray="3.2 5" stroke-opacity="0.8"/>
<path d="M1028.4,290.2 1032.3,359.9 1033.3,369.5 1034.1,372.4 1034.8,373.6 1035.1,373.8 1035.8,373.6 1036.9,372.1 1040.8,360.4 1041.8,358.4 1043.2,357.4 1044.7,357.8 1049.3,361.2 1051.0,361.9 1052.8,362.1 1146.1,362.0" fill="none" stroke="#000" stroke-width="3.5" stroke-linecap="butt" stroke-linejoin="round" stroke-dasharray="3.2 5" stroke-opacity="0.8"/>
<path d="M1028.4,306.0 1032.6,330.4 1033.7,334.9 1035.1,339.0 1036.9,341.6 1040.8,344.2 1042.5,346.0 1047.8,354.0 1050.0,356.7 1052.1,358.7 1054.2,360.0 1057.7,361.1 1062.3,361.7 1087.1,361.9 1087.4,310.8 1088.8,314.5 1090.2,320.9 1093.4,343.1 1094.8,351.1 1096.6,357.0 1098.4,359.6 1100.5,360.8 1104.4,361.3 1146.1,361.3" fill="none" stroke="#000" stroke-width="3.5" stroke-linecap="butt" stroke-linejoin="round" stroke-dasharray="3.2 5" stroke-opacity="0.8"/>
<path d="M1028.4,262.1 1034.1,318.6 1035.8,330.0 1036.9,334.4 1037.9,337.2 1039.0,338.8 1040.4,339.5 1041.8,339.3 1045.4,337.4 1047.1,336.9 1049.3,337.0 1051.4,337.8 1055.6,341.0 1064.4,349.9 1068.3,353.4 1072.6,356.3 1076.8,358.4 1081.4,359.8 1087.1,360.7 1087.4,301.4 1095.2,301.7 1100.5,302.4 1104.7,303.4 1113.6,306.4 1119.6,307.6 1128.1,308.1 1146.1,308.2" fill="none" stroke="#000" stroke-width="3.5" stroke-linecap="butt" stroke-linejoin="round" stroke-dasharray="3.2 5" stroke-opacity="0.8"/>
<path d="M1028.4,293.8 1029.1,295.0 1030.2,298.5 1033.3,313.3 1035.1,320.2 1036.5,324.0 1038.3,326.8 1039.4,327.7 1040.4,328.1 1044.3,328.5 1046.1,328.9 1047.8,329.8 1049.6,331.1 1053.8,335.7 1064.4,349.8 1067.6,353.1 1070.8,355.7 1074.3,357.7 1077.9,359.1 1082.1,360.1 1087.1,360.8 1087.4,321.1 1088.8,319.2 1089.9,317.1 1092.0,310.3 1093.8,301.7 1098.7,271.9 1100.5,264.5 1102.6,259.0 1104.0,256.9 1105.8,255.3 1107.9,254.4 1110.4,253.8 1117.5,253.5 1146.1,253.5" fill="none" stroke="#000" stroke-width="3.5" stroke-linecap="butt" stroke-linejoin="round" stroke-dasharray="3.2 5" stroke-opacity="0.8"/>
<path d="M1028.4,352.4 1029.8,372.1 1030.9,377.1 1031.6,378.2 1032.3,378.5 1033.3,378.1 1034.1,377.1 1035.5,372.8 1039.0,350.2 1040.8,342.2 1042.2,338.7 1042.9,337.8 1043.9,337.3 1045.0,337.6 1046.4,338.8 1054.6,348.9 1060.6,354.9 1065.9,358.5 1068.7,359.8 1071.9,360.8 1077.2,361.7 1087.1,362.3 1087.4,362.5 1146.1,362.5" fill="none" stroke="#000" stroke-width="3.5" stroke-linecap="butt" stroke-linejoin="round" stroke-dasharray="3.2 5" stroke-opacity="0.8"/>
<path d="M1028.4,352.9 1032.6,319.6 1034.4,312.0 1035.1,310.5 1036.2,309.7 1036.9,309.9 1037.6,310.7 1039.0,313.4 1046.8,333.9 1050.3,341.9 1053.5,348.1 1056.0,352.0 1058.4,355.2 1061.3,357.7 1064.1,359.4 1066.9,360.5 1070.1,361.2 1078.9,362.0 1087.4,362.2 1146.1,362.2" fill="none" stroke="#000" stroke-width="3.5" stroke-linecap="butt" stroke-linejoin="round" stroke-dasharray="3.2 5" stroke-opacity="0.8"/>
<path d="M1028.4,323.3 1030.5,326.1 1031.9,327.3 1033.3,327.9 1035.1,327.8 1037.6,326.5 1055.3,314.5 1058.8,312.5 1062.0,311.1 1066.6,309.8 1071.5,309.0 1077.9,308.5 1087.1,308.3 1087.4,281.3 1092.4,281.7 1095.9,282.4 1098.7,283.5 1101.6,285.2 1103.7,287.0 1105.8,289.4 1114.6,301.2 1117.5,303.9 1120.6,305.8 1124.2,307.0 1128.8,307.7 1146.1,308.2" fill="none" stroke="#000" stroke-width="3.5" stroke-linecap="butt" stroke-linejoin="round" stroke-dasharray="3.2 5" stroke-opacity="0.8"/>
<path d="M1028.4,278.6 1031.2,295.6 1032.6,302.3 1034.4,307.6 1035.1,308.8 1036.2,309.8 1037.2,309.9 1038.3,309.5 1044.3,304.7 1046.1,304.0 1047.8,303.7 1050.7,304.0 1059.5,306.3 1065.9,307.4 1074.0,308.0 1087.1,308.2 1087.4,323.3 1088.8,324.3 1090.2,325.7 1092.4,329.3 1094.5,334.7 1098.4,347.5 1100.1,352.4 1102.3,356.5 1104.7,359.1 1107.9,360.6 1112.5,361.2 1146.1,361.3" fill="none" stroke="#000" stroke-width="3.5" stroke-linecap="butt" stroke-linejoin="round" stroke-dasharray="3.2 5" stroke-opacity="0.8"/>
<path d="M1028.4,273.4 1029.1,256.7 1029.8,247.8 1030.2,246.5 1030.9,245.7 1031.9,245.6 1033.0,246.0 1033.7,247.4 1034.4,251.8 1036.5,278.0 1037.6,287.9 1038.6,294.4 1039.7,297.5 1040.4,298.1 1041.1,297.8 1045.0,291.6 1046.1,290.8 1047.1,290.7 1048.2,291.1 1049.3,292.0 1054.2,297.7 1057.4,300.7 1060.6,303.0 1064.1,304.9 1068.3,306.4 1072.9,307.3 1078.9,307.8 1087.1,308.1 1087.4,319.8 1095.2,319.3 1100.5,318.1 1104.7,316.3 1113.6,311.2 1116.4,310.1 1119.6,309.2 1128.1,308.4 1146.1,308.2" fill="none" stroke="#000" stroke-width="3.5" stroke-linecap="butt" stroke-linejoin="round" stroke-dasharray="3.2 5" stroke-opacity="0.8"/>
<path d="M1028.4,316.1 1030.5,297.5 1031.6,292.6 1032.6,290.7 1033.0,290.7 1033.7,291.5 1034.8,294.2 1038.6,309.4 1040.4,314.7 1042.2,317.9 1043.9,319.3 1045.4,319.4 1046.8,318.9 1056.7,313.0 1060.6,311.3 1064.4,310.1 1068.7,309.3 1073.3,308.8 1087.1,308.3 1087.4,308.9 1089.9,310.1 1092.4,312.1 1094.1,314.2 1095.9,317.0 1099.4,325.1 1104.7,340.9 1107.2,347.4 1110.0,353.0 1113.2,357.0 1115.0,358.3 1117.1,359.4 1119.6,360.2 1122.4,360.8 1129.8,361.2 1146.1,361.3" fill="none" stroke="#000" stroke-width="3.5" stroke-linecap="butt" stroke-linejoin="round" stroke-dasharray="3.2 5" stroke-opacity="0.8"/>
<path d="M1028.4,326.0 1030.5,329.8 1031.6,330.6 1032.6,330.7 1034.4,329.6 1039.4,323.9 1042.5,321.2 1061.6,311.7 1066.2,310.2 1071.5,309.1 1077.9,308.6 1087.1,308.3 1087.4,295.0 1093.4,295.7 1098.0,297.1 1101.9,299.1 1110.4,304.7 1113.2,306.1 1116.4,307.0 1120.3,307.7 1125.2,308.0 1146.1,308.2" fill="none" stroke="#000" stroke-width="3.5" stroke-linecap="butt" stroke-linejoin="round" stroke-dasharray="3.2 5" stroke-opacity="0.8"/>
<path d="M1028.4,300.4 1030.5,253.7 1031.2,248.1 1031.9,246.7 1033.0,246.7 1034.1,248.7 1034.8,253.0 1036.9,276.7 1038.3,289.4 1039.4,295.4 1040.1,297.8 1040.8,299.1 1041.5,299.5 1042.2,299.2 1045.7,295.2 1046.8,294.6 1047.8,294.6 1050.0,295.7 1054.6,300.2 1057.4,302.4 1060.6,304.3 1063.7,305.6 1068.0,306.8 1072.6,307.5 1087.1,308.1 1087.4,324.6 1088.5,330.9 1091.3,353.8 1092.4,358.0 1093.8,360.3 1095.5,361.1 1098.4,361.3 1146.1,361.3" fill="none" stroke="#000" stroke-width="3.5" stroke-linecap="butt" stroke-linejoin="round" stroke-dasharray="3.2 5" stroke-opacity="0.8"/>
<path d="M1028.4,279.7 1030.2,270.0 1030.9,267.9 1031.2,267.4 1031.9,267.1 1032.6,267.8 1033.3,269.4 1037.2,282.0 1038.3,284.3 1039.7,286.0 1041.1,286.4 1045.7,285.9 1048.5,287.0 1052.1,289.9 1062.7,300.4 1065.9,302.8 1069.4,304.8 1072.9,306.1 1076.8,307.0 1087.1,307.9 1089.2,306.8 1091.0,305.2 1092.7,302.7 1094.5,299.3 1097.3,291.5 1102.3,273.8 1104.4,267.2 1107.2,260.9 1110.0,257.3 1111.8,255.9 1113.6,255.1 1116.0,254.3 1118.9,253.9 1126.3,253.6 1146.1,253.5" fill="none" stroke="#000" stroke-width="3.5" stroke-linecap="butt" stroke-linejoin="round" stroke-dasharray="3.2 5" stroke-opacity="0.8"/>
<path d="M1028.4,318.3 1030.5,322.8 1031.9,325.2 1033.3,326.5 1034.8,326.7 1036.5,325.9 1042.2,321.9 1051.0,318.5 1060.9,313.1 1065.9,311.0 1069.7,309.8 1074.3,309.1 1087.1,308.3 1087.4,304.7 1099.4,305.3 1112.2,307.3 1118.2,307.9 1146.1,308.2" fill="none" stroke="#000" stroke-width="3.5" stroke-linecap="butt" stroke-linejoin="round" stroke-dasharray="3.2 5" stroke-opacity="0.8"/>
<path d="M1028.4,290.4 1033.3,328.9 1035.1,337.0 1036.2,339.7 1037.2,341.0 1038.3,341.3 1039.7,340.5 1045.4,332.9 1048.2,329.6 1060.9,317.5 1065.9,313.6 1070.1,311.3 1074.7,309.8 1080.0,309.0 1087.1,308.5 1087.4,300.8 1089.2,302.3 1090.6,304.3 1093.1,309.7 1095.5,318.4 1099.8,338.0 1101.9,346.5 1104.4,353.4 1105.8,355.9 1107.2,357.7 1108.6,358.9 1110.4,359.9 1112.5,360.6 1115.3,361.0 1122.8,361.3 1146.1,361.3" fill="none" stroke="#000" stroke-width="3.5" stroke-linecap="butt" stroke-linejoin="round" stroke-dasharray="3.2 5" stroke-opacity="0.8"/>
<path d="M1028.4,325.3 1030.2,315.6 1030.9,313.3 1031.9,311.9 1032.6,312.2 1033.7,314.0 1036.5,321.8 1037.9,324.8 1039.0,326.1 1040.4,326.6 1042.2,325.7 1047.1,320.8 1051.0,317.7 1057.0,313.7 1062.0,311.3 1066.2,309.9 1071.5,309.0 1077.9,308.5 1087.1,308.3 1087.4,290.6 1088.8,289.5 1090.2,287.9 1092.4,283.9 1094.1,278.9 1098.0,265.7 1100.1,260.3 1102.3,257.0 1104.4,255.2 1107.2,254.1 1111.8,253.6 1146.1,253.5" fill="none" stroke="#000" stroke-width="3.5" stroke-linecap="butt" stroke-linejoin="round" stroke-dasharray="3.2 5" stroke-opacity="0.8"/>
<path d="M1028.4,315.5 1030.5,302.9 1031.6,299.7 1031.9,299.1 1032.6,298.8 1033.3,299.4 1034.1,300.7 1038.6,313.1 1040.1,315.1 1041.8,316.0 1043.6,315.6 1047.5,313.6 1050.3,312.5 1063.0,309.6 1072.6,308.6 1087.1,308.2 1087.4,298.7 1091.7,299.2 1095.5,300.2 1099.1,301.6 1107.2,305.6 1110.4,306.7 1113.6,307.4 1123.1,308.1 1146.1,308.2" fill="none" stroke="#000" stroke-width="3.5" stroke-linecap="butt" stroke-linejoin="round" stroke-dasharray="3.2 5" stroke-opacity="0.8"/>
<path d="M1028.4,336.7 1030.9,321.5 1031.9,317.7 1032.6,316.2 1033.3,315.4 1034.4,315.5 1035.5,316.7 1039.4,324.4 1041.1,327.2 1042.9,328.8 1045.0,329.2 1046.8,328.6 1048.9,327.2 1060.2,316.4 1063.4,313.9 1066.6,312.0 1070.5,310.5 1074.7,309.4 1080.0,308.8 1087.1,308.4 1087.4,285.4 1091.7,286.7 1095.5,289.1 1099.1,292.5 1107.2,302.0 1110.4,304.6 1113.6,306.2 1117.8,307.4 1123.1,307.9 1146.1,308.2" fill="none" stroke="#000" stroke-width="3.5" stroke-linecap="butt" stroke-linejoin="round" stroke-dasharray="3.2 5" stroke-opacity="0.8"/>
<path d="M1028.4,293.2 1032.6,309.5 1034.1,312.8 1034.8,313.8 1035.8,314.6 1036.9,314.6 1037.9,314.0 1041.8,310.6 1043.6,309.5 1047.1,308.4 1087.1,308.2 1087.4,314.7 1089.2,315.9 1091.0,317.8 1092.4,320.0 1093.8,323.1 1095.9,329.2 1100.5,345.4 1102.6,351.4 1104.0,354.4 1105.4,356.6 1106.9,358.1 1108.6,359.4 1111.8,360.6 1116.8,361.2 1146.1,361.3" fill="none" stroke="#000" stroke-width="3.5" stroke-linecap="butt" stroke-linejoin="round" stroke-dasharray="3.2 5" stroke-opacity="0.8"/>
<path d="M1028.4,304.5 1029.5,297.2 1030.5,292.3 1031.2,290.4 1031.6,289.8 1032.3,289.5 1033.0,290.1 1034.1,292.4 1037.6,304.2 1039.4,309.1 1041.1,312.2 1042.2,313.2 1043.2,313.7 1045.4,313.7 1053.8,310.7 1062.3,309.2 1071.9,308.5 1087.1,308.2 1087.4,330.8 1092.0,330.5 1095.5,329.8 1098.4,328.9 1101.2,327.5 1105.4,323.9 1114.3,314.0 1117.1,311.8 1120.3,310.2 1124.2,309.1 1128.8,308.6 1146.1,308.2" fill="none" stroke="#000" stroke-width="3.5" stroke-linecap="butt" stroke-linejoin="round" stroke-dasharray="3.2 5" stroke-opacity="0.8"/>
<path d="M1028.4,270.3 1029.5,280.6 1033.3,330.1 1034.8,339.5 1035.5,341.7 1036.2,342.4 1036.9,342.0 1037.9,339.6 1041.1,328.6 1042.5,324.6 1043.9,322.0 1045.4,320.5 1046.8,319.8 1051.0,319.0 1053.1,318.3 1063.0,312.7 1068.7,310.4 1076.1,309.0 1087.1,308.4 1087.4,285.9 1092.4,287.1 1096.6,289.4 1100.1,292.6 1108.6,302.3 1111.8,304.7 1115.0,306.3 1118.9,307.3 1124.2,307.9 1146.1,308.2" fill="none" stroke="#000" stroke-width="3.5" stroke-linecap="butt" stroke-linejoin="round" stroke-dasharray="3.2 5" stroke-opacity="0.8"/>
<path d="M1028.4,308.6 1029.5,314.6 1033.0,340.7 1034.1,345.1 1034.8,346.7 1035.5,347.2 1036.2,346.9 1036.9,345.9 1040.8,336.3 1043.2,332.2 1044.7,330.8 1048.9,328.3 1051.0,326.6 1059.1,318.0 1063.4,314.3 1067.6,311.7 1072.6,309.9 1078.6,308.9 1087.1,308.4 1087.4,290.7 1092.4,291.7 1096.3,293.5 1099.8,296.1 1108.3,303.7 1111.1,305.4 1114.3,306.7 1118.2,307.5 1123.5,308.0 1146.1,308.2" fill="none" stroke="#000" stroke-width="3.5" stroke-linecap="butt" stroke-linejoin="round" stroke-dasharray="3.2 5" stroke-opacity="0.8"/>
<path d="M1028.4,299.0 1038.6,299.4 1046.8,300.3 1052.4,301.7 1065.9,306.1 1070.8,307.1 1076.1,307.7 1087.1,308.1 1087.4,305.3 1099.4,305.7 1112.5,307.5 1118.5,308.0 1146.1,308.2" fill="none" stroke="#000" stroke-width="3.5" stroke-linecap="butt" stroke-linejoin="round" stroke-dasharray="3.2 5" stroke-opacity="0.8"/>
<path d="M1028.4,325.3 1031.9,265.4 1033.0,254.7 1033.7,251.5 1034.4,250.5 1035.1,250.9 1035.5,251.5 1036.2,253.8 1040.1,276.7 1041.1,281.1 1042.5,284.8 1043.2,285.9 1044.3,286.8 1048.2,287.7 1050.3,289.0 1052.4,291.1 1059.9,299.6 1063.0,302.3 1066.2,304.3 1069.7,305.8 1073.6,306.8 1079.3,307.6 1087.1,308.0 1087.4,308.4 1146.1,308.2" fill="none" stroke="#000" stroke-width="3.5" stroke-linecap="butt" stroke-linejoin="round" stroke-dasharray="3.2 5" stroke-opacity="0.8"/>
<path d="M1028.4,313.2 1030.5,322.8 1031.9,327.6 1033.3,330.2 1034.1,330.8 1035.1,330.7 1036.5,329.4 1041.1,323.1 1043.6,321.0 1045.7,320.0 1052.8,317.5 1063.7,312.0 1068.3,310.4 1073.3,309.3 1079.3,308.7 1087.1,308.3 1087.4,289.8 1093.1,290.8 1097.7,292.7 1101.2,295.3 1110.0,303.5 1112.9,305.3 1116.0,306.6 1119.9,307.5 1125.2,308.0 1146.1,308.2" fill="none" stroke="#000" stroke-width="3.5" stroke-linecap="butt" stroke-linejoin="round" stroke-dasharray="3.2 5" stroke-opacity="0.8"/>
<path d="M1028.4,273.6 1031.9,299.5 1033.3,305.7 1034.8,308.7 1035.8,309.3 1036.9,308.8 1042.9,299.9 1045.0,298.2 1047.5,297.6 1049.3,297.8 1051.4,298.6 1062.3,304.0 1068.3,306.1 1076.1,307.5 1087.1,308.1 1087.4,333.3 1091.7,332.9 1095.2,332.2 1098.0,331.2 1100.8,329.6 1105.1,325.7 1113.9,314.7 1116.8,312.2 1119.9,310.4 1123.8,309.2 1128.4,308.6 1146.1,308.2" fill="none" stroke="#000" stroke-width="3.5" stroke-linecap="butt" stroke-linejoin="round" stroke-dasharray="3.2 5" stroke-opacity="0.8"/>
<path d="M1028.4,349.0 1029.8,343.5 1034.8,311.2 1036.5,304.2 1038.3,300.7 1039.4,299.9 1040.8,299.9 1047.8,304.7 1050.3,305.6 1053.5,306.2 1068.7,307.8 1087.1,308.2 1087.4,280.9 1091.3,281.4 1094.5,282.1 1097.3,283.3 1099.8,284.9 1103.7,288.9 1110.4,298.3 1112.9,301.4 1115.7,304.0 1118.9,305.9 1122.8,307.1 1127.4,307.8 1146.1,308.2" fill="none" stroke="#000" stroke-width="3.5" stroke-linecap="butt" stroke-linejoin="round" stroke-dasharray="3.2 5" stroke-opacity="0.8"/>
<path d="M1028.4,293.3 1029.8,291.4 1034.1,283.0 1035.8,280.5 1036.9,279.5 1038.3,278.7 1039.7,278.4 1041.5,278.6 1045.4,280.4 1050.0,284.0 1053.8,288.0 1063.0,298.6 1065.9,301.2 1068.7,303.3 1072.2,305.2 1076.5,306.5 1081.1,307.4 1087.1,307.9 1087.4,319.3 1089.2,322.8 1090.6,327.8 1095.2,351.5 1096.3,355.1 1097.3,357.5 1098.4,359.0 1099.8,360.2 1102.3,361.0 1106.1,361.3 1146.1,361.3" fill="none" stroke="#000" stroke-width="3.5" stroke-linecap="butt" stroke-linejoin="round" stroke-dasharray="3.2 5" stroke-opacity="0.8"/>
<path d="M1241.7,76.6 1251.8,76.1 1255.9,76.7 1259.7,78.3 1268.0,82.5 1272.0,85.0 1274.5,87.0" fill="none" stroke="#d55e00" stroke-width="3.5" stroke-linecap="round" stroke-linejoin="round" />
<path d="M1262.6,58.6 1262.8,73.2 1263.2,76.1 1263.6,77.4 1265.0,79.0 1270.0,82.3 1273.5,85.3 1274.9,87.0 1276.0,89.0 1276.8,92.4 1277.3,96.6 1277.6,108.5" fill="none" stroke="#0173b2" stroke-width="3.5" stroke-linecap="round" stroke-linejoin="round" />
<path d="M1316.5,85.9 1310.0,84.6 1304.9,82.7 1303.1,82.2 1300.8,82.1 1296.7,82.5 1291.0,83.7 1287.7,85.1 1286.3,86.3 1283.4,90.5" fill="none" stroke="#029e73" stroke-width="3.5" stroke-linecap="round" stroke-linejoin="round" />
<path d="M1299.5,63.3 1299.3,77.1 1298.8,79.7 1298.1,80.5 1296.5,81.2 1291.0,81.8 1288.3,82.6 1286.3,84.0 1283.7,87.0 1282.0,90.0 1280.3,95.2 1279.0,100.9 1277.8,109.0" fill="none" stroke="#cc78bc" stroke-width="3.5" stroke-linecap="round" stroke-linejoin="round" />
<path d="M1310.3,144.1 1302.0,143.5 1294.0,142.4 1290.6,141.3 1285.9,139.1 1283.9,137.8 1281.5,135.0 1279.9,131.3 1278.7,126.8 1277.8,121.0" fill="none" stroke="#de8f05" stroke-width="3.5" stroke-linecap="round" stroke-linejoin="round" />
<path d="M1289.0,162.0 1289.1,151.8 1288.5,145.0 1287.6,142.1 1282.0,134.0 1279.3,128.2 1278.5,124.2 1277.9,119.5 1277.6,109.0" fill="none" stroke="#56b4e9" stroke-width="3.5" stroke-linecap="round" stroke-linejoin="round" />
<path d="M1251.2,155.3 1255.0,142.9 1256.0,141.0 1257.0,140.6 1259.5,140.7 1263.3,140.3 1265.3,139.1 1267.6,136.0 1269.3,132.2 1273.6,121.3 1276.0,112.0" fill="none" stroke="#ece133" stroke-width="3.5" stroke-linecap="round" stroke-linejoin="round" />
<path d="M1237.7,135.7 1244.5,135.0 1249.0,135.5 1254.0,135.2 1259.9,134.1 1261.4,133.5 1263.0,132.6 1266.4,129.2 1268.7,125.8 1272.0,119.0 1275.0,111.5 1277.2,107.5" fill="none" stroke="#000000" stroke-width="3.5" stroke-linecap="round" stroke-linejoin="round" />
<circle cx="1241.7" cy="76.6" r="5.2" fill="#d55e00"/>
<circle cx="1262.6" cy="58.6" r="5.2" fill="#0173b2"/>
<circle cx="1316.5" cy="85.9" r="5.2" fill="#029e73"/>
<circle cx="1299.5" cy="63.3" r="5.2" fill="#cc78bc"/>
<circle cx="1310.3" cy="144.1" r="5.2" fill="#de8f05"/>
<circle cx="1289.0" cy="162.0" r="5.2" fill="#56b4e9"/>
<circle cx="1251.2" cy="155.3" r="5.2" fill="#ece133"/>
<circle cx="1237.7" cy="135.7" r="5.2" fill="#000000"/>
<path d="M1239.1,277.2 1243.9,278.6 1248.5,280.5 1250.9,281.8 1254.1,284.1 1258.0,288.0 1263.0,296.0 1266.1,300.3 1268.0,302.0 1271.4,303.9 1278.0,306.0 1290.0,308.5 1305.0,311.0 1318.0,312.6" fill="none" stroke="#d55e00" stroke-width="3.5" stroke-linecap="round" stroke-linejoin="round" />
<path d="M1259.0,258.3 1258.5,270.0 1257.0,278.4 1255.3,283.0 1253.8,285.8 1249.8,291.2 1246.0,294.9 1241.4,297.8 1231.5,301.9 1218.2,306.4" fill="none" stroke="#0173b2" stroke-width="3.5" stroke-linecap="round" stroke-linejoin="round" />
<path d="M1316.3,278.1 1310.0,278.5 1306.5,279.4 1304.2,280.4 1301.8,281.8 1297.2,286.0 1291.4,290.7 1288.0,292.5 1285.6,293.4 1266.6,299.0 1244.5,305.0" fill="none" stroke="#029e73" stroke-width="3.5" stroke-linecap="round" stroke-linejoin="round" />
<path d="M1297.1,259.9 1297.5,265.5 1298.2,269.9 1298.0,271.5 1297.6,271.9 1294.0,272.0 1289.8,272.7 1288.3,272.1 1286.4,270.0 1285.5,268.0 1285.0,265.3 1284.8,259.0 1286.0,250.0 1287.6,245.5" fill="none" stroke="#cc78bc" stroke-width="3.5" stroke-linecap="round" stroke-linejoin="round" />
<path d="M1312.2,341.2 1302.5,339.9 1300.1,339.1 1299.0,338.2 1298.2,334.2 1298.3,330.3 1299.4,325.4 1301.0,321.6 1304.7,315.8 1307.4,313.2 1311.3,311.3 1318.1,308.9 1321.6,307.0 1324.3,305.0 1338.8,292.8" fill="none" stroke="#de8f05" stroke-width="3.5" stroke-linecap="round" stroke-linejoin="round" />
<path d="M1293.7,359.5 1290.5,349.0 1289.6,344.7 1289.4,342.0 1289.7,338.9 1291.2,334.0 1292.6,331.0 1294.3,328.6 1296.4,326.5 1299.0,324.7 1301.9,323.1 1305.2,321.8 1312.4,319.8 1328.2,316.6" fill="none" stroke="#56b4e9" stroke-width="3.5" stroke-linecap="round" stroke-linejoin="round" />
<path d="M1255.4,357.4 1255.9,353.9 1256.8,351.0 1263.0,337.4 1268.4,323.7 1275.6,309.1 1277.2,305.3 1278.1,303.6 1279.4,302.2 1281.2,301.2 1283.6,300.7 1286.5,300.6 1300.0,301.8 1320.2,303.0" fill="none" stroke="#ece133" stroke-width="3.5" stroke-linecap="round" stroke-linejoin="round" />
<path d="M1239.0,338.0 1244.7,335.7 1248.4,334.6 1261.0,333.2 1265.5,332.4 1268.1,331.6 1270.9,330.2 1276.5,325.8 1283.1,321.3 1286.6,319.3 1291.8,317.1 1297.0,315.7 1301.4,314.9 1314.0,313.8" fill="none" stroke="#000000" stroke-width="3.5" stroke-linecap="round" stroke-linejoin="round" />
<circle cx="1239.1" cy="277.2" r="5.2" fill="#d55e00"/>
<circle cx="1259.0" cy="258.3" r="5.2" fill="#0173b2"/>
<circle cx="1316.3" cy="278.1" r="5.2" fill="#029e73"/>
<circle cx="1297.1" cy="259.9" r="5.2" fill="#cc78bc"/>
<circle cx="1312.2" cy="341.2" r="5.2" fill="#de8f05"/>
<circle cx="1293.7" cy="359.5" r="5.2" fill="#56b4e9"/>
<circle cx="1255.4" cy="357.4" r="5.2" fill="#ece133"/>
<circle cx="1239.0" cy="338.0" r="5.2" fill="#000000"/>
<path d="M1437.2,76.6 1447.3,76.1 1451.4,76.7 1455.2,78.3 1463.5,82.5 1467.5,85.0 1470.0,87.0" fill="none" stroke="#d9d9d9" stroke-width="3.5" stroke-linecap="round" stroke-linejoin="round" />
<path d="M1458.1,58.6 1458.3,73.2 1458.7,76.1 1459.1,77.4 1460.5,79.0 1465.5,82.3 1469.0,85.3 1470.4,87.0 1471.5,89.0 1472.3,92.4 1472.8,96.6 1473.1,108.5" fill="none" stroke="#d9d9d9" stroke-width="3.5" stroke-linecap="round" stroke-linejoin="round" />
<path d="M1512.0,85.9 1505.5,84.6 1500.4,82.7 1498.6,82.2 1496.3,82.1 1492.2,82.5 1486.5,83.7 1483.2,85.1 1481.8,86.3 1478.9,90.5" fill="none" stroke="#d9d9d9" stroke-width="3.5" stroke-linecap="round" stroke-linejoin="round" />
<path d="M1495.0,63.3 1494.8,77.1 1494.3,79.7 1493.6,80.5 1492.0,81.2 1486.5,81.8 1483.8,82.6 1481.8,84.0 1479.2,87.0 1477.5,90.0 1475.8,95.2 1474.5,100.9 1473.3,109.0" fill="none" stroke="#d9d9d9" stroke-width="3.5" stroke-linecap="round" stroke-linejoin="round" />
<path d="M1505.8,144.1 1497.5,143.5 1489.5,142.4 1486.1,141.3 1481.4,139.1 1479.4,137.8 1477.0,135.0 1475.4,131.3 1474.2,126.8 1473.3,121.0" fill="none" stroke="#d9d9d9" stroke-width="3.5" stroke-linecap="round" stroke-linejoin="round" />
<path d="M1484.5,162.0 1484.6,151.8 1484.0,145.0 1483.1,142.1 1477.5,134.0 1474.8,128.2 1474.0,124.2 1473.4,119.5 1473.1,109.0" fill="none" stroke="#d9d9d9" stroke-width="3.5" stroke-linecap="round" stroke-linejoin="round" />
<path d="M1446.7,155.3 1450.5,142.9 1451.5,141.0 1452.5,140.6 1455.0,140.7 1458.8,140.3 1460.8,139.1 1463.1,136.0 1464.8,132.2 1469.1,121.3 1471.5,112.0" fill="none" stroke="#d9d9d9" stroke-width="3.5" stroke-linecap="round" stroke-linejoin="round" />
<path d="M1433.2,135.7 1440.0,135.0 1444.5,135.5 1449.5,135.2 1455.4,134.1 1456.9,133.5 1458.5,132.6 1461.9,129.2 1464.2,125.8 1467.5,119.0 1470.5,111.5 1472.7,107.5" fill="none" stroke="#d9d9d9" stroke-width="3.5" stroke-linecap="round" stroke-linejoin="round" />
<path d="M1434.6,277.2 1439.4,278.6 1444.0,280.5 1446.4,281.8 1449.6,284.1 1453.5,288.0 1458.5,296.0 1461.6,300.3 1463.5,302.0 1466.9,303.9 1473.5,306.0 1485.5,308.5 1500.5,311.0 1513.5,312.6" fill="none" stroke="#d9d9d9" stroke-width="3.5" stroke-linecap="round" stroke-linejoin="round" />
<path d="M1454.5,258.3 1454.0,270.0 1452.5,278.4 1450.8,283.0 1449.3,285.8 1445.3,291.2 1441.5,294.9 1436.9,297.8 1427.0,301.9 1413.7,306.4" fill="none" stroke="#d9d9d9" stroke-width="3.5" stroke-linecap="round" stroke-linejoin="round" />
<path d="M1511.8,278.1 1505.5,278.5 1502.0,279.4 1499.7,280.4 1497.3,281.8 1492.7,286.0 1486.9,290.7 1483.5,292.5 1481.1,293.4 1462.1,299.0 1440.0,305.0" fill="none" stroke="#d9d9d9" stroke-width="3.5" stroke-linecap="round" stroke-linejoin="round" />
<path d="M1492.6,259.9 1493.0,265.5 1493.7,269.9 1493.5,271.5 1493.1,271.9 1489.5,272.0 1485.3,272.7 1483.8,272.1 1481.9,270.0 1481.0,268.0 1480.5,265.3 1480.3,259.0 1481.5,250.0 1483.1,245.5" fill="none" stroke="#d9d9d9" stroke-width="3.5" stroke-linecap="round" stroke-linejoin="round" />
<path d="M1507.7,341.2 1498.0,339.9 1495.6,339.1 1494.5,338.2 1493.7,334.2 1493.8,330.3 1494.9,325.4 1496.5,321.6 1500.2,315.8 1502.9,313.2 1506.8,311.3 1513.6,308.9 1517.1,307.0 1519.8,305.0 1534.3,292.8" fill="none" stroke="#d9d9d9" stroke-width="3.5" stroke-linecap="round" stroke-linejoin="round" />
<path d="M1489.2,359.5 1486.0,349.0 1485.1,344.7 1484.9,342.0 1485.2,338.9 1486.7,334.0 1488.1,331.0 1489.8,328.6 1491.9,326.5 1494.5,324.7 1497.4,323.1 1500.7,321.8 1507.9,319.8 1523.7,316.6" fill="none" stroke="#d9d9d9" stroke-width="3.5" stroke-linecap="round" stroke-linejoin="round" />
<path d="M1450.9,357.4 1451.4,353.9 1452.3,351.0 1458.5,337.4 1463.9,323.7 1471.1,309.1 1472.7,305.3 1473.6,303.6 1474.9,302.2 1476.7,301.2 1479.1,300.7 1482.0,300.6 1495.5,301.8 1515.7,303.0" fill="none" stroke="#d9d9d9" stroke-width="3.5" stroke-linecap="round" stroke-linejoin="round" />
<path d="M1434.5,338.0 1440.2,335.7 1443.9,334.6 1456.5,333.2 1461.0,332.4 1463.6,331.6 1466.4,330.2 1472.0,325.8 1478.6,321.3 1482.1,319.3 1487.3,317.1 1492.5,315.7 1496.9,314.9 1509.5,313.8" fill="none" stroke="#d9d9d9" stroke-width="3.5" stroke-linecap="round" stroke-linejoin="round" />
<path d="M1433.3,136.0 1438.9,135.9 1443.8,136.8 1446.3,138.0 1448.9,140.7 1449.9,143.2 1450.2,147.0 1449.8,148.7 1447.2,156.0" fill="none" stroke="#ece133" stroke-width="3.5" stroke-linecap="round" stroke-linejoin="round" />
<path d="M1433.3,136.0 1438.9,135.9 1443.8,136.8 1446.3,138.0 1448.9,140.7 1449.9,143.2 1450.2,147.0 1449.8,148.7 1447.2,156.0" fill="none" stroke="#000" stroke-width="3.5" stroke-linecap="butt" stroke-linejoin="round" stroke-dasharray="3 3" stroke-opacity="1.0"/>
<circle cx="1437.2" cy="76.6" r="5.2" fill="#d55e00"/>
<circle cx="1458.1" cy="58.6" r="5.2" fill="#0173b2"/>
<circle cx="1512.0" cy="85.9" r="5.2" fill="#029e73"/>
<circle cx="1495.0" cy="63.3" r="5.2" fill="#cc78bc"/>
<circle cx="1505.8" cy="144.1" r="5.2" fill="#de8f05"/>
<circle cx="1484.5" cy="162.0" r="5.2" fill="#56b4e9"/>
<circle cx="1433.3" cy="136.0" r="5.2" fill="#ece133"/>
<circle cx="1447.2" cy="156.0" r="5.2" fill="#000000"/>
<path d="M1454.5,258.3 1457.6,262.8 1459.4,266.6 1464.7,284.3 1469.9,298.0 1472.1,302.4 1477.2,311.0 1480.3,318.5 1481.9,324.2 1484.5,338.4 1487.6,351.0 1489.3,360.1" fill="none" stroke="#56b4e9" stroke-width="3.5" stroke-linecap="round" stroke-linejoin="round" />
<path d="M1492.8,259.2 1474.9,273.8 1472.5,275.1 1470.7,275.3 1467.4,274.1 1463.8,270.9 1462.3,269.3 1459.4,264.8 1454.5,258.3" fill="none" stroke="#0173b2" stroke-width="3.5" stroke-linecap="round" stroke-linejoin="round" />
<path d="M1434.6,277.2 1437.9,279.4 1441.4,281.1 1445.9,282.0 1461.2,282.2 1494.3,284.0 1498.7,283.8 1501.8,283.1 1506.7,281.1 1511.2,278.1" fill="none" stroke="#029e73" stroke-width="3.5" stroke-linecap="round" stroke-linejoin="round" />
<path d="M1511.2,278.1 1503.8,284.3 1500.0,288.5 1497.7,291.6 1495.8,294.9 1494.3,298.5 1492.8,303.8 1492.2,308.1 1492.3,312.0 1492.8,315.7 1494.7,321.0 1501.0,332.0 1505.2,338.4 1507.6,341.6" fill="none" stroke="#de8f05" stroke-width="3.5" stroke-linecap="round" stroke-linejoin="round" />
<path d="M1434.6,277.2 1436.9,280.4 1444.6,288.0 1456.6,298.7 1477.2,316.0 1485.5,324.7 1496.0,332.1 1504.5,339.5 1507.6,341.6" fill="none" stroke="#d55e00" stroke-width="3.5" stroke-linecap="round" stroke-linejoin="round" />
<path d="M1492.8,259.2 1486.2,285.3 1483.6,293.1 1481.5,297.5 1478.8,301.7 1465.7,317.7 1463.4,321.2 1461.5,324.8 1457.9,333.5 1456.0,340.5 1454.0,351.0 1451.4,357.4" fill="none" stroke="#cc78bc" stroke-width="3.5" stroke-linecap="round" stroke-linejoin="round" />
<path d="M1434.6,338.0 1438.2,335.8 1440.3,334.9 1445.7,333.3 1451.4,332.1 1454.0,332.1 1457.3,332.5 1471.1,336.0 1474.0,337.4 1477.4,340.7 1482.2,347.5 1489.3,360.1" fill="none" stroke="#000000" stroke-width="3.5" stroke-linecap="round" stroke-linejoin="round" />
<path d="M1434.6,338.0 1441.8,339.5 1446.9,340.9 1450.3,342.3 1451.8,343.7 1452.6,345.9 1452.9,351.0 1452.5,353.4 1451.4,357.4" fill="none" stroke="#ece133" stroke-width="3.5" stroke-linecap="round" stroke-linejoin="round" />
<circle cx="1454.5" cy="258.3" r="5.2" fill="#56b4e9"/>
<circle cx="1492.8" cy="259.2" r="5.2" fill="#0173b2"/>
<circle cx="1434.6" cy="277.2" r="5.2" fill="#029e73"/>
<circle cx="1511.2" cy="278.1" r="5.2" fill="#de8f05"/>
<circle cx="1434.6" cy="338.0" r="5.2" fill="#ece133"/>
<circle cx="1451.4" cy="357.4" r="5.2" fill="#cc78bc"/>
<circle cx="1489.3" cy="360.1" r="5.2" fill="#000000"/>
<circle cx="1507.6" cy="341.6" r="5.2" fill="#d55e00"/>
<line x1="75.4" y1="31.6" x2="75.4" y2="191.3" stroke="#262626" stroke-width="2" stroke-linecap="butt" />
<line x1="74.4" y1="190.3" x2="249.3" y2="190.3" stroke="#262626" stroke-width="2" stroke-linecap="butt" />
<line x1="65.4" y1="70" x2="75.4" y2="70" stroke="#262626" stroke-width="2" stroke-linecap="butt" />
<text x="61.9" y="77" font-family="'DejaVu Sans', 'Liberation Sans', sans-serif" font-size="19" font-weight="normal" font-style="normal" text-anchor="end" fill="#1a1a1a" stroke="#1a1a1a" stroke-width="0.22" >0.2</text>
<line x1="65.4" y1="111" x2="75.4" y2="111" stroke="#262626" stroke-width="2" stroke-linecap="butt" />
<text x="61.9" y="118" font-family="'DejaVu Sans', 'Liberation Sans', sans-serif" font-size="19" font-weight="normal" font-style="normal" text-anchor="end" fill="#1a1a1a" stroke="#1a1a1a" stroke-width="0.22" >0.0</text>
<line x1="65.4" y1="152" x2="75.4" y2="152" stroke="#262626" stroke-width="2" stroke-linecap="butt" />
<text x="61.9" y="159" font-family="'DejaVu Sans', 'Liberation Sans', sans-serif" font-size="19" font-weight="normal" font-style="normal" text-anchor="end" fill="#1a1a1a" stroke="#1a1a1a" stroke-width="0.22" >−0.2</text>
<line x1="123.4" y1="190.3" x2="123.4" y2="200.3" stroke="#262626" stroke-width="2" stroke-linecap="butt" />
<line x1="204" y1="190.3" x2="204" y2="200.3" stroke="#262626" stroke-width="2" stroke-linecap="butt" />
<text x="123.6" y="218.7" font-family="'DejaVu Sans', 'Liberation Sans', sans-serif" font-size="19" text-anchor="middle" fill="#1a1a1a" stroke="#1a1a1a" stroke-width="0.22">10<tspan font-size="13.3" dy="-8.0">1</tspan></text>
<text x="204.2" y="218.7" font-family="'DejaVu Sans', 'Liberation Sans', sans-serif" font-size="19" text-anchor="middle" fill="#1a1a1a" stroke="#1a1a1a" stroke-width="0.22">10<tspan font-size="13.3" dy="-8.0">3</tspan></text>
<text x="20.5" y="111.4" font-family="'DejaVu Sans', 'Liberation Sans', sans-serif" text-anchor="middle" fill="#1a1a1a" transform="rotate(-90 20.5 111.4)"><tspan font-weight="bold" font-size="23.5" dy="0.00">W</tspan><tspan font-size="16.4" dy="4.70">2</tspan><tspan font-weight="bold" font-size="23.5" dy="-4.70">W</tspan><tspan font-size="16.4" dy="4.70">1</tspan></text>
<line x1="75.4" y1="228.3" x2="75.4" y2="387.2" stroke="#262626" stroke-width="2" stroke-linecap="butt" />
<line x1="74.4" y1="386.2" x2="248.9" y2="386.2" stroke="#262626" stroke-width="2" stroke-linecap="butt" />
<line x1="65.4" y1="266.3" x2="75.4" y2="266.3" stroke="#262626" stroke-width="2" stroke-linecap="butt" />
<text x="61.9" y="273.3" font-family="'DejaVu Sans', 'Liberation Sans', sans-serif" font-size="19" font-weight="normal" font-style="normal" text-anchor="end" fill="#1a1a1a" stroke="#1a1a1a" stroke-width="0.22" >0.2</text>
<line x1="65.4" y1="307.6" x2="75.4" y2="307.6" stroke="#262626" stroke-width="2" stroke-linecap="butt" />
<text x="61.9" y="314.6" font-family="'DejaVu Sans', 'Liberation Sans', sans-serif" font-size="19" font-weight="normal" font-style="normal" text-anchor="end" fill="#1a1a1a" stroke="#1a1a1a" stroke-width="0.22" >0.0</text>
<line x1="65.4" y1="349" x2="75.4" y2="349" stroke="#262626" stroke-width="2" stroke-linecap="butt" />
<text x="61.9" y="356" font-family="'DejaVu Sans', 'Liberation Sans', sans-serif" font-size="19" font-weight="normal" font-style="normal" text-anchor="end" fill="#1a1a1a" stroke="#1a1a1a" stroke-width="0.22" >−0.2</text>
<line x1="84.5" y1="386.2" x2="84.5" y2="396.2" stroke="#262626" stroke-width="2" stroke-linecap="butt" />
<line x1="144.5" y1="386.2" x2="144.5" y2="396.2" stroke="#262626" stroke-width="2" stroke-linecap="butt" />
<line x1="204.4" y1="386.2" x2="204.4" y2="396.2" stroke="#262626" stroke-width="2" stroke-linecap="butt" />
<line x1="78.69" y1="386.2" x2="78.69" y2="392.2" stroke="#262626" stroke-width="1.5" stroke-linecap="butt" />
<line x1="81.76" y1="386.2" x2="81.76" y2="392.2" stroke="#262626" stroke-width="1.5" stroke-linecap="butt" />
<line x1="102.55" y1="386.2" x2="102.55" y2="392.2" stroke="#262626" stroke-width="1.5" stroke-linecap="butt" />
<line x1="113.1" y1="386.2" x2="113.1" y2="392.2" stroke="#262626" stroke-width="1.5" stroke-linecap="butt" />
<line x1="120.59" y1="386.2" x2="120.59" y2="392.2" stroke="#262626" stroke-width="1.5" stroke-linecap="butt" />
<line x1="126.4" y1="386.2" x2="126.4" y2="392.2" stroke="#262626" stroke-width="1.5" stroke-linecap="butt" />
<line x1="131.15" y1="386.2" x2="131.15" y2="392.2" stroke="#262626" stroke-width="1.5" stroke-linecap="butt" />
<line x1="135.16" y1="386.2" x2="135.16" y2="392.2" stroke="#262626" stroke-width="1.5" stroke-linecap="butt" />
<line x1="138.64" y1="386.2" x2="138.64" y2="392.2" stroke="#262626" stroke-width="1.5" stroke-linecap="butt" />
<line x1="141.71" y1="386.2" x2="141.71" y2="392.2" stroke="#262626" stroke-width="1.5" stroke-linecap="butt" />
<line x1="162.5" y1="386.2" x2="162.5" y2="392.2" stroke="#262626" stroke-width="1.5" stroke-linecap="butt" />
<line x1="173.05" y1="386.2" x2="173.05" y2="392.2" stroke="#262626" stroke-width="1.5" stroke-linecap="butt" />
<line x1="180.54" y1="386.2" x2="180.54" y2="392.2" stroke="#262626" stroke-width="1.5" stroke-linecap="butt" />
<line x1="186.35" y1="386.2" x2="186.35" y2="392.2" stroke="#262626" stroke-width="1.5" stroke-linecap="butt" />
<line x1="191.1" y1="386.2" x2="191.1" y2="392.2" stroke="#262626" stroke-width="1.5" stroke-linecap="butt" />
<line x1="195.11" y1="386.2" x2="195.11" y2="392.2" stroke="#262626" stroke-width="1.5" stroke-linecap="butt" />
<line x1="198.59" y1="386.2" x2="198.59" y2="392.2" stroke="#262626" stroke-width="1.5" stroke-linecap="butt" />
<line x1="201.66" y1="386.2" x2="201.66" y2="392.2" stroke="#262626" stroke-width="1.5" stroke-linecap="butt" />
<line x1="222.45" y1="386.2" x2="222.45" y2="392.2" stroke="#262626" stroke-width="1.5" stroke-linecap="butt" />
<line x1="233" y1="386.2" x2="233" y2="392.2" stroke="#262626" stroke-width="1.5" stroke-linecap="butt" />
<line x1="240.49" y1="386.2" x2="240.49" y2="392.2" stroke="#262626" stroke-width="1.5" stroke-linecap="butt" />
<line x1="246.3" y1="386.2" x2="246.3" y2="392.2" stroke="#262626" stroke-width="1.5" stroke-linecap="butt" />
<text x="84.8" y="414.3" font-family="'DejaVu Sans', 'Liberation Sans', sans-serif" font-size="19" text-anchor="middle" fill="#1a1a1a" stroke="#1a1a1a" stroke-width="0.22">10<tspan font-size="13.3" dy="-8.0">0</tspan></text>
<text x="144.8" y="414.3" font-family="'DejaVu Sans', 'Liberation Sans', sans-serif" font-size="19" text-anchor="middle" fill="#1a1a1a" stroke="#1a1a1a" stroke-width="0.22">10<tspan font-size="13.3" dy="-8.0">1</tspan></text>
<text x="204.7" y="414.3" font-family="'DejaVu Sans', 'Liberation Sans', sans-serif" font-size="19" text-anchor="middle" fill="#1a1a1a" stroke="#1a1a1a" stroke-width="0.22">10<tspan font-size="13.3" dy="-8.0">2</tspan></text>
<text x="21.7" y="308.2" font-family="'DejaVu Sans', 'Liberation Sans', sans-serif" text-anchor="middle" fill="#1a1a1a" transform="rotate(-90 21.7 308.2)"><tspan font-weight="bold" font-size="23.5" dy="0.00">W</tspan><tspan font-size="16.4" dy="4.70">1</tspan></text>
<text x="157.5" y="442.3" font-family="'DejaVu Sans', 'Liberation Sans', sans-serif" font-size="22" font-weight="normal" font-style="normal" text-anchor="middle" fill="#1a1a1a" stroke="#1a1a1a" stroke-width="0.22" >Training Step</text>
<line x1="824.5" y1="30.4" x2="824.5" y2="189" stroke="#262626" stroke-width="2.6" stroke-linecap="butt" />
<line x1="823.2" y1="187.7" x2="955.3" y2="187.7" stroke="#262626" stroke-width="2.6" stroke-linecap="butt" />
<line x1="813.5" y1="77.1" x2="824.5" y2="77.1" stroke="#262626" stroke-width="2.6" stroke-linecap="butt" />
<text x="810" y="85" font-family="'DejaVu Sans', 'Liberation Sans', sans-serif" font-size="20.5" font-weight="normal" font-style="normal" text-anchor="end" fill="#1a1a1a" stroke="#1a1a1a" stroke-width="0.22" >0.2</text>
<line x1="813.5" y1="180.6" x2="824.5" y2="180.6" stroke="#262626" stroke-width="2.6" stroke-linecap="butt" />
<text x="810" y="188.5" font-family="'DejaVu Sans', 'Liberation Sans', sans-serif" font-size="20.5" font-weight="normal" font-style="normal" text-anchor="end" fill="#1a1a1a" stroke="#1a1a1a" stroke-width="0.22" >0.0</text>
<line x1="830.3" y1="187.7" x2="830.3" y2="198.7" stroke="#262626" stroke-width="2.6" stroke-linecap="butt" />
<line x1="889.4" y1="187.7" x2="889.4" y2="198.7" stroke="#262626" stroke-width="2.6" stroke-linecap="butt" />
<text x="830.3" y="219" font-family="'DejaVu Sans', 'Liberation Sans', sans-serif" font-size="20.5" font-weight="normal" font-style="normal" text-anchor="middle" fill="#1a1a1a" stroke="#1a1a1a" stroke-width="0.22" >0</text>
<text x="889.4" y="219" font-family="'DejaVu Sans', 'Liberation Sans', sans-serif" font-size="20.5" font-weight="normal" font-style="normal" text-anchor="middle" fill="#1a1a1a" stroke="#1a1a1a" stroke-width="0.22" >2000</text>
<text x="768.3" y="109.2" font-family="'DejaVu Sans', 'Liberation Sans', sans-serif" font-size="22" font-weight="normal" font-style="normal" text-anchor="middle" fill="#1a1a1a" stroke="#1a1a1a" stroke-width="0.22" transform="rotate(-90 768.3 109.2)" >Loss</text>
<line x1="824.5" y1="229.4" x2="824.5" y2="387.7" stroke="#262626" stroke-width="2.6" stroke-linecap="butt" />
<line x1="823.2" y1="386.4" x2="955.3" y2="386.4" stroke="#262626" stroke-width="2.6" stroke-linecap="butt" />
<line x1="813.5" y1="252.3" x2="824.5" y2="252.3" stroke="#262626" stroke-width="2.6" stroke-linecap="butt" />
<text x="810" y="260.2" font-family="'DejaVu Sans', 'Liberation Sans', sans-serif" font-size="20.5" font-weight="normal" font-style="normal" text-anchor="end" fill="#1a1a1a" stroke="#1a1a1a" stroke-width="0.22" >0.4</text>
<line x1="813.5" y1="315.9" x2="824.5" y2="315.9" stroke="#262626" stroke-width="2.6" stroke-linecap="butt" />
<text x="810" y="323.8" font-family="'DejaVu Sans', 'Liberation Sans', sans-serif" font-size="20.5" font-weight="normal" font-style="normal" text-anchor="end" fill="#1a1a1a" stroke="#1a1a1a" stroke-width="0.22" >0.2</text>
<line x1="813.5" y1="379.1" x2="824.5" y2="379.1" stroke="#262626" stroke-width="2.6" stroke-linecap="butt" />
<text x="810" y="387" font-family="'DejaVu Sans', 'Liberation Sans', sans-serif" font-size="20.5" font-weight="normal" font-style="normal" text-anchor="end" fill="#1a1a1a" stroke="#1a1a1a" stroke-width="0.22" >0.0</text>
<line x1="830.3" y1="386.4" x2="830.3" y2="397.4" stroke="#262626" stroke-width="2.6" stroke-linecap="butt" />
<line x1="889.3" y1="386.4" x2="889.3" y2="397.4" stroke="#262626" stroke-width="2.6" stroke-linecap="butt" />
<text x="830.3" y="417.7" font-family="'DejaVu Sans', 'Liberation Sans', sans-serif" font-size="20.5" font-weight="normal" font-style="normal" text-anchor="middle" fill="#1a1a1a" stroke="#1a1a1a" stroke-width="0.22" >0</text>
<text x="889.3" y="417.7" font-family="'DejaVu Sans', 'Liberation Sans', sans-serif" font-size="20.5" font-weight="normal" font-style="normal" text-anchor="middle" fill="#1a1a1a" stroke="#1a1a1a" stroke-width="0.22" >500</text>
<text x="768.3" y="307.9" font-family="'DejaVu Sans', 'Liberation Sans', sans-serif" font-size="22" font-weight="normal" font-style="normal" text-anchor="middle" fill="#1a1a1a" stroke="#1a1a1a" stroke-width="0.22" transform="rotate(-90 768.3 307.9)" >Loss</text>
<text x="888.9" y="443.4" font-family="'DejaVu Sans', 'Liberation Sans', sans-serif" font-size="22" font-weight="normal" font-style="normal" text-anchor="middle" fill="#1a1a1a" stroke="#1a1a1a" stroke-width="0.22" >Training Step</text>
<line x1="1022.5" y1="30.6" x2="1022.5" y2="188.8" stroke="#262626" stroke-width="2.6" stroke-linecap="butt" />
<line x1="1021.2" y1="187.5" x2="1153.1" y2="187.5" stroke="#262626" stroke-width="2.6" stroke-linecap="butt" />
<line x1="1011.5" y1="57.3" x2="1022.5" y2="57.3" stroke="#262626" stroke-width="2.6" stroke-linecap="butt" />
<text x="1008" y="65.2" font-family="'DejaVu Sans', 'Liberation Sans', sans-serif" font-size="20.5" font-weight="normal" font-style="normal" text-anchor="end" fill="#1a1a1a" stroke="#1a1a1a" stroke-width="0.22" >1</text>
<line x1="1011.5" y1="109.5" x2="1022.5" y2="109.5" stroke="#262626" stroke-width="2.6" stroke-linecap="butt" />
<text x="1008" y="117.4" font-family="'DejaVu Sans', 'Liberation Sans', sans-serif" font-size="20.5" font-weight="normal" font-style="normal" text-anchor="end" fill="#1a1a1a" stroke="#1a1a1a" stroke-width="0.22" >0</text>
<line x1="1011.5" y1="161.7" x2="1022.5" y2="161.7" stroke="#262626" stroke-width="2.6" stroke-linecap="butt" />
<text x="1008" y="169.6" font-family="'DejaVu Sans', 'Liberation Sans', sans-serif" font-size="20.5" font-weight="normal" font-style="normal" text-anchor="end" fill="#1a1a1a" stroke="#1a1a1a" stroke-width="0.22" >−1</text>
<line x1="1028.7" y1="187.5" x2="1028.7" y2="198.5" stroke="#262626" stroke-width="2.6" stroke-linecap="butt" />
<line x1="1087" y1="187.5" x2="1087" y2="198.5" stroke="#262626" stroke-width="2.6" stroke-linecap="butt" />
<text x="1028.7" y="219" font-family="'DejaVu Sans', 'Liberation Sans', sans-serif" font-size="20.5" font-weight="normal" font-style="normal" text-anchor="middle" fill="#1a1a1a" stroke="#1a1a1a" stroke-width="0.22" >0</text>
<text x="1087.3" y="219" font-family="'DejaVu Sans', 'Liberation Sans', sans-serif" font-size="20.5" font-weight="normal" font-style="normal" text-anchor="middle" fill="#1a1a1a" stroke="#1a1a1a" stroke-width="0.22" >2000</text>
<text x="980.1" y="109.9" font-family="'DejaVu Sans', 'Liberation Sans', sans-serif" text-anchor="middle" fill="#1a1a1a" transform="rotate(-90 980.1 109.9)"><tspan font-weight="bold" font-size="25.4" dy="0.00">W</tspan><tspan font-size="17.8" dy="5.08">2</tspan><tspan font-weight="bold" font-size="25.4" dy="-5.08">W</tspan><tspan font-size="17.8" dy="5.08">1</tspan></text>
<line x1="1022.8" y1="229.2" x2="1022.8" y2="387.8" stroke="#262626" stroke-width="2.6" stroke-linecap="butt" />
<line x1="1021.5" y1="386.5" x2="1153.2" y2="386.5" stroke="#262626" stroke-width="2.6" stroke-linecap="butt" />
<line x1="1011.8" y1="256.6" x2="1022.8" y2="256.6" stroke="#262626" stroke-width="2.6" stroke-linecap="butt" />
<text x="1008.3" y="264.5" font-family="'DejaVu Sans', 'Liberation Sans', sans-serif" font-size="20.5" font-weight="normal" font-style="normal" text-anchor="end" fill="#1a1a1a" stroke="#1a1a1a" stroke-width="0.22" >1</text>
<line x1="1011.8" y1="308" x2="1022.8" y2="308" stroke="#262626" stroke-width="2.6" stroke-linecap="butt" />
<text x="1008.3" y="315.9" font-family="'DejaVu Sans', 'Liberation Sans', sans-serif" font-size="20.5" font-weight="normal" font-style="normal" text-anchor="end" fill="#1a1a1a" stroke="#1a1a1a" stroke-width="0.22" >0</text>
<line x1="1011.8" y1="359.8" x2="1022.8" y2="359.8" stroke="#262626" stroke-width="2.6" stroke-linecap="butt" />
<text x="1008.3" y="367.7" font-family="'DejaVu Sans', 'Liberation Sans', sans-serif" font-size="20.5" font-weight="normal" font-style="normal" text-anchor="end" fill="#1a1a1a" stroke="#1a1a1a" stroke-width="0.22" >−1</text>
<line x1="1028.4" y1="386.5" x2="1028.4" y2="397.5" stroke="#262626" stroke-width="2.6" stroke-linecap="butt" />
<line x1="1087.3" y1="386.5" x2="1087.3" y2="397.5" stroke="#262626" stroke-width="2.6" stroke-linecap="butt" />
<text x="1028.4" y="417.7" font-family="'DejaVu Sans', 'Liberation Sans', sans-serif" font-size="20.5" font-weight="normal" font-style="normal" text-anchor="middle" fill="#1a1a1a" stroke="#1a1a1a" stroke-width="0.22" >0</text>
<text x="1087.3" y="417.7" font-family="'DejaVu Sans', 'Liberation Sans', sans-serif" font-size="20.5" font-weight="normal" font-style="normal" text-anchor="middle" fill="#1a1a1a" stroke="#1a1a1a" stroke-width="0.22" >500</text>
<text x="980.1" y="308.7" font-family="'DejaVu Sans', 'Liberation Sans', sans-serif" text-anchor="middle" fill="#1a1a1a" transform="rotate(-90 980.1 308.7)"><tspan font-weight="bold" font-size="25.4" dy="0.00">W</tspan><tspan font-size="17.8" dy="5.08">2</tspan><tspan font-weight="bold" font-size="25.4" dy="-5.08">W</tspan><tspan font-size="17.8" dy="5.08">1</tspan></text>
<text x="1086.5" y="443.4" font-family="'DejaVu Sans', 'Liberation Sans', sans-serif" font-size="22" font-weight="normal" font-style="normal" text-anchor="middle" fill="#1a1a1a" stroke="#1a1a1a" stroke-width="0.22" >Training Step</text>
<line x1="1212.6" y1="30.4" x2="1212.6" y2="189.2" stroke="#262626" stroke-width="2.6" stroke-linecap="butt" />
<line x1="1211.3" y1="187.9" x2="1342.9" y2="187.9" stroke="#262626" stroke-width="2.6" stroke-linecap="butt" />
<line x1="1201.6" y1="49.4" x2="1212.6" y2="49.4" stroke="#262626" stroke-width="2.6" stroke-linecap="butt" />
<text x="1198.1" y="57.3" font-family="'DejaVu Sans', 'Liberation Sans', sans-serif" font-size="20.5" font-weight="normal" font-style="normal" text-anchor="end" fill="#1a1a1a" stroke="#1a1a1a" stroke-width="0.22" >2</text>
<line x1="1201.6" y1="109.6" x2="1212.6" y2="109.6" stroke="#262626" stroke-width="2.6" stroke-linecap="butt" />
<text x="1198.1" y="117.5" font-family="'DejaVu Sans', 'Liberation Sans', sans-serif" font-size="20.5" font-weight="normal" font-style="normal" text-anchor="end" fill="#1a1a1a" stroke="#1a1a1a" stroke-width="0.22" >0</text>
<line x1="1201.6" y1="169.8" x2="1212.6" y2="169.8" stroke="#262626" stroke-width="2.6" stroke-linecap="butt" />
<text x="1198.1" y="177.7" font-family="'DejaVu Sans', 'Liberation Sans', sans-serif" font-size="20.5" font-weight="normal" font-style="normal" text-anchor="end" fill="#1a1a1a" stroke="#1a1a1a" stroke-width="0.22" >−2</text>
<line x1="1214.8" y1="187.9" x2="1214.8" y2="198.9" stroke="#262626" stroke-width="2.6" stroke-linecap="butt" />
<line x1="1277.1" y1="187.9" x2="1277.1" y2="198.9" stroke="#262626" stroke-width="2.6" stroke-linecap="butt" />
<line x1="1339.2" y1="187.9" x2="1339.2" y2="198.9" stroke="#262626" stroke-width="2.6" stroke-linecap="butt" />
<text x="1214.8" y="219" font-family="'DejaVu Sans', 'Liberation Sans', sans-serif" font-size="20.5" font-weight="normal" font-style="normal" text-anchor="middle" fill="#1a1a1a" stroke="#1a1a1a" stroke-width="0.22" >−2.5</text>
<text x="1277.1" y="219" font-family="'DejaVu Sans', 'Liberation Sans', sans-serif" font-size="20.5" font-weight="normal" font-style="normal" text-anchor="middle" fill="#1a1a1a" stroke="#1a1a1a" stroke-width="0.22" >0.0</text>
<text x="1339.2" y="219" font-family="'DejaVu Sans', 'Liberation Sans', sans-serif" font-size="20.5" font-weight="normal" font-style="normal" text-anchor="middle" fill="#1a1a1a" stroke="#1a1a1a" stroke-width="0.22" >2.5</text>
<line x1="1212.6" y1="229.2" x2="1212.6" y2="387.3" stroke="#262626" stroke-width="2.6" stroke-linecap="butt" />
<line x1="1211.3" y1="386" x2="1342.9" y2="386" stroke="#262626" stroke-width="2.6" stroke-linecap="butt" />
<line x1="1201.6" y1="248.2" x2="1212.6" y2="248.2" stroke="#262626" stroke-width="2.6" stroke-linecap="butt" />
<text x="1198.1" y="256.1" font-family="'DejaVu Sans', 'Liberation Sans', sans-serif" font-size="20.5" font-weight="normal" font-style="normal" text-anchor="end" fill="#1a1a1a" stroke="#1a1a1a" stroke-width="0.22" >2</text>
<line x1="1201.6" y1="308.2" x2="1212.6" y2="308.2" stroke="#262626" stroke-width="2.6" stroke-linecap="butt" />
<text x="1198.1" y="316.1" font-family="'DejaVu Sans', 'Liberation Sans', sans-serif" font-size="20.5" font-weight="normal" font-style="normal" text-anchor="end" fill="#1a1a1a" stroke="#1a1a1a" stroke-width="0.22" >0</text>
<line x1="1201.6" y1="368.3" x2="1212.6" y2="368.3" stroke="#262626" stroke-width="2.6" stroke-linecap="butt" />
<text x="1198.1" y="376.2" font-family="'DejaVu Sans', 'Liberation Sans', sans-serif" font-size="20.5" font-weight="normal" font-style="normal" text-anchor="end" fill="#1a1a1a" stroke="#1a1a1a" stroke-width="0.22" >−2</text>
<line x1="1214.8" y1="386" x2="1214.8" y2="397" stroke="#262626" stroke-width="2.6" stroke-linecap="butt" />
<line x1="1277.1" y1="386" x2="1277.1" y2="397" stroke="#262626" stroke-width="2.6" stroke-linecap="butt" />
<line x1="1339.2" y1="386" x2="1339.2" y2="397" stroke="#262626" stroke-width="2.6" stroke-linecap="butt" />
<text x="1214.8" y="417.7" font-family="'DejaVu Sans', 'Liberation Sans', sans-serif" font-size="20.5" font-weight="normal" font-style="normal" text-anchor="middle" fill="#1a1a1a" stroke="#1a1a1a" stroke-width="0.22" >−2.5</text>
<text x="1277.1" y="417.7" font-family="'DejaVu Sans', 'Liberation Sans', sans-serif" font-size="20.5" font-weight="normal" font-style="normal" text-anchor="middle" fill="#1a1a1a" stroke="#1a1a1a" stroke-width="0.22" >0.0</text>
<text x="1339.2" y="417.7" font-family="'DejaVu Sans', 'Liberation Sans', sans-serif" font-size="20.5" font-weight="normal" font-style="normal" text-anchor="middle" fill="#1a1a1a" stroke="#1a1a1a" stroke-width="0.22" >2.5</text>
<text x="1176.2" y="110.4" font-family="'DejaVu Sans', 'Liberation Sans', sans-serif" font-size="22" font-weight="normal" font-style="normal" text-anchor="middle" fill="#1a1a1a" stroke="#1a1a1a" stroke-width="0.22" transform="rotate(-90 1176.2 110.4)" >Dim 2</text>
<text x="1176.2" y="307.5" font-family="'DejaVu Sans', 'Liberation Sans', sans-serif" font-size="22" font-weight="normal" font-style="normal" text-anchor="middle" fill="#1a1a1a" stroke="#1a1a1a" stroke-width="0.22" transform="rotate(-90 1176.2 307.5)" >Dim 2</text>
<text x="1276.9" y="443.6" font-family="'DejaVu Sans', 'Liberation Sans', sans-serif" font-size="22" font-weight="normal" font-style="normal" text-anchor="middle" fill="#1a1a1a" stroke="#1a1a1a" stroke-width="0.22" >Dim 1</text>
<line x1="1408.2" y1="30.4" x2="1408.2" y2="189.2" stroke="#262626" stroke-width="2.6" stroke-linecap="butt" />
<line x1="1406.9" y1="187.9" x2="1538.5" y2="187.9" stroke="#262626" stroke-width="2.6" stroke-linecap="butt" />
<line x1="1397.2" y1="49.4" x2="1408.2" y2="49.4" stroke="#262626" stroke-width="2.6" stroke-linecap="butt" />
<text x="1393.7" y="57.3" font-family="'DejaVu Sans', 'Liberation Sans', sans-serif" font-size="20.5" font-weight="normal" font-style="normal" text-anchor="end" fill="#1a1a1a" stroke="#1a1a1a" stroke-width="0.22" >2</text>
<line x1="1397.2" y1="109.6" x2="1408.2" y2="109.6" stroke="#262626" stroke-width="2.6" stroke-linecap="butt" />
<text x="1393.7" y="117.5" font-family="'DejaVu Sans', 'Liberation Sans', sans-serif" font-size="20.5" font-weight="normal" font-style="normal" text-anchor="end" fill="#1a1a1a" stroke="#1a1a1a" stroke-width="0.22" >0</text>
<line x1="1397.2" y1="169.8" x2="1408.2" y2="169.8" stroke="#262626" stroke-width="2.6" stroke-linecap="butt" />
<text x="1393.7" y="177.7" font-family="'DejaVu Sans', 'Liberation Sans', sans-serif" font-size="20.5" font-weight="normal" font-style="normal" text-anchor="end" fill="#1a1a1a" stroke="#1a1a1a" stroke-width="0.22" >−2</text>
<line x1="1410.4" y1="187.9" x2="1410.4" y2="198.9" stroke="#262626" stroke-width="2.6" stroke-linecap="butt" />
<line x1="1472.7" y1="187.9" x2="1472.7" y2="198.9" stroke="#262626" stroke-width="2.6" stroke-linecap="butt" />
<line x1="1534.8" y1="187.9" x2="1534.8" y2="198.9" stroke="#262626" stroke-width="2.6" stroke-linecap="butt" />
<text x="1410.4" y="219" font-family="'DejaVu Sans', 'Liberation Sans', sans-serif" font-size="20.5" font-weight="normal" font-style="normal" text-anchor="middle" fill="#1a1a1a" stroke="#1a1a1a" stroke-width="0.22" >−2.5</text>
<text x="1472.7" y="219" font-family="'DejaVu Sans', 'Liberation Sans', sans-serif" font-size="20.5" font-weight="normal" font-style="normal" text-anchor="middle" fill="#1a1a1a" stroke="#1a1a1a" stroke-width="0.22" >0.0</text>
<text x="1534.8" y="219" font-family="'DejaVu Sans', 'Liberation Sans', sans-serif" font-size="20.5" font-weight="normal" font-style="normal" text-anchor="middle" fill="#1a1a1a" stroke="#1a1a1a" stroke-width="0.22" >2.5</text>
<line x1="1408.2" y1="229.2" x2="1408.2" y2="387.3" stroke="#262626" stroke-width="2.6" stroke-linecap="butt" />
<line x1="1406.9" y1="386" x2="1538.5" y2="386" stroke="#262626" stroke-width="2.6" stroke-linecap="butt" />
<line x1="1397.2" y1="248.2" x2="1408.2" y2="248.2" stroke="#262626" stroke-width="2.6" stroke-linecap="butt" />
<text x="1393.7" y="256.1" font-family="'DejaVu Sans', 'Liberation Sans', sans-serif" font-size="20.5" font-weight="normal" font-style="normal" text-anchor="end" fill="#1a1a1a" stroke="#1a1a1a" stroke-width="0.22" >2</text>
<line x1="1397.2" y1="308.2" x2="1408.2" y2="308.2" stroke="#262626" stroke-width="2.6" stroke-linecap="butt" />
<text x="1393.7" y="316.1" font-family="'DejaVu Sans', 'Liberation Sans', sans-serif" font-size="20.5" font-weight="normal" font-style="normal" text-anchor="end" fill="#1a1a1a" stroke="#1a1a1a" stroke-width="0.22" >0</text>
<line x1="1397.2" y1="368.3" x2="1408.2" y2="368.3" stroke="#262626" stroke-width="2.6" stroke-linecap="butt" />
<text x="1393.7" y="376.2" font-family="'DejaVu Sans', 'Liberation Sans', sans-serif" font-size="20.5" font-weight="normal" font-style="normal" text-anchor="end" fill="#1a1a1a" stroke="#1a1a1a" stroke-width="0.22" >−2</text>
<line x1="1410.4" y1="386" x2="1410.4" y2="397" stroke="#262626" stroke-width="2.6" stroke-linecap="butt" />
<line x1="1472.7" y1="386" x2="1472.7" y2="397" stroke="#262626" stroke-width="2.6" stroke-linecap="butt" />
<line x1="1534.8" y1="386" x2="1534.8" y2="397" stroke="#262626" stroke-width="2.6" stroke-linecap="butt" />
<text x="1410.4" y="417.7" font-family="'DejaVu Sans', 'Liberation Sans', sans-serif" font-size="20.5" font-weight="normal" font-style="normal" text-anchor="middle" fill="#1a1a1a" stroke="#1a1a1a" stroke-width="0.22" >−2.5</text>
<text x="1472.7" y="417.7" font-family="'DejaVu Sans', 'Liberation Sans', sans-serif" font-size="20.5" font-weight="normal" font-style="normal" text-anchor="middle" fill="#1a1a1a" stroke="#1a1a1a" stroke-width="0.22" >0.0</text>
<text x="1534.8" y="417.7" font-family="'DejaVu Sans', 'Liberation Sans', sans-serif" font-size="20.5" font-weight="normal" font-style="normal" text-anchor="middle" fill="#1a1a1a" stroke="#1a1a1a" stroke-width="0.22" >2.5</text>
<text x="1472.5" y="443.6" font-family="'DejaVu Sans', 'Liberation Sans', sans-serif" font-size="22" font-weight="normal" font-style="normal" text-anchor="middle" fill="#1a1a1a" stroke="#1a1a1a" stroke-width="0.22" >Dim 1</text>
<text x="4" y="33.8" font-family="'Liberation Sans', Arial, sans-serif" font-size="40" font-weight="bold" font-style="normal" text-anchor="start" fill="#000" >A</text>
<text x="1.5" y="227" font-family="'Liberation Sans', Arial, sans-serif" font-size="40" font-weight="bold" font-style="normal" text-anchor="start" fill="#000" >B</text>
<text x="255.4" y="33.8" font-family="'Liberation Sans', Arial, sans-serif" font-size="40" font-weight="bold" font-style="normal" text-anchor="start" fill="#000" >C</text>
<text x="471" y="33.8" font-family="'Liberation Sans', Arial, sans-serif" font-size="40" font-weight="bold" font-style="normal" text-anchor="start" fill="#000" >D</text>
<text x="783.4" y="33.8" font-family="'Liberation Sans', Arial, sans-serif" font-size="40" font-weight="bold" font-style="normal" text-anchor="start" fill="#000" >E</text>
<text x="998.3" y="33.8" font-family="'Liberation Sans', Arial, sans-serif" font-size="40" font-weight="bold" font-style="normal" text-anchor="start" fill="#000" >F</text>
<text x="1168.2" y="33.8" font-family="'Liberation Sans', Arial, sans-serif" font-size="40" font-weight="bold" font-style="normal" text-anchor="start" fill="#000" >G</text>
<text x="1359.6" y="33.8" font-family="'Liberation Sans', Arial, sans-serif" font-size="40" font-weight="bold" font-style="normal" text-anchor="start" fill="#000" >H</text>
<path d="M339.5,110 L406.9,32 L474.3,110" fill="none" stroke="#333333" stroke-width="3.2" stroke-linecap="butt" stroke-linejoin="miter" />
<path d="M308,144.7 L339.5,110 L369.6,144.7" fill="none" stroke="#333333" stroke-width="3.2" stroke-linecap="butt" stroke-linejoin="miter" />
<path d="M444.2,144.7 L474.3,110 L505.8,144.7" fill="none" stroke="#333333" stroke-width="3.2" stroke-linecap="butt" stroke-linejoin="miter" />
<path d="M287.9,166.8 L308,144.7 L326.6,166.8" fill="none" stroke="#333333" stroke-width="3.2" stroke-linecap="butt" stroke-linejoin="miter" />
<path d="M351.6,166.8 L369.6,144.7 L389.8,166.8" fill="none" stroke="#333333" stroke-width="3.2" stroke-linecap="butt" stroke-linejoin="miter" />
<path d="M424,166.8 L444.2,144.7 L462.2,166.8" fill="none" stroke="#333333" stroke-width="3.2" stroke-linecap="butt" stroke-linejoin="miter" />
<path d="M487.2,166.8 L505.8,144.7 L525.9,166.8" fill="none" stroke="#333333" stroke-width="3.2" stroke-linecap="butt" stroke-linejoin="miter" />
<text x="314.1" y="67.2" font-family="'Liberation Sans', Arial, sans-serif" font-size="17.5" font-weight="bold" font-style="normal" text-anchor="start" fill="#333333" stroke="#333333" stroke-width="0.3" >Animal</text>
<text x="441" y="65.1" font-family="'Liberation Sans', Arial, sans-serif" font-size="17.5" font-weight="bold" font-style="normal" text-anchor="start" fill="#333333" stroke="#333333" stroke-width="0.3" >Plant</text>
<text x="282.9" y="129.7" font-family="'Liberation Sans', Arial, sans-serif" font-size="17.5" font-weight="bold" font-style="normal" text-anchor="start" fill="#333333" stroke="#333333" stroke-width="0.3" >Fish</text>
<text x="363.1" y="129.7" font-family="'Liberation Sans', Arial, sans-serif" font-size="17.5" font-weight="bold" font-style="normal" text-anchor="start" fill="#333333" stroke="#333333" stroke-width="0.3" >Bird</text>
<text x="408.2" y="129.7" font-family="'Liberation Sans', Arial, sans-serif" font-size="17.5" font-weight="bold" font-style="normal" text-anchor="start" fill="#333333" stroke="#333333" stroke-width="0.3" >Algae</text>
<text x="497" y="129.7" font-family="'Liberation Sans', Arial, sans-serif" font-size="17.5" font-weight="bold" font-style="normal" text-anchor="start" fill="#333333" stroke="#333333" stroke-width="0.3" >Flower</text>
<path d="M339.5,305.8 L406.9,227.8 L474.3,305.8" fill="none" stroke="#333333" stroke-width="3.2" stroke-linecap="butt" stroke-linejoin="miter" />
<path d="M308,340.5 L339.5,305.8 L369.6,340.5" fill="none" stroke="#333333" stroke-width="3.2" stroke-linecap="butt" stroke-linejoin="miter" />
<path d="M444.2,340.5 L474.3,305.8 L505.8,340.5" fill="none" stroke="#333333" stroke-width="3.2" stroke-linecap="butt" stroke-linejoin="miter" />
<path d="M287.9,362.6 L308,340.5 L326.6,362.6" fill="none" stroke="#333333" stroke-width="3.2" stroke-linecap="butt" stroke-linejoin="miter" />
<path d="M351.6,362.6 L369.6,340.5 L389.8,362.6" fill="none" stroke="#333333" stroke-width="3.2" stroke-linecap="butt" stroke-linejoin="miter" />
<path d="M424,362.6 L444.2,340.5 L462.2,362.6" fill="none" stroke="#333333" stroke-width="3.2" stroke-linecap="butt" stroke-linejoin="miter" />
<path d="M487.2,362.6 L505.8,340.5 L525.9,362.6" fill="none" stroke="#333333" stroke-width="3.2" stroke-linecap="butt" stroke-linejoin="miter" />
<text x="331.8" y="262" font-family="'Liberation Sans', Arial, sans-serif" font-size="17.5" font-weight="bold" font-style="normal" text-anchor="start" fill="#333333" stroke="#333333" stroke-width="0.3" >Cold</text>
<text x="440.4" y="260.3" font-family="'Liberation Sans', Arial, sans-serif" font-size="17.5" font-weight="bold" font-style="normal" text-anchor="start" fill="#333333" stroke="#333333" stroke-width="0.3" >Warm</text>
<text x="263.5" y="299.3" font-family="'Liberation Sans', Arial, sans-serif" font-size="17.5" font-weight="bold" font-style="normal" text-anchor="start" fill="#333333" stroke="#333333" stroke-width="0.3" >Non-</text>
<text x="263.5" y="313.2" font-family="'Liberation Sans', Arial, sans-serif" font-size="17.5" font-weight="bold" font-style="normal" text-anchor="start" fill="#333333" stroke="#333333" stroke-width="0.3" >Primary</text>
<text x="400.9" y="299.3" font-family="'Liberation Sans', Arial, sans-serif" font-size="17.5" font-weight="bold" font-style="normal" text-anchor="start" fill="#333333" stroke="#333333" stroke-width="0.3" >Non-</text>
<text x="400.9" y="313.2" font-family="'Liberation Sans', Arial, sans-serif" font-size="17.5" font-weight="bold" font-style="normal" text-anchor="start" fill="#333333" stroke="#333333" stroke-width="0.3" >Primary</text>
<text x="364.3" y="328.3" font-family="'Liberation Sans', Arial, sans-serif" font-size="17.5" font-weight="bold" font-style="normal" text-anchor="start" fill="#333333" stroke="#333333" stroke-width="0.3" >Primary</text>
<text x="500" y="328.3" font-family="'Liberation Sans', Arial, sans-serif" font-size="17.5" font-weight="bold" font-style="normal" text-anchor="start" fill="#333333" stroke="#333333" stroke-width="0.3" >Primary</text>
<g fill="none" stroke="#5ea7d6" stroke-width="1.9" stroke-linejoin="round"><path d="M268.7,179.7 L275.4,183.3 C277.5,182.2 279.4,181.6 281.2,181.2 L282.3,176.7 L287.6,180.5 C295,180 301,181.6 304.4,185.6 C301,189.7 295,191 287.6,190.7 L282.5,194.6 L281.4,190 C279.4,189.6 277.3,189 275.4,188.1 L268.7,191.8 L271.7,185.7 Z"/></g><circle cx="298.2" cy="185" r="1.2" fill="#5ea7d6"/>
<g fill="none" stroke="#d8601b" stroke-width="2.8" stroke-linejoin="round"><ellipse cx="310.4" cy="186.3" rx="2.1" ry="3.0" stroke-width="2.6"/><path d="M316.7,186.3 C316.7,181.6 318.3,178.9 320.8,178.9 C322.6,178.9 323.6,180 324,181.5 L324,191.3 C323.6,192.8 322.6,193.8 320.8,193.8 C318.3,193.8 316.7,191 316.7,186.3 Z"/><path d="M324,181.5 C324.2,177.5 326.2,175.5 329.6,175.5 C332.8,175.5 334.6,177.6 334.8,181 L334.8,191.8 C334.6,195 332.8,196.5 329.6,196.5 C326.2,196.5 324.2,194.8 324,191.3"/><path d="M333.3,179.6 L333.3,193" stroke-width="3.2"/><path d="M334.8,180.4 C338.8,180.4 342.4,182.8 342.9,186.3 C342.4,189.8 338.8,192.2 334.8,192.2"/></g><circle cx="337.9" cy="185.2" r="1.5" fill="#d8601b"/><path d="M328.2,175.6 L330.6,175.6 M328.2,196.4 L330.6,196.4" stroke="#fff" stroke-width="0.9"/>
<g fill="none" stroke="#0f9b73" stroke-width="2.6" stroke-linejoin="round" stroke-linecap="round"><path d="M343.8,192.6 C346.5,189.5 349,186.4 352,183.6 C355,181 358.5,179.6 362.2,178.8 C363.8,175.8 366,173.4 369,173.2 C371.2,173.1 372.6,174.4 373.4,176 L376,178.3 L372.6,179 C372.2,184 369.2,188.8 364,191.2 C359.5,193 354.6,192.8 350.4,191.2 L346.4,194.8 Z"/></g><path d="M356.2,192.4 L355.6,195.8 L357.6,197.6 L360.4,196.2 L361.2,195 L364.6,196 L365.6,194.6 L363.8,192.4 Z" fill="#0f9b73"/><circle cx="370.2" cy="176.8" r="0.9" fill="#0f9b73"/>
<g fill="none" stroke="#ebe03a" stroke-width="2.2" stroke-linejoin="round" stroke-linecap="round"><path d="M372.4,183.2 C372,190 373.8,196 380.8,196.4 L393.6,196.4 C398,196 399.6,192.4 398.8,188.6 C398.3,186.4 396.6,184.8 395,184 C397.6,183 398.8,181 398.8,178.8 C398.8,175.6 396.4,173.2 393.4,173.2 C390.2,173.2 388,175.6 388,178.6 C388,180.8 389,182.6 390.6,183.6 C386,185.4 379.6,185.2 372.4,183.2 Z"/><path d="M398.8,178.2 L403.6,179.2 L399.4,182"/></g><circle cx="395.4" cy="177.2" r="1.1" fill="#ebe03a"/>
<g fill="none" stroke="#1871b7" stroke-width="2.1" stroke-linejoin="round" stroke-linecap="round"><path d="M409.7,193.6 C412.5,196 417,197 423.2,196.9 C428.5,196.7 432.6,195 434.3,192.4 C435.2,190 435,187.6 435.6,185 C436,183.4 436.8,182 437.3,181"/><path d="M407.2,186.4 C406.9,182.4 406.0,184.0 406.2,182.0 Q407.5,178.7 408.8,182.0 C409.0,184.0 410.5,182.4 410.2,185.9"/><path d="M410.2,185.8 C409.9,181.8 409.3,179.6 409.5,177.6 Q410.9,174.3 412.3,177.6 C412.5,179.6 413.7,181.8 413.4,185.3"/><path d="M413.3,185.4 C413.0,181.4 412.8,176.6 413.0,174.6 Q414.4,171.3 415.9,174.6 C416.1,176.6 416.9,181.4 416.6,184.9"/><path d="M416.6,186.2 C416.3,182.2 416.4,176.4 416.6,174.4 Q418.1,171.1 419.6,174.4 C419.8,176.4 420.3,182.2 420.0,185.7"/><path d="M420.0,187.0 C419.7,183.0 420.2,176.8 420.4,174.8 Q421.9,171.5 423.4,174.8 C423.6,176.8 423.7,183.0 423.4,186.5"/><path d="M423.6,187.2 C423.3,183.2 424.1,177.6 424.3,175.6 Q425.8,172.3 427.3,175.6 C427.5,177.6 427.3,183.2 427.0,186.7"/><path d="M427.2,186.6 C426.9,182.6 428.1,179.4 428.3,177.4 Q429.8,174.1 431.3,177.4 C431.5,179.4 430.9,182.6 430.6,186.1"/><path d="M430.8,186.0 C430.5,182.0 432.1,182.6 432.3,180.6 Q433.9,177.3 435.5,180.6 C435.7,182.6 434.7,182.0 434.4,185.5"/></g><circle cx="416.9" cy="168.7" r="1.6" fill="#1871b7"/><circle cx="413.6" cy="170.9" r="1.3" fill="#1871b7"/>
<g fill="none" stroke="#4ca81c" stroke-width="2.1" stroke-linejoin="round" stroke-linecap="round"><path d="M448.4,198.4 L448.8,175.4 Q450.4,171.6 452.2,174.8 L452.6,194.4"/><path d="M450.5,177 L450.6,196"/><path d="M454.2,197.6 L454.4,177 Q455.9,173.6 457.4,176.6 L457.6,197"/><path d="M458.4,197.8 L459.4,188.6 L461.6,188.2 L462.6,197.6"/><path d="M462.6,197.6 L463,179 Q464.8,175.2 466.4,178.4 L466.4,194"/></g><circle cx="453.3" cy="168.6" r="1.7" fill="#4ca81c"/><circle cx="458.3" cy="171.6" r="1.6" fill="#4ca81c"/><circle cx="460.9" cy="174.6" r="1.6" fill="#4ca81c"/>
<polygon points="485.60,169.60 488.05,173.99 492.88,172.62 491.51,177.45 495.90,179.90 491.51,182.35 492.88,187.18 488.05,185.81 485.60,190.20 483.15,185.81 478.32,187.18 479.69,182.35 475.30,179.90 479.69,177.45 478.32,172.62 483.15,173.99" fill="none" stroke="#e59f0a" stroke-width="2.1" stroke-linejoin="round"/><circle cx="485.6" cy="179.9" r="5.0" fill="#e59f0a"/><line x1="485.6" y1="189" x2="485.6" y2="198.8" stroke="#e59f0a" stroke-width="2.6"/><path d="M485.6,196.2 C482.5,192.6 478.5,192.6 476.2,193.8 C478.8,196.4 482.6,196.8 485.6,196.2 Z" fill="#e59f0a" stroke="#e59f0a" stroke-width="0.8"/><path d="M485.6,196.2 C488.8,192.4 492.8,191.6 495.4,192.2 C493.4,195.6 489.2,196.8 485.6,196.2 Z" fill="#e59f0a" stroke="#e59f0a" stroke-width="0.8"/>
<g fill="none" stroke="#d9611c" stroke-width="1.9"><ellipse cx="524.19" cy="178.66" rx="6.8" ry="4.1" transform="rotate(-82.0 524.19 178.66)"/><ellipse cx="529.60" cy="183.89" rx="6.8" ry="4.1" transform="rotate(-10.0 529.60 183.89)"/><ellipse cx="526.30" cy="190.65" rx="6.8" ry="4.1" transform="rotate(62.0 526.30 190.65)"/><ellipse cx="518.85" cy="189.60" rx="6.8" ry="4.1" transform="rotate(134.0 518.85 189.60)"/><ellipse cx="517.55" cy="182.19" rx="6.8" ry="4.1" transform="rotate(206.0 517.55 182.19)"/></g><g stroke="#d9611c" stroke-width="1.6" stroke-linecap="round" fill="none"><path d="M509.8,174.4 L515.6,179.2 M511.6,174 L512.4,176.4 M509.6,176.6 L512,177"/><path d="M533.2,173.2 L530.2,178.6 M533.6,175.4 L531.4,176.2"/><path d="M508.8,191 L514.4,189.6 M510.2,193.4 L512.2,190.4"/></g><circle cx="523.3" cy="185.0" r="2" fill="#d9611c"/>
<g transform="translate(-76.00,195.5)"><g fill="none" stroke="#0f9b73" stroke-width="2.6" stroke-linejoin="round" stroke-linecap="round"><path d="M343.8,192.6 C346.5,189.5 349,186.4 352,183.6 C355,181 358.5,179.6 362.2,178.8 C363.8,175.8 366,173.4 369,173.2 C371.2,173.1 372.6,174.4 373.4,176 L376,178.3 L372.6,179 C372.2,184 369.2,188.8 364,191.2 C359.5,193 354.6,192.8 350.4,191.2 L346.4,194.8 Z"/></g><path d="M356.2,192.4 L355.6,195.8 L357.6,197.6 L360.4,196.2 L361.2,195 L364.6,196 L365.6,194.6 L363.8,192.4 Z" fill="#0f9b73"/><circle cx="370.2" cy="176.8" r="0.9" fill="#0f9b73"/></g>
<g transform="translate(-141.00,195.5)"><g fill="none" stroke="#4ca81c" stroke-width="2.1" stroke-linejoin="round" stroke-linecap="round"><path d="M448.4,198.4 L448.8,175.4 Q450.4,171.6 452.2,174.8 L452.6,194.4"/><path d="M450.5,177 L450.6,196"/><path d="M454.2,197.6 L454.4,177 Q455.9,173.6 457.4,176.6 L457.6,197"/><path d="M458.4,197.8 L459.4,188.6 L461.6,188.2 L462.6,197.6"/><path d="M462.6,197.6 L463,179 Q464.8,175.2 466.4,178.4 L466.4,194"/></g><circle cx="453.3" cy="168.6" r="1.7" fill="#4ca81c"/><circle cx="458.3" cy="171.6" r="1.6" fill="#4ca81c"/><circle cx="460.9" cy="174.6" r="1.6" fill="#4ca81c"/></g>
<g transform="translate(-72.00,195.5)"><g fill="none" stroke="#1871b7" stroke-width="2.1" stroke-linejoin="round" stroke-linecap="round"><path d="M409.7,193.6 C412.5,196 417,197 423.2,196.9 C428.5,196.7 432.6,195 434.3,192.4 C435.2,190 435,187.6 435.6,185 C436,183.4 436.8,182 437.3,181"/><path d="M407.2,186.4 C406.9,182.4 406.0,184.0 406.2,182.0 Q407.5,178.7 408.8,182.0 C409.0,184.0 410.5,182.4 410.2,185.9"/><path d="M410.2,185.8 C409.9,181.8 409.3,179.6 409.5,177.6 Q410.9,174.3 412.3,177.6 C412.5,179.6 413.7,181.8 413.4,185.3"/><path d="M413.3,185.4 C413.0,181.4 412.8,176.6 413.0,174.6 Q414.4,171.3 415.9,174.6 C416.1,176.6 416.9,181.4 416.6,184.9"/><path d="M416.6,186.2 C416.3,182.2 416.4,176.4 416.6,174.4 Q418.1,171.1 419.6,174.4 C419.8,176.4 420.3,182.2 420.0,185.7"/><path d="M420.0,187.0 C419.7,183.0 420.2,176.8 420.4,174.8 Q421.9,171.5 423.4,174.8 C423.6,176.8 423.7,183.0 423.4,186.5"/><path d="M423.6,187.2 C423.3,183.2 424.1,177.6 424.3,175.6 Q425.8,172.3 427.3,175.6 C427.5,177.6 427.3,183.2 427.0,186.7"/><path d="M427.2,186.6 C426.9,182.6 428.1,179.4 428.3,177.4 Q429.8,174.1 431.3,177.4 C431.5,179.4 430.9,182.6 430.6,186.1"/><path d="M430.8,186.0 C430.5,182.0 432.1,182.6 432.3,180.6 Q433.9,177.3 435.5,180.6 C435.7,182.6 434.7,182.0 434.4,185.5"/></g><circle cx="416.9" cy="168.7" r="1.6" fill="#1871b7"/><circle cx="413.6" cy="170.9" r="1.3" fill="#1871b7"/></g>
<g transform="translate(99.70,195.5)"><g fill="none" stroke="#5ea7d6" stroke-width="1.9" stroke-linejoin="round"><path d="M268.7,179.7 L275.4,183.3 C277.5,182.2 279.4,181.6 281.2,181.2 L282.3,176.7 L287.6,180.5 C295,180 301,181.6 304.4,185.6 C301,189.7 295,191 287.6,190.7 L282.5,194.6 L281.4,190 C279.4,189.6 277.3,189 275.4,188.1 L268.7,191.8 L271.7,185.7 Z"/></g><circle cx="298.2" cy="185" r="1.2" fill="#5ea7d6"/></g>
<g transform="translate(100.70,195.5)"><g fill="none" stroke="#d8601b" stroke-width="2.8" stroke-linejoin="round"><ellipse cx="310.4" cy="186.3" rx="2.1" ry="3.0" stroke-width="2.6"/><path d="M316.7,186.3 C316.7,181.6 318.3,178.9 320.8,178.9 C322.6,178.9 323.6,180 324,181.5 L324,191.3 C323.6,192.8 322.6,193.8 320.8,193.8 C318.3,193.8 316.7,191 316.7,186.3 Z"/><path d="M324,181.5 C324.2,177.5 326.2,175.5 329.6,175.5 C332.8,175.5 334.6,177.6 334.8,181 L334.8,191.8 C334.6,195 332.8,196.5 329.6,196.5 C326.2,196.5 324.2,194.8 324,191.3"/><path d="M333.3,179.6 L333.3,193" stroke-width="3.2"/><path d="M334.8,180.4 C338.8,180.4 342.4,182.8 342.9,186.3 C342.4,189.8 338.8,192.2 334.8,192.2"/></g><circle cx="337.9" cy="185.2" r="1.5" fill="#d8601b"/><path d="M328.2,175.6 L330.6,175.6 M328.2,196.4 L330.6,196.4" stroke="#fff" stroke-width="0.9"/></g>
<g transform="translate(-60.00,195.5)"><g fill="none" stroke="#d9611c" stroke-width="1.9"><ellipse cx="524.19" cy="178.66" rx="6.8" ry="4.1" transform="rotate(-82.0 524.19 178.66)"/><ellipse cx="529.60" cy="183.89" rx="6.8" ry="4.1" transform="rotate(-10.0 529.60 183.89)"/><ellipse cx="526.30" cy="190.65" rx="6.8" ry="4.1" transform="rotate(62.0 526.30 190.65)"/><ellipse cx="518.85" cy="189.60" rx="6.8" ry="4.1" transform="rotate(134.0 518.85 189.60)"/><ellipse cx="517.55" cy="182.19" rx="6.8" ry="4.1" transform="rotate(206.0 517.55 182.19)"/></g><g stroke="#d9611c" stroke-width="1.6" stroke-linecap="round" fill="none"><path d="M509.8,174.4 L515.6,179.2 M511.6,174 L512.4,176.4 M509.6,176.6 L512,177"/><path d="M533.2,173.2 L530.2,178.6 M533.6,175.4 L531.4,176.2"/><path d="M508.8,191 L514.4,189.6 M510.2,193.4 L512.2,190.4"/></g><circle cx="523.3" cy="185.0" r="2" fill="#d9611c"/></g>
<g transform="translate(7.00,195.5)"><polygon points="485.60,169.60 488.05,173.99 492.88,172.62 491.51,177.45 495.90,179.90 491.51,182.35 492.88,187.18 488.05,185.81 485.60,190.20 483.15,185.81 478.32,187.18 479.69,182.35 475.30,179.90 479.69,177.45 478.32,172.62 483.15,173.99" fill="none" stroke="#e59f0a" stroke-width="2.1" stroke-linejoin="round"/><circle cx="485.6" cy="179.9" r="5.0" fill="#e59f0a"/><line x1="485.6" y1="189" x2="485.6" y2="198.8" stroke="#e59f0a" stroke-width="2.6"/><path d="M485.6,196.2 C482.5,192.6 478.5,192.6 476.2,193.8 C478.8,196.4 482.6,196.8 485.6,196.2 Z" fill="#e59f0a" stroke="#e59f0a" stroke-width="0.8"/><path d="M485.6,196.2 C488.8,192.4 492.8,191.6 495.4,192.2 C493.4,195.6 489.2,196.8 485.6,196.2 Z" fill="#e59f0a" stroke="#e59f0a" stroke-width="0.8"/></g>
<g transform="translate(137.00,195.5)"><g fill="none" stroke="#ebe03a" stroke-width="2.2" stroke-linejoin="round" stroke-linecap="round"><path d="M372.4,183.2 C372,190 373.8,196 380.8,196.4 L393.6,196.4 C398,196 399.6,192.4 398.8,188.6 C398.3,186.4 396.6,184.8 395,184 C397.6,183 398.8,181 398.8,178.8 C398.8,175.6 396.4,173.2 393.4,173.2 C390.2,173.2 388,175.6 388,178.6 C388,180.8 389,182.6 390.6,183.6 C386,185.4 379.6,185.2 372.4,183.2 Z"/><path d="M398.8,178.2 L403.6,179.2 L399.4,182"/></g><circle cx="395.4" cy="177.2" r="1.1" fill="#ebe03a"/></g>
<path d="M284.8,212.8 C290.5,224.5 317.5,224.5 323.4,212.8" fill="none" stroke="#9a9a9a" stroke-width="3.0"/>
<path d="M278.3,200.5 L281.3,217.6 L285.2,213.4 L292,211.6 Z" fill="#9a9a9a" stroke="#9a9a9a" stroke-width="0.6" stroke-linejoin="round"/>
<path d="M330.9,200.5 L327.9,217.6 L324,213.4 L317.6,211.6 Z" fill="#9a9a9a" stroke="#9a9a9a" stroke-width="0.6" stroke-linejoin="round"/>
<rect x="501.20" y="30.30" width="68.30" height="68.30" fill="#f7f0eb"/><rect x="501.90" y="31.00" width="8.96" height="8.96" fill="#7e0707"/><rect x="510.26" y="39.36" width="8.96" height="8.96" fill="#7e0707"/><rect x="518.62" y="47.72" width="8.96" height="8.96" fill="#7e0707"/><rect x="526.99" y="56.09" width="8.96" height="8.96" fill="#7e0707"/><rect x="535.35" y="64.45" width="8.96" height="8.96" fill="#7e0707"/><rect x="543.71" y="72.81" width="8.96" height="8.96" fill="#7e0707"/><rect x="552.07" y="81.17" width="8.96" height="8.96" fill="#7e0707"/><rect x="560.44" y="89.54" width="8.96" height="8.96" fill="#7e0707"/><rect x="501.85" y="30.95" width="67.00" height="67.00" fill="none" stroke="#1e1e1e" stroke-width="1.3"/>
<rect x="582.20" y="30.30" width="68.30" height="68.30" fill="#f7f0eb"/><rect x="582.90" y="31.00" width="8.96" height="8.96" fill="#ec8934"/><rect x="591.26" y="39.36" width="8.96" height="8.96" fill="#ea8430"/><rect x="599.63" y="47.72" width="8.96" height="8.96" fill="#f7a354"/><rect x="607.99" y="56.09" width="8.96" height="8.96" fill="#f6a04e"/><rect x="616.35" y="64.45" width="8.96" height="8.96" fill="#fbc28f"/><rect x="624.71" y="72.81" width="8.96" height="8.96" fill="#fbc08b"/><rect x="633.08" y="81.17" width="8.96" height="8.96" fill="#fcc796"/><rect x="641.44" y="89.54" width="8.96" height="8.96" fill="#fcc999"/><rect x="582.85" y="30.95" width="67.00" height="67.00" fill="none" stroke="#1e1e1e" stroke-width="1.3"/>
<rect x="662.70" y="30.30" width="68.30" height="68.30" fill="#f7f0eb"/><rect x="663.40" y="31.00" width="8.96" height="8.96" fill="#f3984a"/><rect x="671.76" y="31.00" width="8.96" height="8.96" fill="#f3984a"/><rect x="680.13" y="31.00" width="8.96" height="8.96" fill="#f3984a"/><rect x="688.49" y="31.00" width="8.96" height="8.96" fill="#f3984a"/><rect x="696.85" y="31.00" width="8.96" height="8.96" fill="#f3984a"/><rect x="705.21" y="31.00" width="8.96" height="8.96" fill="#f3984a"/><rect x="713.58" y="31.00" width="8.96" height="8.96" fill="#f3984a"/><rect x="721.94" y="31.00" width="8.96" height="8.96" fill="#f3984a"/><rect x="663.40" y="39.36" width="8.96" height="8.96" fill="#f3984a"/><rect x="671.76" y="39.36" width="8.96" height="8.96" fill="#f3984a"/><rect x="680.13" y="39.36" width="8.96" height="8.96" fill="#f3984a"/><rect x="688.49" y="39.36" width="8.96" height="8.96" fill="#f3984a"/><rect x="696.85" y="39.36" width="8.96" height="8.96" fill="#6cb4e8"/><rect x="705.21" y="39.36" width="8.96" height="8.96" fill="#6cb4e8"/><rect x="713.58" y="39.36" width="8.96" height="8.96" fill="#6cb4e8"/><rect x="721.94" y="39.36" width="8.96" height="8.96" fill="#6cb4e8"/><rect x="663.40" y="47.72" width="8.96" height="8.96" fill="#e27628"/><rect x="671.76" y="47.72" width="8.96" height="8.96" fill="#e27628"/><rect x="680.13" y="47.72" width="8.96" height="8.96" fill="#4b97d6"/><rect x="688.49" y="47.72" width="8.96" height="8.96" fill="#4b97d6"/><rect x="696.85" y="56.09" width="8.96" height="8.96" fill="#e27628"/><rect x="705.21" y="56.09" width="8.96" height="8.96" fill="#e27628"/><rect x="713.58" y="56.09" width="8.96" height="8.96" fill="#4b97d6"/><rect x="721.94" y="56.09" width="8.96" height="8.96" fill="#4b97d6"/><rect x="663.40" y="64.45" width="8.96" height="8.96" fill="#bc4a08"/><rect x="671.76" y="64.45" width="8.96" height="8.96" fill="#2273b8"/><rect x="680.13" y="72.81" width="8.96" height="8.96" fill="#bc4a08"/><rect x="688.49" y="72.81" width="8.96" height="8.96" fill="#2273b8"/><rect x="696.85" y="81.17" width="8.96" height="8.96" fill="#bc4a08"/><rect x="705.21" y="81.17" width="8.96" height="8.96" fill="#2273b8"/><rect x="713.58" y="89.54" width="8.96" height="8.96" fill="#2273b8"/><rect x="721.94" y="89.54" width="8.96" height="8.96" fill="#bc4a08"/><rect x="663.35" y="30.95" width="67.00" height="67.00" fill="none" stroke="#1e1e1e" stroke-width="1.3"/>
<rect x="582.20" y="123.20" width="68.30" height="68.30" fill="#f7f0eb"/><rect x="582.90" y="123.90" width="8.96" height="8.96" fill="#6f0606"/><rect x="591.26" y="132.26" width="8.96" height="8.96" fill="#800a05"/><rect x="599.63" y="140.62" width="8.96" height="8.96" fill="#c4500b"/><rect x="607.99" y="148.99" width="8.96" height="8.96" fill="#c7530c"/><rect x="616.35" y="157.35" width="8.96" height="8.96" fill="#e0701e"/><rect x="624.71" y="165.71" width="8.96" height="8.96" fill="#e3741f"/><rect x="633.08" y="174.07" width="8.96" height="8.96" fill="#eb812a"/><rect x="641.44" y="182.44" width="8.96" height="8.96" fill="#ed862d"/><rect x="582.85" y="123.85" width="67.00" height="67.00" fill="none" stroke="#1e1e1e" stroke-width="1.3"/>
<rect x="662.70" y="123.20" width="68.30" height="68.30" fill="#f7f0eb"/><rect x="663.40" y="123.90" width="8.96" height="8.96" fill="#c6520b"/><rect x="671.76" y="123.90" width="8.96" height="8.96" fill="#f9bd88"/><rect x="680.13" y="123.90" width="8.96" height="8.96" fill="#fbdfc6"/><rect x="688.49" y="123.90" width="8.96" height="8.96" fill="#fbdfc6"/><rect x="663.40" y="132.26" width="8.96" height="8.96" fill="#f9bd88"/><rect x="671.76" y="132.26" width="8.96" height="8.96" fill="#c6520b"/><rect x="680.13" y="132.26" width="8.96" height="8.96" fill="#fbdfc6"/><rect x="688.49" y="132.26" width="8.96" height="8.96" fill="#fbdfc6"/><rect x="663.40" y="140.62" width="8.96" height="8.96" fill="#fbdfc6"/><rect x="671.76" y="140.62" width="8.96" height="8.96" fill="#fbdfc6"/><rect x="680.13" y="140.62" width="8.96" height="8.96" fill="#c6520b"/><rect x="688.49" y="140.62" width="8.96" height="8.96" fill="#f9bd88"/><rect x="663.40" y="148.99" width="8.96" height="8.96" fill="#fbdfc6"/><rect x="671.76" y="148.99" width="8.96" height="8.96" fill="#fbdfc6"/><rect x="680.13" y="148.99" width="8.96" height="8.96" fill="#f9bd88"/><rect x="688.49" y="148.99" width="8.96" height="8.96" fill="#c6520b"/><rect x="696.85" y="157.35" width="8.96" height="8.96" fill="#c6520b"/><rect x="705.21" y="157.35" width="8.96" height="8.96" fill="#f9bd88"/><rect x="713.58" y="157.35" width="8.96" height="8.96" fill="#fbdfc6"/><rect x="721.94" y="157.35" width="8.96" height="8.96" fill="#fbdfc6"/><rect x="696.85" y="165.71" width="8.96" height="8.96" fill="#f9bd88"/><rect x="705.21" y="165.71" width="8.96" height="8.96" fill="#c6520b"/><rect x="713.58" y="165.71" width="8.96" height="8.96" fill="#fbdfc6"/><rect x="721.94" y="165.71" width="8.96" height="8.96" fill="#fbdfc6"/><rect x="696.85" y="174.07" width="8.96" height="8.96" fill="#fbdfc6"/><rect x="705.21" y="174.07" width="8.96" height="8.96" fill="#fbdfc6"/><rect x="713.58" y="174.07" width="8.96" height="8.96" fill="#c6520b"/><rect x="721.94" y="174.07" width="8.96" height="8.96" fill="#f9bd88"/><rect x="696.85" y="182.44" width="8.96" height="8.96" fill="#fbdfc6"/><rect x="705.21" y="182.44" width="8.96" height="8.96" fill="#fbdfc6"/><rect x="713.58" y="182.44" width="8.96" height="8.96" fill="#f9bd88"/><rect x="721.94" y="182.44" width="8.96" height="8.96" fill="#c6520b"/><rect x="663.35" y="123.85" width="67.00" height="67.00" fill="none" stroke="#1e1e1e" stroke-width="1.3"/>
<text x="535.4" y="24.6" font-family="'DejaVu Sans', 'Liberation Sans', sans-serif" font-style="italic" font-size="15.5" text-anchor="middle" fill="#1a1a1a" stroke="#1a1a1a" stroke-width="0.15">Ũ</text>
<text x="616.4" y="24.6" font-family="'DejaVu Sans', 'Liberation Sans', sans-serif" font-style="italic" font-size="15.5" text-anchor="middle" fill="#1a1a1a" stroke="#1a1a1a" stroke-width="0.15">S̃</text>
<text x="696.9" y="24.6" font-family="'DejaVu Sans', 'Liberation Sans', sans-serif" font-style="italic" font-size="15.5" text-anchor="middle" fill="#1a1a1a" stroke="#1a1a1a" stroke-width="0.15">Ṽ<tspan font-size="10.8" dy="-6">T</tspan></text>
<text x="616.2" y="117.2" font-family="'DejaVu Sans', 'Liberation Sans', sans-serif" font-style="italic" font-size="15.5" text-anchor="middle" fill="#1a1a1a" stroke="#1a1a1a" stroke-width="0.15">ŨS̃Ũ<tspan font-size="10.8" dy="-6">T</tspan></text>
<text x="696.9" y="117.2" font-family="'DejaVu Sans', 'Liberation Sans', sans-serif" font-style="italic" font-size="15.5" text-anchor="middle" fill="#1a1a1a" stroke="#1a1a1a" stroke-width="0.15">ṼS̃Ṽ<tspan font-size="10.8" dy="-6">T</tspan></text>
<rect x="501.20" y="225.90" width="68.30" height="68.30" fill="#f7f0eb"/><rect x="501.90" y="226.60" width="8.96" height="8.96" fill="#7e0707"/><rect x="510.26" y="234.96" width="8.96" height="8.96" fill="#7e0707"/><rect x="518.62" y="243.32" width="8.96" height="8.96" fill="#7e0707"/><rect x="526.99" y="251.69" width="8.96" height="8.96" fill="#7e0707"/><rect x="535.35" y="260.05" width="8.96" height="8.96" fill="#7e0707"/><rect x="543.71" y="268.41" width="8.96" height="8.96" fill="#7e0707"/><rect x="552.07" y="276.77" width="8.96" height="8.96" fill="#7e0707"/><rect x="560.44" y="285.14" width="8.96" height="8.96" fill="#7e0707"/><rect x="501.85" y="226.55" width="67.00" height="67.00" fill="none" stroke="#1e1e1e" stroke-width="1.3"/>
<rect x="582.20" y="225.90" width="68.30" height="68.30" fill="#f7f0eb"/><rect x="582.90" y="226.60" width="8.96" height="8.96" fill="#ec8934"/><rect x="591.26" y="234.96" width="8.96" height="8.96" fill="#ea8430"/><rect x="599.63" y="243.32" width="8.96" height="8.96" fill="#f7a354"/><rect x="607.99" y="251.69" width="8.96" height="8.96" fill="#f6a04e"/><rect x="616.35" y="260.05" width="8.96" height="8.96" fill="#fbc28f"/><rect x="624.71" y="268.41" width="8.96" height="8.96" fill="#fbc08b"/><rect x="633.08" y="276.77" width="8.96" height="8.96" fill="#fcc796"/><rect x="641.44" y="285.14" width="8.96" height="8.96" fill="#fcc999"/><rect x="582.85" y="226.55" width="67.00" height="67.00" fill="none" stroke="#1e1e1e" stroke-width="1.3"/>
<rect x="662.70" y="225.90" width="68.30" height="68.30" fill="#f7f0eb"/><rect x="663.40" y="226.60" width="8.96" height="8.96" fill="#f3984a"/><rect x="671.76" y="226.60" width="8.96" height="8.96" fill="#f3984a"/><rect x="680.13" y="226.60" width="8.96" height="8.96" fill="#f3984a"/><rect x="688.49" y="226.60" width="8.96" height="8.96" fill="#f3984a"/><rect x="696.85" y="226.60" width="8.96" height="8.96" fill="#f3984a"/><rect x="705.21" y="226.60" width="8.96" height="8.96" fill="#f3984a"/><rect x="713.58" y="226.60" width="8.96" height="8.96" fill="#f3984a"/><rect x="721.94" y="226.60" width="8.96" height="8.96" fill="#f3984a"/><rect x="663.40" y="234.96" width="8.96" height="8.96" fill="#6cb4e8"/><rect x="671.76" y="234.96" width="8.96" height="8.96" fill="#f3984a"/><rect x="680.13" y="234.96" width="8.96" height="8.96" fill="#f3984a"/><rect x="688.49" y="234.96" width="8.96" height="8.96" fill="#6cb4e8"/><rect x="696.85" y="234.96" width="8.96" height="8.96" fill="#f3984a"/><rect x="705.21" y="234.96" width="8.96" height="8.96" fill="#f3984a"/><rect x="713.58" y="234.96" width="8.96" height="8.96" fill="#6cb4e8"/><rect x="721.94" y="234.96" width="8.96" height="8.96" fill="#6cb4e8"/><rect x="671.76" y="243.32" width="8.96" height="8.96" fill="#4b97d6"/><rect x="680.13" y="243.32" width="8.96" height="8.96" fill="#e27628"/><rect x="696.85" y="243.32" width="8.96" height="8.96" fill="#4b97d6"/><rect x="705.21" y="243.32" width="8.96" height="8.96" fill="#e27628"/><rect x="663.40" y="251.69" width="8.96" height="8.96" fill="#e27628"/><rect x="688.49" y="251.69" width="8.96" height="8.96" fill="#4b97d6"/><rect x="713.58" y="251.69" width="8.96" height="8.96" fill="#4b97d6"/><rect x="721.94" y="251.69" width="8.96" height="8.96" fill="#e27628"/><rect x="680.13" y="260.05" width="8.96" height="8.96" fill="#bc4a08"/><rect x="705.21" y="260.05" width="8.96" height="8.96" fill="#2273b8"/><rect x="671.76" y="268.41" width="8.96" height="8.96" fill="#2273b8"/><rect x="696.85" y="268.41" width="8.96" height="8.96" fill="#bc4a08"/><rect x="663.40" y="276.77" width="8.96" height="8.96" fill="#bc4a08"/><rect x="721.94" y="276.77" width="8.96" height="8.96" fill="#2273b8"/><rect x="688.49" y="285.14" width="8.96" height="8.96" fill="#bc4a08"/><rect x="713.58" y="285.14" width="8.96" height="8.96" fill="#2273b8"/><rect x="663.35" y="226.55" width="67.00" height="67.00" fill="none" stroke="#1e1e1e" stroke-width="1.3"/>
<rect x="582.20" y="318.80" width="68.30" height="68.30" fill="#f7f0eb"/><rect x="582.90" y="319.50" width="8.96" height="8.96" fill="#6f0606"/><rect x="591.26" y="327.86" width="8.96" height="8.96" fill="#800a05"/><rect x="599.63" y="336.23" width="8.96" height="8.96" fill="#c4500b"/><rect x="607.99" y="344.59" width="8.96" height="8.96" fill="#c7530c"/><rect x="616.35" y="352.95" width="8.96" height="8.96" fill="#e0701e"/><rect x="624.71" y="361.31" width="8.96" height="8.96" fill="#e3741f"/><rect x="633.08" y="369.68" width="8.96" height="8.96" fill="#eb812a"/><rect x="641.44" y="378.04" width="8.96" height="8.96" fill="#ed862d"/><rect x="582.85" y="319.45" width="67.00" height="67.00" fill="none" stroke="#1e1e1e" stroke-width="1.3"/>
<rect x="662.70" y="318.80" width="68.30" height="68.30" fill="#f7f0eb"/><rect x="663.40" y="319.50" width="8.96" height="8.96" fill="#c6520b"/><rect x="671.76" y="327.86" width="8.96" height="8.96" fill="#c6520b"/><rect x="680.13" y="336.23" width="8.96" height="8.96" fill="#c6520b"/><rect x="688.49" y="344.59" width="8.96" height="8.96" fill="#c6520b"/><rect x="696.85" y="352.95" width="8.96" height="8.96" fill="#c6520b"/><rect x="705.21" y="361.31" width="8.96" height="8.96" fill="#c6520b"/><rect x="713.58" y="369.68" width="8.96" height="8.96" fill="#c6520b"/><rect x="721.94" y="378.04" width="8.96" height="8.96" fill="#c6520b"/><rect x="721.94" y="319.50" width="8.96" height="8.96" fill="#f9bd88"/><rect x="663.40" y="378.04" width="8.96" height="8.96" fill="#f9bd88"/><rect x="696.85" y="327.86" width="8.96" height="8.96" fill="#f9bd88"/><rect x="671.76" y="352.95" width="8.96" height="8.96" fill="#f9bd88"/><rect x="705.21" y="336.23" width="8.96" height="8.96" fill="#f9bd88"/><rect x="680.13" y="361.31" width="8.96" height="8.96" fill="#f9bd88"/><rect x="713.58" y="344.59" width="8.96" height="8.96" fill="#f9bd88"/><rect x="688.49" y="369.68" width="8.96" height="8.96" fill="#f9bd88"/><rect x="688.49" y="319.50" width="8.96" height="8.96" fill="#fbdfc6"/><rect x="663.40" y="344.59" width="8.96" height="8.96" fill="#fbdfc6"/><rect x="713.58" y="319.50" width="8.96" height="8.96" fill="#fbdfc6"/><rect x="663.40" y="369.68" width="8.96" height="8.96" fill="#fbdfc6"/><rect x="680.13" y="327.86" width="8.96" height="8.96" fill="#fbdfc6"/><rect x="671.76" y="336.23" width="8.96" height="8.96" fill="#fbdfc6"/><rect x="705.21" y="327.86" width="8.96" height="8.96" fill="#fbdfc6"/><rect x="671.76" y="361.31" width="8.96" height="8.96" fill="#fbdfc6"/><rect x="696.85" y="336.23" width="8.96" height="8.96" fill="#fbdfc6"/><rect x="680.13" y="352.95" width="8.96" height="8.96" fill="#fbdfc6"/><rect x="721.94" y="344.59" width="8.96" height="8.96" fill="#fbdfc6"/><rect x="688.49" y="378.04" width="8.96" height="8.96" fill="#fbdfc6"/><rect x="705.21" y="352.95" width="8.96" height="8.96" fill="#fbdfc6"/><rect x="696.85" y="361.31" width="8.96" height="8.96" fill="#fbdfc6"/><rect x="721.94" y="369.68" width="8.96" height="8.96" fill="#fbdfc6"/><rect x="713.58" y="378.04" width="8.96" height="8.96" fill="#fbdfc6"/><rect x="671.76" y="319.50" width="8.96" height="8.96" fill="#f9e8da"/><rect x="663.40" y="327.86" width="8.96" height="8.96" fill="#f9e8da"/><rect x="663.35" y="319.45" width="67.00" height="67.00" fill="none" stroke="#1e1e1e" stroke-width="1.3"/>
<text x="535.4" y="220.2" font-family="'DejaVu Sans', 'Liberation Sans', sans-serif" font-style="italic" font-size="15.5" text-anchor="middle" fill="#1a1a1a" stroke="#1a1a1a" stroke-width="0.15">Ũ</text>
<text x="616.4" y="220.2" font-family="'DejaVu Sans', 'Liberation Sans', sans-serif" font-style="italic" font-size="15.5" text-anchor="middle" fill="#1a1a1a" stroke="#1a1a1a" stroke-width="0.15">S̃</text>
<text x="696.9" y="220.2" font-family="'DejaVu Sans', 'Liberation Sans', sans-serif" font-style="italic" font-size="15.5" text-anchor="middle" fill="#1a1a1a" stroke="#1a1a1a" stroke-width="0.15">Ṽ<tspan font-size="10.8" dy="-6">T</tspan></text>
<text x="616.2" y="312.8" font-family="'DejaVu Sans', 'Liberation Sans', sans-serif" font-style="italic" font-size="15.5" text-anchor="middle" fill="#1a1a1a" stroke="#1a1a1a" stroke-width="0.15">ŨS̃Ũ<tspan font-size="10.8" dy="-6">T</tspan></text>
<text x="696.9" y="312.8" font-family="'DejaVu Sans', 'Liberation Sans', sans-serif" font-style="italic" font-size="15.5" text-anchor="middle" fill="#1a1a1a" stroke="#1a1a1a" stroke-width="0.15">ṼS̃Ṽ<tspan font-size="10.8" dy="-6">T</tspan></text>
</svg></body></html>
